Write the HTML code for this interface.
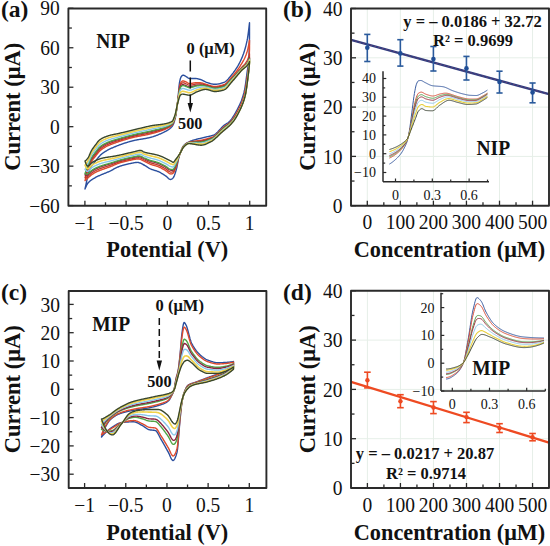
<!DOCTYPE html>
<html><head><meta charset="utf-8"><style>
html,body{margin:0;padding:0;background:#fff;width:550px;height:546px;overflow:hidden}
svg{display:block;font-family:"Liberation Serif",serif}
</style></head><body>
<svg width="550" height="546" viewBox="0 0 550 546" font-family="Liberation Serif, serif" fill="#111">
<rect width="550" height="546" fill="#fff"/>
<g>
<path d="M85,189 L85.5,186.64 L86,184.31 L86.5,182 L87,179.6 L87.5,177.15 L88,174.87 L88.5,173 L89,171.5 L89.5,170.17 L90,168.98 L90.5,167.93 L91,167 L91.5,166.17 L92,165.42 L92.5,164.73 L93,164.08 L93.5,163.47 L94,162.88 L94.5,162.28 L95,161.68 L95.5,161.06 L96,160.43 L96.5,159.8 L97,159.17 L97.5,158.54 L98,157.92 L98.5,157.32 L99,156.73 L99.5,156.16 L100,155.62 L100.5,155.1 L101,154.61 L101.5,154.16 L102,153.75 L102.5,153.38 L103,153.02 L103.5,152.67 L104,152.33 L104.5,152 L105,151.68 L105.5,151.37 L106,151.07 L106.5,150.77 L107,150.49 L107.5,150.21 L108,149.94 L108.5,149.68 L109,149.42 L109.5,149.17 L110,148.93 L110.5,148.69 L111,148.46 L111.5,148.23 L112,148 L112.5,147.78 L113,147.57 L113.5,147.35 L114,147.14 L114.5,146.93 L115,146.73 L115.5,146.52 L116,146.32 L116.5,146.12 L117,145.92 L117.5,145.72 L118,145.53 L118.5,145.33 L119,145.14 L119.5,144.95 L120,144.77 L120.5,144.58 L121,144.4 L121.5,144.22 L122,144.04 L122.5,143.87 L123,143.7 L123.5,143.53 L124,143.36 L124.5,143.19 L125,143.03 L125.5,142.87 L126,142.71 L126.5,142.55 L127,142.4 L127.5,142.25 L128,142.1 L128.5,141.95 L129,141.81 L129.5,141.67 L130,141.53 L130.5,141.39 L131,141.25 L131.5,141.12 L132,140.99 L132.5,140.87 L133,140.74 L133.5,140.62 L134,140.5 L134.5,140.38 L135,140.27 L135.5,140.17 L136,140.06 L136.5,139.97 L137,139.87 L137.5,139.78 L138,139.69 L138.5,139.6 L139,139.51 L139.5,139.43 L140,139.35 L140.5,139.27 L141,139.19 L141.5,139.11 L142,139.03 L142.5,138.95 L143,138.87 L143.5,138.79 L144,138.7 L144.5,138.62 L145,138.53 L145.5,138.44 L146,138.35 L146.5,138.26 L147,138.16 L147.5,138.06 L148,137.96 L148.5,137.85 L149,137.74 L149.5,137.62 L150,137.5 L150.5,137.37 L151,137.24 L151.5,137.1 L152,136.95 L152.5,136.8 L153,136.65 L153.5,136.48 L154,136.32 L154.5,136.15 L155,135.97 L155.5,135.79 L156,135.61 L156.5,135.42 L157,135.23 L157.5,135.03 L158,134.83 L158.5,134.63 L159,134.42 L159.5,134.21 L160,134 L160.5,133.79 L161,133.57 L161.5,133.36 L162,133.14 L162.5,132.91 L163,132.69 L163.5,132.45 L164,132.22 L164.5,131.97 L165,131.71 L165.5,131.45 L166,131.18 L166.5,130.89 L167,130.59 L167.5,130.28 L168,129.96 L168.5,129.62 L169,129.26 L169.5,128.89 L170,128.5 L170.5,128.08 L171,127.62 L171.5,127.1 L172,126.5 L172.5,125.81 L173,125 L173.5,123.97 L174,122.64 L174.5,121.01 L175,119.13 L175.5,117 L176,114.33 L176.5,110.94 L177,107.01 L177.5,102.73 L178,98.26 L178.5,92.47 L179,86.54 L179.5,82.64 L180,80.11 L180.5,78.18 L181,77 L181.5,76.3 L182,75.73 L182.5,75.34 L183,75.2 L183.5,75.26 L184,75.43 L184.5,75.67 L185,75.94 L185.5,76.23 L186,76.5 L186.5,76.79 L187,77.15 L187.5,77.53 L188,77.89 L188.5,78.2 L189,78.42 L189.5,78.5 L190,78.5 L190.5,78.5 L191,78.5 L191.5,78.5 L192,78.5 L192.5,78.5 L193,78.5 L193.5,78.5 L194,78.5 L194.5,78.5 L195,78.5 L195.5,78.5 L196,78.52 L196.5,78.57 L197,78.64 L197.5,78.73 L198,78.84 L198.5,78.96 L199,79.09 L199.5,79.22 L200,79.36 L200.5,79.5 L201,79.66 L201.5,79.85 L202,80.06 L202.5,80.31 L203,80.57 L203.5,80.83 L204,81.11 L204.5,81.38 L205,81.64 L205.5,81.89 L206,82.12 L206.5,82.33 L207,82.5 L207.5,82.65 L208,82.81 L208.5,82.97 L209,83.13 L209.5,83.28 L210,83.43 L210.5,83.57 L211,83.71 L211.5,83.83 L212,83.95 L212.5,84.05 L213,84.13 L213.5,84.2 L214,84.26 L214.5,84.29 L215,84.3 L215.5,84.29 L216,84.27 L216.5,84.23 L217,84.17 L217.5,84.11 L218,84.03 L218.5,83.94 L219,83.83 L219.5,83.72 L220,83.59 L220.5,83.46 L221,83.32 L221.5,83.17 L222,83.01 L222.5,82.85 L223,82.68 L223.5,82.51 L224,82.32 L224.5,82.1 L225,81.81 L225.5,81.48 L226,81.1 L226.5,80.68 L227,80.22 L227.5,79.72 L228,79.2 L228.5,78.65 L229,78.07 L229.5,77.48 L230,76.87 L230.5,76.25 L231,75.62 L231.5,74.99 L232,74.35 L232.5,73.72 L233,73.1 L233.5,72.45 L234,71.8 L234.5,71.12 L235,70.42 L235.5,69.71 L236,68.96 L236.5,68.2 L237,67.41 L237.5,66.58 L238,65.73 L238.5,64.85 L239,63.93 L239.5,62.98 L240,61.99 L240.5,60.96 L241,59.89 L241.5,58.77 L242,57.61 L242.5,56.4 L243,55.11 L243.5,53.75 L244,52.29 L244.5,50.73 L245,49.06 L245.5,47.25 L246,45.31 L246.5,43.21 L247,40.95 L247.5,38.4 L248,35.17 L248.5,31.37 L249,27.18 L249.5,22.78 L249.5,37.89 L249,58.15 L248.5,63.62 L248,66.9 L247.5,69.55 L247,73 L246.5,76.84 L246,80.66 L245.5,84.28 L245,87.54 L244.5,90.28 L244,92.38 L243.5,94.22 L243,95.93 L242.5,97.52 L242,99 L241.5,100.38 L241,101.66 L240.5,102.87 L240,104.01 L239.5,105.09 L239,106.12 L238.5,107.12 L238,108.09 L237.5,109.04 L237,109.99 L236.5,110.93 L236,111.85 L235.5,112.76 L235,113.64 L234.5,114.5 L234,115.34 L233.5,116.15 L233,116.93 L232.5,117.68 L232,118.39 L231.5,119.08 L231,119.72 L230.5,120.33 L230,120.9 L229.5,121.42 L229,121.9 L228.5,122.33 L228,122.71 L227.5,123.05 L227,123.37 L226.5,123.68 L226,123.99 L225.5,124.3 L225,124.63 L224.5,125 L224,125.4 L223.5,125.84 L223,126.31 L222.5,126.8 L222,127.31 L221.5,127.83 L221,128.37 L220.5,128.92 L220,129.47 L219.5,130.02 L219,130.56 L218.5,131.1 L218,131.62 L217.5,132.13 L217,132.61 L216.5,133.07 L216,133.5 L215.5,133.89 L215,134.25 L214.5,134.56 L214,134.82 L213.5,135.04 L213,135.23 L212.5,135.4 L212,135.56 L211.5,135.71 L211,135.85 L210.5,135.99 L210,136.11 L209.5,136.23 L209,136.34 L208.5,136.45 L208,136.56 L207.5,136.66 L207,136.77 L206.5,136.88 L206,136.99 L205.5,137.1 L205,137.22 L204.5,137.35 L204,137.48 L203.5,137.61 L203,137.73 L202.5,137.86 L202,137.98 L201.5,138.1 L201,138.22 L200.5,138.33 L200,138.45 L199.5,138.57 L199,138.69 L198.5,138.8 L198,138.92 L197.5,139.04 L197,139.17 L196.5,139.29 L196,139.42 L195.5,139.56 L195,139.69 L194.5,139.84 L194,139.98 L193.5,140.13 L193,140.29 L192.5,140.45 L192,140.62 L191.5,140.8 L191,140.99 L190.5,141.18 L190,141.38 L189.5,141.59 L189,141.81 L188.5,142.04 L188,142.28 L187.5,142.55 L187,142.84 L186.5,143.15 L186,143.49 L185.5,143.86 L185,144.27 L184.5,144.71 L184,145.2 L183.5,145.8 L183,146.57 L182.5,147.49 L182,148.55 L181.5,149.73 L181,151.02 L180.5,152.41 L180,153.86 L179.5,155.38 L179,157.04 L178.5,159.19 L178,161.66 L177.5,164.24 L177,166.73 L176.5,168.92 L176,170.65 L175.5,172.27 L175,173.83 L174.5,175.24 L174,176.45 L173.5,177.39 L173,178 L172.5,178.46 L172,178.87 L171.5,179.2 L171,179.42 L170.5,179.5 L170,179.42 L169.5,179.2 L169,178.87 L168.5,178.46 L168,177.99 L167.5,177.5 L167,177.01 L166.5,176.54 L166,176.14 L165.5,175.8 L165,175.48 L164.5,175.15 L164,174.83 L163.5,174.51 L163,174.2 L162.5,173.89 L162,173.59 L161.5,173.3 L161,173.01 L160.5,172.73 L160,172.47 L159.5,172.21 L159,171.97 L158.5,171.73 L158,171.51 L157.5,171.31 L157,171.12 L156.5,170.94 L156,170.77 L155.5,170.61 L155,170.46 L154.5,170.3 L154,170.15 L153.5,170 L153,169.84 L152.5,169.67 L152,169.5 L151.5,169.31 L151,169.11 L150.5,168.9 L150,168.66 L149.5,168.39 L149,168.1 L148.5,167.79 L148,167.47 L147.5,167.14 L147,166.81 L146.5,166.47 L146,166.15 L145.5,165.83 L145,165.53 L144.5,165.25 L144,165 L143.5,164.75 L143,164.5 L142.5,164.23 L142,163.97 L141.5,163.7 L141,163.45 L140.5,163.21 L140,163 L139.5,162.81 L139,162.64 L138.5,162.52 L138,162.44 L137.5,162.4 L137,162.41 L136.5,162.43 L136,162.47 L135.5,162.53 L135,162.6 L134.5,162.68 L134,162.77 L133.5,162.87 L133,162.97 L132.5,163.08 L132,163.18 L131.5,163.28 L131,163.38 L130.5,163.48 L130,163.57 L129.5,163.67 L129,163.78 L128.5,163.88 L128,163.99 L127.5,164.11 L127,164.22 L126.5,164.34 L126,164.46 L125.5,164.59 L125,164.71 L124.5,164.85 L124,164.98 L123.5,165.12 L123,165.26 L122.5,165.41 L122,165.56 L121.5,165.71 L121,165.87 L120.5,166.03 L120,166.2 L119.5,166.38 L119,166.56 L118.5,166.77 L118,166.98 L117.5,167.2 L117,167.44 L116.5,167.68 L116,167.93 L115.5,168.18 L115,168.44 L114.5,168.7 L114,168.97 L113.5,169.24 L113,169.51 L112.5,169.77 L112,170.04 L111.5,170.3 L111,170.56 L110.5,170.82 L110,171.06 L109.5,171.31 L109,171.54 L108.5,171.77 L108,171.99 L107.5,172.21 L107,172.42 L106.5,172.63 L106,172.84 L105.5,173.05 L105,173.25 L104.5,173.45 L104,173.66 L103.5,173.86 L103,174.06 L102.5,174.26 L102,174.47 L101.5,174.67 L101,174.88 L100.5,175.09 L100,175.31 L99.5,175.53 L99,175.75 L98.5,175.98 L98,176.22 L97.5,176.46 L97,176.7 L96.5,176.96 L96,177.22 L95.5,177.49 L95,177.77 L94.5,178.06 L94,178.35 L93.5,178.64 L93,178.93 L92.5,179.23 L92,179.55 L91.5,179.88 L91,180.23 L90.5,180.61 L90,181.02 L89.5,181.45 L89,181.93 L88.5,182.44 L88,183 L87.5,183.68 L87,184.54 L86.5,185.54 L86,186.64 L85.5,187.81 L85,189 Z" fill="none" stroke="#2b4f9e" stroke-width="1.4" stroke-linejoin="round"/>
<path d="M85,180.6 L85.5,178.85 L86,177.09 L86.5,175.32 L87,173.47 L87.5,171.56 L88,169.76 L88.5,168.21 L89,166.87 L89.5,165.59 L90,164.4 L90.5,163.31 L91,162.34 L91.5,161.49 L92,160.71 L92.5,160 L93,159.33 L93.5,158.69 L94,158.07 L94.5,157.46 L95,156.84 L95.5,156.21 L96,155.57 L96.5,154.92 L97,154.27 L97.5,153.63 L98,153 L98.5,152.4 L99,151.84 L99.5,151.31 L100,150.83 L100.5,150.37 L101,149.93 L101.5,149.53 L102,149.15 L102.5,148.81 L103,148.48 L103.5,148.16 L104,147.85 L104.5,147.56 L105,147.27 L105.5,146.99 L106,146.72 L106.5,146.46 L107,146.21 L107.5,145.97 L108,145.73 L108.5,145.5 L109,145.27 L109.5,145.05 L110,144.84 L110.5,144.63 L111,144.43 L111.5,144.24 L112,144.05 L112.5,143.86 L113,143.68 L113.5,143.5 L114,143.32 L114.5,143.15 L115,142.97 L115.5,142.8 L116,142.63 L116.5,142.46 L117,142.29 L117.5,142.12 L118,141.95 L118.5,141.78 L119,141.61 L119.5,141.45 L120,141.28 L120.5,141.12 L121,140.95 L121.5,140.79 L122,140.63 L122.5,140.48 L123,140.32 L123.5,140.17 L124,140.01 L124.5,139.86 L125,139.71 L125.5,139.56 L126,139.41 L126.5,139.27 L127,139.12 L127.5,138.98 L128,138.84 L128.5,138.7 L129,138.56 L129.5,138.43 L130,138.29 L130.5,138.16 L131,138.03 L131.5,137.9 L132,137.77 L132.5,137.65 L133,137.52 L133.5,137.4 L134,137.28 L134.5,137.16 L135,137.05 L135.5,136.94 L136,136.83 L136.5,136.72 L137,136.62 L137.5,136.52 L138,136.42 L138.5,136.32 L139,136.23 L139.5,136.13 L140,136.04 L140.5,135.94 L141,135.85 L141.5,135.76 L142,135.67 L142.5,135.58 L143,135.49 L143.5,135.39 L144,135.3 L144.5,135.21 L145,135.11 L145.5,135.02 L146,134.92 L146.5,134.82 L147,134.72 L147.5,134.61 L148,134.51 L148.5,134.4 L149,134.28 L149.5,134.17 L150,134.05 L150.5,133.93 L151,133.8 L151.5,133.68 L152,133.55 L152.5,133.42 L153,133.29 L153.5,133.15 L154,133.01 L154.5,132.87 L155,132.73 L155.5,132.59 L156,132.44 L156.5,132.29 L157,132.14 L157.5,131.98 L158,131.83 L158.5,131.67 L159,131.5 L159.5,131.34 L160,131.17 L160.5,131 L161,130.83 L161.5,130.66 L162,130.49 L162.5,130.31 L163,130.13 L163.5,129.94 L164,129.74 L164.5,129.54 L165,129.33 L165.5,129.12 L166,128.89 L166.5,128.66 L167,128.41 L167.5,128.15 L168,127.88 L168.5,127.59 L169,127.3 L169.5,126.98 L170,126.66 L170.5,126.31 L171,125.92 L171.5,125.49 L172,125 L172.5,124.38 L173,123.57 L173.5,122.53 L174,121.2 L174.5,119.65 L175,117.89 L175.5,115.88 L176,113.36 L176.5,110.26 L177,106.77 L177.5,103.09 L178,99.38 L178.5,94.81 L179,90.13 L179.5,86.93 L180,84.79 L180.5,83.22 L181,82.29 L181.5,81.7 L182,81.25 L182.5,80.97 L183,80.88 L183.5,80.94 L184,81.08 L184.5,81.27 L185,81.5 L185.5,81.73 L186,81.95 L186.5,82.19 L187,82.47 L187.5,82.77 L188,83.05 L188.5,83.29 L189,83.45 L189.5,83.51 L190,83.5 L190.5,83.47 L191,83.43 L191.5,83.37 L192,83.3 L192.5,83.22 L193,83.14 L193.5,83.05 L194,82.96 L194.5,82.87 L195,82.78 L195.5,82.7 L196,82.64 L196.5,82.6 L197,82.6 L197.5,82.61 L198,82.62 L198.5,82.65 L199,82.68 L199.5,82.72 L200,82.76 L200.5,82.8 L201,82.85 L201.5,82.94 L202,83.04 L202.5,83.17 L203,83.31 L203.5,83.47 L204,83.63 L204.5,83.8 L205,83.98 L205.5,84.15 L206,84.31 L206.5,84.47 L207,84.61 L207.5,84.75 L208,84.9 L208.5,85.05 L209,85.2 L209.5,85.36 L210,85.51 L210.5,85.66 L211,85.8 L211.5,85.94 L212,86.06 L212.5,86.17 L213,86.27 L213.5,86.35 L214,86.41 L214.5,86.45 L215,86.46 L215.5,86.45 L216,86.43 L216.5,86.39 L217,86.34 L217.5,86.28 L218,86.21 L218.5,86.12 L219,86.02 L219.5,85.92 L220,85.8 L220.5,85.68 L221,85.54 L221.5,85.4 L222,85.26 L222.5,85.1 L223,84.94 L223.5,84.78 L224,84.61 L224.5,84.38 L225,84.1 L225.5,83.76 L226,83.37 L226.5,82.95 L227,82.48 L227.5,81.98 L228,81.46 L228.5,80.91 L229,80.34 L229.5,79.76 L230,79.16 L230.5,78.57 L231,77.97 L231.5,77.37 L232,76.79 L232.5,76.22 L233,75.65 L233.5,75.07 L234,74.49 L234.5,73.88 L235,73.27 L235.5,72.64 L236,71.99 L236.5,71.34 L237,70.66 L237.5,69.97 L238,69.26 L238.5,68.54 L239,67.8 L239.5,67.05 L240,66.28 L240.5,65.49 L241,64.69 L241.5,63.86 L242,63.03 L242.5,62.19 L243,61.32 L243.5,60.41 L244,59.46 L244.5,58.44 L245,57.36 L245.5,56.19 L246,54.92 L246.5,53.55 L247,52.07 L247.5,50.4 L248,48.33 L248.5,45.92 L249,43.22 L249.5,40.22 L249.5,49.24 L249,62.69 L248.5,67.82 L248,71.49 L247.5,74.75 L247,78.36 L246.5,82.07 L246,85.59 L245.5,88.78 L245,91.51 L244.5,93.84 L244,95.75 L243.5,97.46 L243,99.03 L242.5,100.49 L242,101.85 L241.5,103.12 L241,104.31 L240.5,105.43 L240,106.5 L239.5,107.52 L239,108.52 L238.5,109.49 L238,110.43 L237.5,111.34 L237,112.24 L236.5,113.13 L236,113.99 L235.5,114.83 L235,115.64 L234.5,116.43 L234,117.19 L233.5,117.93 L233,118.63 L232.5,119.3 L232,119.95 L231.5,120.57 L231,121.17 L230.5,121.73 L230,122.26 L229.5,122.76 L229,123.22 L228.5,123.65 L228,124.04 L227.5,124.41 L227,124.76 L226.5,125.09 L226,125.43 L225.5,125.78 L225,126.14 L224.5,126.52 L224,126.93 L223.5,127.36 L223,127.81 L222.5,128.28 L222,128.77 L221.5,129.27 L221,129.78 L220.5,130.3 L220,130.83 L219.5,131.35 L219,131.88 L218.5,132.4 L218,132.92 L217.5,133.42 L217,133.9 L216.5,134.36 L216,134.8 L215.5,135.22 L215,135.6 L214.5,135.95 L214,136.27 L213.5,136.54 L213,136.79 L212.5,137.02 L212,137.24 L211.5,137.44 L211,137.62 L210.5,137.79 L210,137.95 L209.5,138.11 L209,138.26 L208.5,138.41 L208,138.56 L207.5,138.7 L207,138.84 L206.5,138.98 L206,139.12 L205.5,139.26 L205,139.4 L204.5,139.54 L204,139.67 L203.5,139.8 L203,139.92 L202.5,140.03 L202,140.13 L201.5,140.23 L201,140.31 L200.5,140.39 L200,140.46 L199.5,140.53 L199,140.6 L198.5,140.67 L198,140.73 L197.5,140.79 L197,140.85 L196.5,140.91 L196,140.98 L195.5,141.04 L195,141.11 L194.5,141.18 L194,141.25 L193.5,141.33 L193,141.41 L192.5,141.5 L192,141.6 L191.5,141.7 L191,141.81 L190.5,141.93 L190,142.06 L189.5,142.2 L189,142.35 L188.5,142.51 L188,142.71 L187.5,142.95 L187,143.23 L186.5,143.55 L186,143.9 L185.5,144.29 L185,144.71 L184.5,145.17 L184,145.65 L183.5,146.23 L183,146.98 L182.5,147.87 L182,148.87 L181.5,149.98 L181,151.17 L180.5,152.42 L180,153.71 L179.5,155.02 L179,156.41 L178.5,158.13 L178,160.07 L177.5,162.08 L177,164.03 L176.5,165.75 L176,167.16 L175.5,168.5 L175,169.81 L174.5,171.02 L174,172.05 L173.5,172.83 L173,173.29 L172.5,173.56 L172,173.74 L171.5,173.87 L171,173.94 L170.5,173.92 L170,173.78 L169.5,173.55 L169,173.24 L168.5,172.88 L168,172.47 L167.5,172.05 L167,171.63 L166.5,171.23 L166,170.87 L165.5,170.56 L165,170.26 L164.5,169.96 L164,169.66 L163.5,169.37 L163,169.08 L162.5,168.8 L162,168.53 L161.5,168.26 L161,168 L160.5,167.74 L160,167.5 L159.5,167.27 L159,167.04 L158.5,166.83 L158,166.63 L157.5,166.44 L157,166.27 L156.5,166.11 L156,165.95 L155.5,165.8 L155,165.66 L154.5,165.52 L154,165.38 L153.5,165.24 L153,165.1 L152.5,164.96 L152,164.81 L151.5,164.65 L151,164.49 L150.5,164.31 L150,164.11 L149.5,163.9 L149,163.66 L148.5,163.41 L148,163.16 L147.5,162.89 L147,162.62 L146.5,162.35 L146,162.08 L145.5,161.82 L145,161.57 L144.5,161.33 L144,161.1 L143.5,160.86 L143,160.59 L142.5,160.31 L142,160.03 L141.5,159.77 L141,159.55 L140.5,159.37 L140,159.23 L139.5,159.11 L139,159.02 L138.5,158.96 L138,158.93 L137.5,158.95 L137,158.99 L136.5,159.05 L136,159.12 L135.5,159.2 L135,159.29 L134.5,159.38 L134,159.48 L133.5,159.58 L133,159.69 L132.5,159.79 L132,159.9 L131.5,160 L131,160.11 L130.5,160.21 L130,160.31 L129.5,160.42 L129,160.52 L128.5,160.63 L128,160.75 L127.5,160.86 L127,160.98 L126.5,161.09 L126,161.22 L125.5,161.34 L125,161.46 L124.5,161.59 L124,161.72 L123.5,161.85 L123,161.99 L122.5,162.13 L122,162.27 L121.5,162.41 L121,162.55 L120.5,162.7 L120,162.85 L119.5,163 L119,163.17 L118.5,163.34 L118,163.52 L117.5,163.71 L117,163.9 L116.5,164.1 L116,164.31 L115.5,164.51 L115,164.72 L114.5,164.93 L114,165.14 L113.5,165.36 L113,165.57 L112.5,165.78 L112,165.99 L111.5,166.19 L111,166.4 L110.5,166.6 L110,166.79 L109.5,166.98 L109,167.17 L108.5,167.35 L108,167.53 L107.5,167.7 L107,167.88 L106.5,168.05 L106,168.22 L105.5,168.39 L105,168.56 L104.5,168.73 L104,168.9 L103.5,169.07 L103,169.25 L102.5,169.42 L102,169.6 L101.5,169.79 L101,169.97 L100.5,170.17 L100,170.36 L99.5,170.57 L99,170.77 L98.5,170.99 L98,171.21 L97.5,171.44 L97,171.67 L96.5,171.92 L96,172.17 L95.5,172.42 L95,172.69 L94.5,172.96 L94,173.24 L93.5,173.52 L93,173.81 L92.5,174.12 L92,174.47 L91.5,174.84 L91,175.24 L90.5,175.66 L90,176.1 L89.5,176.54 L89,176.99 L88.5,177.44 L88,177.89 L87.5,178.37 L87,178.87 L86.5,179.32 L86,179.76 L85.5,180.18 L85,180.6 Z" fill="none" stroke="#dd4b2e" stroke-width="1.4" stroke-linejoin="round"/>
<path d="M85,177.8 L85.5,176.26 L86,174.69 L86.5,173.1 L87,171.43 L87.5,169.7 L88,168.06 L88.5,166.62 L89,165.32 L89.5,164.06 L90,162.87 L90.5,161.77 L91,160.78 L91.5,159.93 L92,159.15 L92.5,158.42 L93,157.75 L93.5,157.1 L94,156.47 L94.5,155.85 L95,155.22 L95.5,154.59 L96,153.95 L96.5,153.3 L97,152.64 L97.5,151.99 L98,151.36 L98.5,150.76 L99,150.2 L99.5,149.7 L100,149.23 L100.5,148.79 L101,148.37 L101.5,147.98 L102,147.62 L102.5,147.29 L103,146.97 L103.5,146.66 L104,146.36 L104.5,146.07 L105,145.8 L105.5,145.53 L106,145.27 L106.5,145.03 L107,144.78 L107.5,144.55 L108,144.32 L108.5,144.1 L109,143.89 L109.5,143.68 L110,143.48 L110.5,143.28 L111,143.09 L111.5,142.91 L112,142.73 L112.5,142.55 L113,142.38 L113.5,142.21 L114,142.05 L114.5,141.88 L115,141.72 L115.5,141.56 L116,141.4 L116.5,141.24 L117,141.08 L117.5,140.92 L118,140.76 L118.5,140.59 L119,140.43 L119.5,140.28 L120,140.12 L120.5,139.96 L121,139.81 L121.5,139.65 L122,139.5 L122.5,139.35 L123,139.2 L123.5,139.05 L124,138.9 L124.5,138.75 L125,138.6 L125.5,138.46 L126,138.32 L126.5,138.17 L127,138.03 L127.5,137.89 L128,137.76 L128.5,137.62 L129,137.48 L129.5,137.35 L130,137.22 L130.5,137.09 L131,136.96 L131.5,136.83 L132,136.7 L132.5,136.58 L133,136.45 L133.5,136.33 L134,136.21 L134.5,136.09 L135,135.97 L135.5,135.86 L136,135.75 L136.5,135.64 L137,135.54 L137.5,135.43 L138,135.33 L138.5,135.23 L139,135.13 L139.5,135.03 L140,134.93 L140.5,134.84 L141,134.74 L141.5,134.65 L142,134.55 L142.5,134.45 L143,134.36 L143.5,134.26 L144,134.17 L144.5,134.07 L145,133.97 L145.5,133.87 L146,133.77 L146.5,133.67 L147,133.57 L147.5,133.46 L148,133.35 L148.5,133.24 L149,133.13 L149.5,133.02 L150,132.9 L150.5,132.78 L151,132.66 L151.5,132.54 L152,132.42 L152.5,132.29 L153,132.17 L153.5,132.04 L154,131.91 L154.5,131.78 L155,131.65 L155.5,131.52 L156,131.38 L156.5,131.25 L157,131.11 L157.5,130.97 L158,130.82 L158.5,130.68 L159,130.53 L159.5,130.38 L160,130.23 L160.5,130.08 L161,129.92 L161.5,129.77 L162,129.61 L162.5,129.44 L163,129.27 L163.5,129.1 L164,128.92 L164.5,128.74 L165,128.54 L165.5,128.34 L166,128.13 L166.5,127.91 L167,127.68 L167.5,127.44 L168,127.19 L168.5,126.92 L169,126.64 L169.5,126.35 L170,126.04 L170.5,125.71 L171,125.35 L171.5,124.95 L172,124.5 L172.5,123.91 L173,123.1 L173.5,122.05 L174,120.73 L174.5,119.19 L175,117.48 L175.5,115.51 L176,113.04 L176.5,110.03 L177,106.7 L177.5,103.21 L178,99.76 L178.5,95.59 L179,91.33 L179.5,88.36 L180,86.35 L180.5,84.91 L181,84.05 L181.5,83.5 L182,83.09 L182.5,82.85 L183,82.77 L183.5,82.83 L184,82.96 L184.5,83.14 L185,83.35 L185.5,83.56 L186,83.77 L186.5,83.99 L187,84.25 L187.5,84.51 L188,84.77 L188.5,84.98 L189,85.13 L189.5,85.18 L190,85.17 L190.5,85.13 L191,85.07 L191.5,84.99 L192,84.9 L192.5,84.8 L193,84.68 L193.5,84.57 L194,84.44 L194.5,84.32 L195,84.21 L195.5,84.1 L196,84.01 L196.5,83.95 L197,83.92 L197.5,83.9 L198,83.89 L198.5,83.88 L199,83.88 L199.5,83.88 L200,83.89 L200.5,83.9 L201,83.92 L201.5,83.97 L202,84.03 L202.5,84.12 L203,84.23 L203.5,84.34 L204,84.47 L204.5,84.61 L205,84.75 L205.5,84.9 L206,85.04 L206.5,85.18 L207,85.32 L207.5,85.45 L208,85.59 L208.5,85.74 L209,85.89 L209.5,86.05 L210,86.2 L210.5,86.36 L211,86.5 L211.5,86.64 L212,86.77 L212.5,86.88 L213,86.98 L213.5,87.07 L214,87.13 L214.5,87.17 L215,87.18 L215.5,87.17 L216,87.15 L216.5,87.12 L217,87.07 L217.5,87.01 L218,86.93 L218.5,86.85 L219,86.76 L219.5,86.65 L220,86.54 L220.5,86.42 L221,86.29 L221.5,86.15 L222,86 L222.5,85.85 L223,85.7 L223.5,85.54 L224,85.37 L224.5,85.15 L225,84.86 L225.5,84.52 L226,84.13 L226.5,83.7 L227,83.24 L227.5,82.76 L228,82.25 L228.5,81.72 L229,81.18 L229.5,80.63 L230,80.08 L230.5,79.53 L231,78.98 L231.5,78.44 L232,77.92 L232.5,77.41 L233,76.92 L233.5,76.43 L234,75.92 L234.5,75.41 L235,74.88 L235.5,74.35 L236,73.81 L236.5,73.27 L237,72.71 L237.5,72.16 L238,71.59 L238.5,71.03 L239,70.46 L239.5,69.89 L240,69.32 L240.5,68.75 L241,68.18 L241.5,67.62 L242,67.07 L242.5,66.55 L243,66.03 L243.5,65.51 L244,64.97 L244.5,64.4 L245,63.8 L245.5,63.13 L246,62.4 L246.5,61.59 L247,60.71 L247.5,59.74 L248,58.57 L248.5,57.24 L249,55.69 L249.5,53.78 L249.5,58.07 L249,66.22 L248.5,71.09 L248,75.07 L247.5,78.79 L247,82.53 L246.5,86.13 L246,89.42 L245.5,92.27 L245,94.59 L244.5,96.6 L244,98.35 L243.5,99.93 L243,101.39 L242.5,102.73 L242,103.98 L241.5,105.14 L241,106.23 L240.5,107.27 L240,108.26 L239.5,109.22 L239,110.16 L238.5,111.08 L238,111.97 L237.5,112.83 L237,113.67 L236.5,114.48 L236,115.27 L235.5,116.04 L235,116.78 L234.5,117.49 L234,118.18 L233.5,118.84 L233,119.48 L232.5,120.09 L232,120.67 L231.5,121.24 L231,121.78 L230.5,122.3 L230,122.8 L229.5,123.27 L229,123.71 L228.5,124.12 L228,124.51 L227.5,124.87 L227,125.22 L226.5,125.57 L226,125.92 L225.5,126.27 L225,126.64 L224.5,127.02 L224,127.43 L223.5,127.86 L223,128.31 L222.5,128.77 L222,129.25 L221.5,129.74 L221,130.25 L220.5,130.76 L220,131.28 L219.5,131.8 L219,132.32 L218.5,132.84 L218,133.35 L217.5,133.84 L217,134.33 L216.5,134.79 L216,135.24 L215.5,135.66 L215,136.06 L214.5,136.42 L214,136.75 L213.5,137.04 L213,137.31 L212.5,137.56 L212,137.79 L211.5,138.01 L211,138.21 L210.5,138.39 L210,138.56 L209.5,138.73 L209,138.9 L208.5,139.06 L208,139.22 L207.5,139.38 L207,139.53 L206.5,139.68 L206,139.83 L205.5,139.98 L205,140.12 L204.5,140.27 L204,140.4 L203.5,140.53 L203,140.65 L202.5,140.76 L202,140.85 L201.5,140.94 L201,141.01 L200.5,141.07 L200,141.13 L199.5,141.19 L199,141.24 L198.5,141.29 L198,141.33 L197.5,141.37 L197,141.41 L196.5,141.45 L196,141.49 L195.5,141.54 L195,141.58 L194.5,141.63 L194,141.68 L193.5,141.73 L193,141.79 L192.5,141.85 L192,141.93 L191.5,142 L191,142.09 L190.5,142.18 L190,142.29 L189.5,142.4 L189,142.53 L188.5,142.67 L188,142.85 L187.5,143.08 L187,143.36 L186.5,143.68 L186,144.04 L185.5,144.44 L185,144.86 L184.5,145.32 L184,145.8 L183.5,146.38 L183,147.12 L182.5,147.99 L182,148.98 L181.5,150.06 L181,151.22 L180.5,152.43 L180,153.66 L179.5,154.91 L179,156.2 L178.5,157.78 L178,159.54 L177.5,161.36 L177,163.13 L176.5,164.7 L176,165.99 L175.5,167.24 L175,168.47 L174.5,169.61 L174,170.58 L173.5,171.31 L173,171.72 L172.5,171.92 L172,172.03 L171.5,172.09 L171,172.11 L170.5,172.05 L170,171.9 L169.5,171.67 L169,171.37 L168.5,171.02 L168,170.63 L167.5,170.23 L167,169.84 L166.5,169.46 L166,169.11 L165.5,168.81 L165,168.52 L164.5,168.23 L164,167.94 L163.5,167.66 L163,167.38 L162.5,167.11 L162,166.84 L161.5,166.58 L161,166.33 L160.5,166.08 L160,165.85 L159.5,165.62 L159,165.4 L158.5,165.2 L158,165 L157.5,164.82 L157,164.65 L156.5,164.49 L156,164.34 L155.5,164.2 L155,164.06 L154.5,163.93 L154,163.79 L153.5,163.66 L153,163.53 L152.5,163.39 L152,163.25 L151.5,163.1 L151,162.94 L150.5,162.78 L150,162.59 L149.5,162.4 L149,162.18 L148.5,161.95 L148,161.72 L147.5,161.47 L147,161.23 L146.5,160.98 L146,160.73 L145.5,160.48 L145,160.25 L144.5,160.02 L144,159.8 L143.5,159.56 L143,159.29 L142.5,159 L142,158.72 L141.5,158.46 L141,158.24 L140.5,158.09 L140,157.97 L139.5,157.88 L139,157.81 L138.5,157.77 L138,157.77 L137.5,157.79 L137,157.85 L136.5,157.92 L136,158 L135.5,158.09 L135,158.19 L134.5,158.28 L134,158.38 L133.5,158.49 L133,158.59 L132.5,158.7 L132,158.81 L131.5,158.91 L131,159.02 L130.5,159.12 L130,159.22 L129.5,159.33 L129,159.44 L128.5,159.55 L128,159.66 L127.5,159.78 L127,159.89 L126.5,160.01 L126,160.13 L125.5,160.26 L125,160.38 L124.5,160.51 L124,160.64 L123.5,160.77 L123,160.9 L122.5,161.03 L122,161.17 L121.5,161.31 L121,161.45 L120.5,161.59 L120,161.73 L119.5,161.88 L119,162.04 L118.5,162.2 L118,162.37 L117.5,162.55 L117,162.73 L116.5,162.91 L116,163.1 L115.5,163.29 L115,163.48 L114.5,163.68 L114,163.87 L113.5,164.06 L113,164.26 L112.5,164.45 L112,164.64 L111.5,164.82 L111,165.01 L110.5,165.19 L110,165.37 L109.5,165.54 L109,165.71 L108.5,165.87 L108,166.04 L107.5,166.2 L107,166.36 L106.5,166.52 L106,166.68 L105.5,166.83 L105,166.99 L104.5,167.15 L104,167.31 L103.5,167.48 L103,167.64 L102.5,167.81 L102,167.98 L101.5,168.16 L101,168.34 L100.5,168.52 L100,168.71 L99.5,168.91 L99,169.12 L98.5,169.33 L98,169.54 L97.5,169.77 L97,170 L96.5,170.23 L96,170.48 L95.5,170.73 L95,171 L94.5,171.27 L94,171.54 L93.5,171.82 L93,172.1 L92.5,172.42 L92,172.78 L91.5,173.17 L91,173.58 L90.5,174.01 L90,174.46 L89.5,174.9 L89,175.34 L88.5,175.77 L88,176.18 L87.5,176.61 L87,176.97 L86.5,177.25 L86,177.47 L85.5,177.64 L85,177.8 Z" fill="none" stroke="#c0392b" stroke-width="1.3" stroke-linejoin="round"/>
<path d="M85,175 L85.5,173.66 L86,172.28 L86.5,170.87 L87,169.38 L87.5,167.83 L88,166.35 L88.5,165.02 L89,163.77 L89.5,162.53 L90,161.34 L90.5,160.23 L91,159.23 L91.5,158.36 L92,157.58 L92.5,156.85 L93,156.16 L93.5,155.5 L94,154.87 L94.5,154.24 L95,153.61 L95.5,152.97 L96,152.33 L96.5,151.67 L97,151.01 L97.5,150.36 L98,149.72 L98.5,149.12 L99,148.57 L99.5,148.08 L100,147.63 L100.5,147.21 L101,146.81 L101.5,146.43 L102,146.09 L102.5,145.76 L103,145.45 L103.5,145.16 L104,144.87 L104.5,144.59 L105,144.33 L105.5,144.07 L106,143.83 L106.5,143.59 L107,143.36 L107.5,143.14 L108,142.92 L108.5,142.71 L109,142.51 L109.5,142.31 L110,142.12 L110.5,141.93 L111,141.75 L111.5,141.58 L112,141.41 L112.5,141.25 L113,141.09 L113.5,140.93 L114,140.77 L114.5,140.62 L115,140.47 L115.5,140.32 L116,140.17 L116.5,140.02 L117,139.87 L117.5,139.72 L118,139.56 L118.5,139.41 L119,139.26 L119.5,139.11 L120,138.96 L120.5,138.81 L121,138.66 L121.5,138.51 L122,138.36 L122.5,138.21 L123,138.07 L123.5,137.93 L124,137.78 L124.5,137.64 L125,137.5 L125.5,137.36 L126,137.22 L126.5,137.08 L127,136.94 L127.5,136.8 L128,136.67 L128.5,136.54 L129,136.4 L129.5,136.27 L130,136.14 L130.5,136.01 L131,135.88 L131.5,135.75 L132,135.63 L132.5,135.5 L133,135.38 L133.5,135.26 L134,135.14 L134.5,135.02 L135,134.9 L135.5,134.79 L136,134.67 L136.5,134.56 L137,134.45 L137.5,134.35 L138,134.24 L138.5,134.14 L139,134.03 L139.5,133.93 L140,133.83 L140.5,133.73 L141,133.63 L141.5,133.53 L142,133.43 L142.5,133.33 L143,133.23 L143.5,133.13 L144,133.03 L144.5,132.93 L145,132.83 L145.5,132.73 L146,132.63 L146.5,132.52 L147,132.42 L147.5,132.31 L148,132.2 L148.5,132.09 L149,131.98 L149.5,131.87 L150,131.75 L150.5,131.63 L151,131.52 L151.5,131.4 L152,131.28 L152.5,131.17 L153,131.05 L153.5,130.93 L154,130.81 L154.5,130.69 L155,130.57 L155.5,130.45 L156,130.33 L156.5,130.2 L157,130.08 L157.5,129.95 L158,129.82 L158.5,129.69 L159,129.56 L159.5,129.43 L160,129.29 L160.5,129.15 L161,129.01 L161.5,128.87 L162,128.72 L162.5,128.57 L163,128.42 L163.5,128.26 L164,128.1 L164.5,127.93 L165,127.75 L165.5,127.56 L166,127.37 L166.5,127.17 L167,126.95 L167.5,126.73 L168,126.49 L168.5,126.25 L169,125.99 L169.5,125.71 L170,125.43 L170.5,125.12 L171,124.79 L171.5,124.42 L172,124 L172.5,123.43 L173,122.62 L173.5,121.56 L174,120.25 L174.5,118.73 L175,117.06 L175.5,115.13 L176,112.71 L176.5,109.81 L177,106.62 L177.5,103.33 L178,100.13 L178.5,96.37 L179,92.53 L179.5,89.79 L180,87.91 L180.5,86.59 L181,85.81 L181.5,85.31 L182,84.93 L182.5,84.72 L183,84.66 L183.5,84.72 L184,84.84 L184.5,85.01 L185,85.2 L185.5,85.4 L186,85.59 L186.5,85.79 L187,86.02 L187.5,86.26 L188,86.48 L188.5,86.67 L189,86.8 L189.5,86.85 L190,86.83 L190.5,86.79 L191,86.71 L191.5,86.62 L192,86.5 L192.5,86.37 L193,86.23 L193.5,86.08 L194,85.93 L194.5,85.78 L195,85.63 L195.5,85.49 L196,85.38 L196.5,85.29 L197,85.23 L197.5,85.19 L198,85.15 L198.5,85.11 L199,85.08 L199.5,85.05 L200,85.02 L200.5,85 L201,84.99 L201.5,85 L202,85.03 L202.5,85.08 L203,85.14 L203.5,85.22 L204,85.31 L204.5,85.42 L205,85.53 L205.5,85.65 L206,85.77 L206.5,85.9 L207,86.02 L207.5,86.15 L208,86.29 L208.5,86.43 L209,86.59 L209.5,86.74 L210,86.9 L210.5,87.05 L211,87.2 L211.5,87.34 L212,87.47 L212.5,87.59 L213,87.7 L213.5,87.78 L214,87.85 L214.5,87.89 L215,87.9 L215.5,87.89 L216,87.87 L216.5,87.84 L217,87.79 L217.5,87.73 L218,87.66 L218.5,87.58 L219,87.49 L219.5,87.38 L220,87.27 L220.5,87.16 L221,87.03 L221.5,86.89 L222,86.75 L222.5,86.61 L223,86.45 L223.5,86.3 L224,86.13 L224.5,85.91 L225,85.62 L225.5,85.28 L226,84.89 L226.5,84.46 L227,83.99 L227.5,83.5 L228,82.99 L228.5,82.46 L229,81.92 L229.5,81.36 L230,80.81 L230.5,80.25 L231,79.71 L231.5,79.17 L232,78.65 L232.5,78.15 L233,77.67 L233.5,77.18 L234,76.68 L234.5,76.18 L235,75.67 L235.5,75.15 L236,74.62 L236.5,74.09 L237,73.56 L237.5,73.02 L238,72.48 L238.5,71.94 L239,71.41 L239.5,70.87 L240,70.35 L240.5,69.82 L241,69.31 L241.5,68.8 L242,68.32 L242.5,67.87 L243,67.43 L243.5,67.01 L244,66.57 L244.5,66.13 L245,65.65 L245.5,65.12 L246,64.53 L246.5,63.89 L247,63.18 L247.5,62.4 L248,61.5 L248.5,60.47 L249,59.25 L249.5,57.65 L249.5,60.6 L249,67.23 L248.5,72.02 L248,76.09 L247.5,79.94 L247,83.72 L246.5,87.3 L246,90.52 L245.5,93.28 L245,95.48 L244.5,97.39 L244,99.1 L243.5,100.66 L243,102.09 L242.5,103.41 L242,104.63 L241.5,105.78 L241,106.85 L240.5,107.87 L240,108.85 L239.5,109.81 L239,110.75 L238.5,111.67 L238,112.56 L237.5,113.42 L237,114.25 L236.5,115.06 L236,115.84 L235.5,116.6 L235,117.33 L234.5,118.03 L234,118.71 L233.5,119.35 L233,119.97 L232.5,120.57 L232,121.14 L231.5,121.7 L231,122.23 L230.5,122.74 L230,123.23 L229.5,123.7 L229,124.14 L228.5,124.55 L228,124.95 L227.5,125.32 L227,125.68 L226.5,126.04 L226,126.4 L225.5,126.77 L225,127.14 L224.5,127.53 L224,127.94 L223.5,128.37 L223,128.81 L222.5,129.27 L222,129.74 L221.5,130.22 L221,130.72 L220.5,131.22 L220,131.73 L219.5,132.24 L219,132.76 L218.5,133.27 L218,133.78 L217.5,134.27 L217,134.76 L216.5,135.23 L216,135.68 L215.5,136.11 L215,136.51 L214.5,136.89 L214,137.23 L213.5,137.54 L213,137.83 L212.5,138.1 L212,138.35 L211.5,138.58 L211,138.8 L210.5,138.99 L210,139.18 L209.5,139.36 L209,139.54 L208.5,139.71 L208,139.89 L207.5,140.06 L207,140.22 L206.5,140.39 L206,140.55 L205.5,140.7 L205,140.85 L204.5,141 L204,141.13 L203.5,141.26 L203,141.38 L202.5,141.48 L202,141.57 L201.5,141.65 L201,141.71 L200.5,141.76 L200,141.81 L199.5,141.84 L199,141.88 L198.5,141.91 L198,141.93 L197.5,141.95 L197,141.97 L196.5,141.99 L196,142.01 L195.5,142.03 L195,142.05 L194.5,142.07 L194,142.1 L193.5,142.13 L193,142.16 L192.5,142.2 L192,142.25 L191.5,142.3 L191,142.36 L190.5,142.44 L190,142.51 L189.5,142.6 L189,142.71 L188.5,142.82 L188,142.99 L187.5,143.22 L187,143.49 L186.5,143.82 L186,144.18 L185.5,144.58 L185,145.01 L184.5,145.47 L184,145.95 L183.5,146.52 L183,147.26 L182.5,148.12 L182,149.09 L181.5,150.15 L181,151.27 L180.5,152.43 L180,153.61 L179.5,154.79 L179,155.99 L178.5,157.43 L178,159.01 L177.5,160.65 L177,162.23 L176.5,163.64 L176,164.83 L175.5,165.98 L175,167.13 L174.5,168.2 L174,169.12 L173.5,169.79 L173,170.15 L172.5,170.29 L172,170.32 L171.5,170.31 L171,170.28 L170.5,170.19 L170,170.02 L169.5,169.79 L169,169.49 L168.5,169.15 L168,168.79 L167.5,168.42 L167,168.04 L166.5,167.69 L166,167.36 L165.5,167.07 L165,166.78 L164.5,166.5 L164,166.22 L163.5,165.94 L163,165.67 L162.5,165.41 L162,165.15 L161.5,164.9 L161,164.66 L160.5,164.42 L160,164.19 L159.5,163.97 L159,163.76 L158.5,163.56 L158,163.38 L157.5,163.2 L157,163.04 L156.5,162.88 L156,162.74 L155.5,162.6 L155,162.46 L154.5,162.33 L154,162.2 L153.5,162.08 L153,161.95 L152.5,161.82 L152,161.68 L151.5,161.54 L151,161.4 L150.5,161.24 L150,161.08 L149.5,160.9 L149,160.7 L148.5,160.49 L148,160.28 L147.5,160.06 L147,159.83 L146.5,159.6 L146,159.38 L145.5,159.15 L145,158.93 L144.5,158.71 L144,158.5 L143.5,158.27 L143,157.99 L142.5,157.69 L142,157.41 L141.5,157.15 L141,156.94 L140.5,156.81 L140,156.71 L139.5,156.64 L139,156.6 L138.5,156.58 L138,156.6 L137.5,156.64 L137,156.71 L136.5,156.79 L136,156.88 L135.5,156.98 L135,157.08 L134.5,157.18 L134,157.29 L133.5,157.39 L133,157.5 L132.5,157.6 L132,157.71 L131.5,157.82 L131,157.93 L130.5,158.03 L130,158.14 L129.5,158.25 L129,158.36 L128.5,158.47 L128,158.58 L127.5,158.7 L127,158.81 L126.5,158.93 L126,159.05 L125.5,159.17 L125,159.3 L124.5,159.42 L124,159.55 L123.5,159.68 L123,159.81 L122.5,159.94 L122,160.07 L121.5,160.2 L121,160.34 L120.5,160.48 L120,160.61 L119.5,160.76 L119,160.91 L118.5,161.06 L118,161.22 L117.5,161.38 L117,161.55 L116.5,161.72 L116,161.89 L115.5,162.07 L115,162.24 L114.5,162.42 L114,162.59 L113.5,162.77 L113,162.94 L112.5,163.11 L112,163.28 L111.5,163.45 L111,163.62 L110.5,163.78 L110,163.94 L109.5,164.1 L109,164.25 L108.5,164.4 L108,164.55 L107.5,164.7 L107,164.84 L106.5,164.99 L106,165.14 L105.5,165.28 L105,165.43 L104.5,165.58 L104,165.73 L103.5,165.88 L103,166.04 L102.5,166.2 L102,166.36 L101.5,166.53 L101,166.7 L100.5,166.88 L100,167.07 L99.5,167.26 L99,167.46 L98.5,167.66 L98,167.87 L97.5,168.09 L97,168.32 L96.5,168.55 L96,168.79 L95.5,169.04 L95,169.3 L94.5,169.57 L94,169.84 L93.5,170.11 L93,170.39 L92.5,170.71 L92,171.08 L91.5,171.49 L91,171.92 L90.5,172.36 L90,172.82 L89.5,173.26 L89,173.7 L88.5,174.1 L88,174.48 L87.5,174.84 L87,175.08 L86.5,175.18 L86,175.17 L85.5,175.1 L85,175 Z" fill="none" stroke="#8b2540" stroke-width="1.3" stroke-linejoin="round"/>
<path d="M85,173.6 L85.5,172.36 L86,171.08 L86.5,169.76 L87,168.36 L87.5,166.9 L88,165.5 L88.5,164.23 L89,163 L89.5,161.77 L90,160.58 L90.5,159.46 L91,158.45 L91.5,157.58 L92,156.8 L92.5,156.06 L93,155.37 L93.5,154.71 L94,154.07 L94.5,153.43 L95,152.8 L95.5,152.16 L96,151.52 L96.5,150.86 L97,150.2 L97.5,149.54 L98,148.9 L98.5,148.31 L99,147.76 L99.5,147.27 L100,146.84 L100.5,146.42 L101,146.03 L101.5,145.66 L102,145.32 L102.5,145 L103,144.7 L103.5,144.4 L104,144.12 L104.5,143.85 L105,143.59 L105.5,143.34 L106,143.1 L106.5,142.87 L107,142.64 L107.5,142.43 L108,142.22 L108.5,142.01 L109,141.81 L109.5,141.62 L110,141.43 L110.5,141.25 L111,141.08 L111.5,140.91 L112,140.75 L112.5,140.59 L113,140.44 L113.5,140.29 L114,140.14 L114.5,139.99 L115,139.84 L115.5,139.7 L116,139.55 L116.5,139.41 L117,139.26 L117.5,139.12 L118,138.97 L118.5,138.82 L119,138.67 L119.5,138.52 L120,138.37 L120.5,138.23 L121,138.08 L121.5,137.94 L122,137.79 L122.5,137.65 L123,137.51 L123.5,137.36 L124,137.22 L124.5,137.08 L125,136.94 L125.5,136.81 L126,136.67 L126.5,136.53 L127,136.4 L127.5,136.26 L128,136.13 L128.5,135.99 L129,135.86 L129.5,135.73 L130,135.6 L130.5,135.47 L131,135.34 L131.5,135.22 L132,135.09 L132.5,134.97 L133,134.84 L133.5,134.72 L134,134.6 L134.5,134.48 L135,134.36 L135.5,134.25 L136,134.13 L136.5,134.02 L137,133.91 L137.5,133.8 L138,133.7 L138.5,133.59 L139,133.49 L139.5,133.38 L140,133.28 L140.5,133.18 L141,133.07 L141.5,132.97 L142,132.87 L142.5,132.77 L143,132.67 L143.5,132.57 L144,132.47 L144.5,132.36 L145,132.26 L145.5,132.16 L146,132.05 L146.5,131.95 L147,131.84 L147.5,131.73 L148,131.63 L148.5,131.52 L149,131.4 L149.5,131.29 L150,131.18 L150.5,131.06 L151,130.94 L151.5,130.83 L152,130.72 L152.5,130.6 L153,130.49 L153.5,130.37 L154,130.26 L154.5,130.15 L155,130.03 L155.5,129.92 L156,129.8 L156.5,129.68 L157,129.56 L157.5,129.44 L158,129.32 L158.5,129.2 L159,129.07 L159.5,128.95 L160,128.82 L160.5,128.69 L161,128.55 L161.5,128.42 L162,128.28 L162.5,128.14 L163,127.99 L163.5,127.84 L164,127.69 L164.5,127.52 L165,127.35 L165.5,127.17 L166,126.99 L166.5,126.79 L167,126.59 L167.5,126.37 L168,126.15 L168.5,125.91 L169,125.66 L169.5,125.39 L170,125.12 L170.5,124.82 L171,124.5 L171.5,124.15 L172,123.75 L172.5,123.19 L173,122.39 L173.5,121.32 L174,120.01 L174.5,118.5 L175,116.86 L175.5,114.95 L176,112.55 L176.5,109.7 L177,106.58 L177.5,103.4 L178,100.32 L178.5,96.75 L179,93.13 L179.5,90.51 L180,88.69 L180.5,87.43 L181,86.69 L181.5,86.21 L182,85.85 L182.5,85.66 L183,85.61 L183.5,85.67 L184,85.78 L184.5,85.94 L185,86.12 L185.5,86.31 L186,86.5 L186.5,86.69 L187,86.91 L187.5,87.13 L188,87.34 L188.5,87.52 L189,87.64 L189.5,87.69 L190,87.67 L190.5,87.62 L191,87.53 L191.5,87.43 L192,87.3 L192.5,87.16 L193,87 L193.5,86.84 L194,86.67 L194.5,86.51 L195,86.35 L195.5,86.19 L196,86.06 L196.5,85.96 L197,85.89 L197.5,85.83 L198,85.78 L198.5,85.73 L199,85.68 L199.5,85.63 L200,85.59 L200.5,85.55 L201,85.52 L201.5,85.51 L202,85.52 L202.5,85.55 L203,85.6 L203.5,85.66 L204,85.74 L204.5,85.82 L205,85.92 L205.5,86.02 L206,86.14 L206.5,86.25 L207,86.37 L207.5,86.5 L208,86.63 L208.5,86.78 L209,86.93 L209.5,87.09 L210,87.24 L210.5,87.4 L211,87.55 L211.5,87.69 L212,87.83 L212.5,87.95 L213,88.05 L213.5,88.14 L214,88.2 L214.5,88.25 L215,88.26 L215.5,88.25 L216,88.23 L216.5,88.2 L217,88.15 L217.5,88.09 L218,88.02 L218.5,87.94 L219,87.85 L219.5,87.75 L220,87.64 L220.5,87.52 L221,87.4 L221.5,87.27 L222,87.13 L222.5,86.98 L223,86.83 L223.5,86.68 L224,86.51 L224.5,86.29 L225,86.01 L225.5,85.66 L226,85.27 L226.5,84.83 L227,84.37 L227.5,83.87 L228,83.36 L228.5,82.82 L229,82.27 L229.5,81.71 L230,81.15 L230.5,80.59 L231,80.03 L231.5,79.49 L232,78.97 L232.5,78.46 L233,77.98 L233.5,77.49 L234,76.98 L234.5,76.47 L235,75.96 L235.5,75.43 L236,74.9 L236.5,74.37 L237,73.83 L237.5,73.29 L238,72.75 L238.5,72.21 L239,71.68 L239.5,71.14 L240,70.62 L240.5,70.1 L241,69.59 L241.5,69.08 L242,68.61 L242.5,68.17 L243,67.74 L243.5,67.33 L244,66.91 L244.5,66.48 L245,66.02 L245.5,65.52 L246,64.96 L246.5,64.35 L247,63.68 L247.5,62.94 L248,62.08 L248.5,61.12 L249,59.96 L249.5,58.43 L249.5,61.1 L249,67.43 L248.5,72.21 L248,76.3 L247.5,80.17 L247,83.96 L246.5,87.53 L246,90.74 L245.5,93.48 L245,95.66 L244.5,97.56 L244,99.26 L243.5,100.82 L243,102.24 L242.5,103.56 L242,104.78 L241.5,105.93 L241,107 L240.5,108.03 L240,109.01 L239.5,109.97 L239,110.92 L238.5,111.84 L238,112.74 L237.5,113.6 L237,114.44 L236.5,115.26 L236,116.04 L235.5,116.8 L235,117.53 L234.5,118.24 L234,118.91 L233.5,119.56 L233,120.18 L232.5,120.77 L232,121.35 L231.5,121.9 L231,122.43 L230.5,122.94 L230,123.43 L229.5,123.9 L229,124.34 L228.5,124.76 L228,125.16 L227.5,125.54 L227,125.91 L226.5,126.27 L226,126.64 L225.5,127.01 L225,127.39 L224.5,127.78 L224,128.19 L223.5,128.62 L223,129.06 L222.5,129.52 L222,129.98 L221.5,130.46 L221,130.95 L220.5,131.45 L220,131.96 L219.5,132.47 L219,132.98 L218.5,133.49 L218,133.99 L217.5,134.49 L217,134.97 L216.5,135.44 L216,135.89 L215.5,136.33 L215,136.74 L214.5,137.12 L214,137.47 L213.5,137.79 L213,138.09 L212.5,138.37 L212,138.63 L211.5,138.87 L211,139.09 L210.5,139.29 L210,139.48 L209.5,139.67 L209,139.86 L208.5,140.04 L208,140.22 L207.5,140.4 L207,140.57 L206.5,140.74 L206,140.9 L205.5,141.06 L205,141.21 L204.5,141.36 L204,141.5 L203.5,141.63 L203,141.74 L202.5,141.84 L202,141.93 L201.5,142 L201,142.06 L200.5,142.1 L200,142.14 L199.5,142.17 L199,142.2 L198.5,142.22 L198,142.23 L197.5,142.24 L197,142.25 L196.5,142.26 L196,142.27 L195.5,142.28 L195,142.29 L194.5,142.3 L194,142.31 L193.5,142.33 L193,142.35 L192.5,142.38 L192,142.41 L191.5,142.45 L191,142.5 L190.5,142.56 L190,142.63 L189.5,142.71 L189,142.79 L188.5,142.9 L188,143.06 L187.5,143.29 L187,143.56 L186.5,143.88 L186,144.25 L185.5,144.65 L185,145.09 L184.5,145.55 L184,146.02 L183.5,146.6 L183,147.32 L182.5,148.18 L182,149.14 L181.5,150.19 L181,151.29 L180.5,152.44 L180,153.59 L179.5,154.73 L179,155.89 L178.5,157.25 L178,158.75 L177.5,160.29 L177,161.77 L176.5,163.12 L176,164.24 L175.5,165.35 L175,166.46 L174.5,167.5 L174,168.38 L173.5,169.03 L173,169.36 L172.5,169.47 L172,169.47 L171.5,169.42 L171,169.37 L170.5,169.26 L170,169.08 L169.5,168.84 L169,168.55 L168.5,168.22 L168,167.87 L167.5,167.51 L167,167.15 L166.5,166.8 L166,166.48 L165.5,166.19 L165,165.91 L164.5,165.63 L164,165.36 L163.5,165.09 L163,164.82 L162.5,164.56 L162,164.31 L161.5,164.06 L161,163.82 L160.5,163.59 L160,163.36 L159.5,163.15 L159,162.94 L158.5,162.75 L158,162.56 L157.5,162.39 L157,162.23 L156.5,162.08 L156,161.93 L155.5,161.8 L155,161.66 L154.5,161.53 L154,161.41 L153.5,161.28 L153,161.16 L152.5,161.03 L152,160.9 L151.5,160.77 L151,160.63 L150.5,160.48 L150,160.32 L149.5,160.15 L149,159.96 L148.5,159.76 L148,159.56 L147.5,159.35 L147,159.13 L146.5,158.92 L146,158.7 L145.5,158.48 L145,158.26 L144.5,158.05 L144,157.85 L143.5,157.62 L143,157.34 L142.5,157.04 L142,156.75 L141.5,156.49 L141,156.29 L140.5,156.17 L140,156.08 L139.5,156.03 L139,156 L138.5,155.99 L138,156.01 L137.5,156.06 L137,156.14 L136.5,156.23 L136,156.32 L135.5,156.42 L135,156.53 L134.5,156.64 L134,156.74 L133.5,156.84 L133,156.95 L132.5,157.06 L132,157.16 L131.5,157.27 L131,157.38 L130.5,157.49 L130,157.59 L129.5,157.7 L129,157.81 L128.5,157.93 L128,158.04 L127.5,158.16 L127,158.27 L126.5,158.39 L126,158.51 L125.5,158.63 L125,158.76 L124.5,158.88 L124,159.01 L123.5,159.13 L123,159.26 L122.5,159.39 L122,159.52 L121.5,159.65 L121,159.79 L120.5,159.92 L120,160.06 L119.5,160.2 L119,160.34 L118.5,160.49 L118,160.64 L117.5,160.8 L117,160.96 L116.5,161.13 L116,161.29 L115.5,161.46 L115,161.62 L114.5,161.79 L114,161.96 L113.5,162.12 L113,162.29 L112.5,162.45 L112,162.61 L111.5,162.77 L111,162.92 L110.5,163.08 L110,163.23 L109.5,163.38 L109,163.52 L108.5,163.66 L108,163.81 L107.5,163.95 L107,164.09 L106.5,164.22 L106,164.36 L105.5,164.5 L105,164.65 L104.5,164.79 L104,164.94 L103.5,165.08 L103,165.23 L102.5,165.39 L102,165.55 L101.5,165.71 L101,165.88 L100.5,166.06 L100,166.24 L99.5,166.43 L99,166.63 L98.5,166.83 L98,167.04 L97.5,167.26 L97,167.48 L96.5,167.71 L96,167.95 L95.5,168.2 L95,168.46 L94.5,168.72 L94,168.99 L93.5,169.26 L93,169.54 L92.5,169.86 L92,170.24 L91.5,170.65 L91,171.08 L90.5,171.54 L90,172 L89.5,172.44 L89,172.87 L88.5,173.27 L88,173.62 L87.5,173.95 L87,174.14 L86.5,174.14 L86,174.03 L85.5,173.83 L85,173.6 Z" fill="none" stroke="#50a446" stroke-width="1.4" stroke-linejoin="round"/>
<path d="M85,169.4 L85.5,168.47 L86,167.47 L86.5,166.42 L87,165.29 L87.5,164.11 L88,162.95 L88.5,161.83 L89,160.68 L89.5,159.48 L90,158.29 L90.5,157.15 L91,156.12 L91.5,155.24 L92,154.45 L92.5,153.7 L93,152.99 L93.5,152.32 L94,151.66 L94.5,151.02 L95,150.38 L95.5,149.74 L96,149.09 L96.5,148.43 L97,147.75 L97.5,147.08 L98,146.44 L98.5,145.85 L99,145.31 L99.5,144.85 L100,144.44 L100.5,144.05 L101,143.69 L101.5,143.34 L102,143.02 L102.5,142.72 L103,142.43 L103.5,142.15 L104,141.89 L104.5,141.63 L105,141.39 L105.5,141.16 L106,140.93 L106.5,140.71 L107,140.51 L107.5,140.3 L108,140.11 L108.5,139.92 L109,139.74 L109.5,139.56 L110,139.39 L110.5,139.23 L111,139.07 L111.5,138.92 L112,138.77 L112.5,138.63 L113,138.49 L113.5,138.36 L114,138.23 L114.5,138.1 L115,137.97 L115.5,137.84 L116,137.71 L116.5,137.58 L117,137.45 L117.5,137.31 L118,137.18 L118.5,137.04 L119,136.9 L119.5,136.77 L120,136.63 L120.5,136.49 L121,136.36 L121.5,136.22 L122,136.09 L122.5,135.95 L123,135.82 L123.5,135.68 L124,135.55 L124.5,135.42 L125,135.28 L125.5,135.15 L126,135.02 L126.5,134.89 L127,134.76 L127.5,134.63 L128,134.5 L128.5,134.37 L129,134.24 L129.5,134.11 L130,133.98 L130.5,133.86 L131,133.73 L131.5,133.61 L132,133.48 L132.5,133.36 L133,133.23 L133.5,133.11 L134,132.99 L134.5,132.87 L135,132.75 L135.5,132.63 L136,132.52 L136.5,132.4 L137,132.29 L137.5,132.17 L138,132.06 L138.5,131.95 L139,131.84 L139.5,131.73 L140,131.62 L140.5,131.51 L141,131.41 L141.5,131.3 L142,131.19 L142.5,131.08 L143,130.98 L143.5,130.87 L144,130.76 L144.5,130.66 L145,130.55 L145.5,130.44 L146,130.33 L146.5,130.23 L147,130.12 L147.5,130.01 L148,129.9 L148.5,129.79 L149,129.68 L149.5,129.56 L150,129.45 L150.5,129.34 L151,129.23 L151.5,129.12 L152,129.01 L152.5,128.91 L153,128.81 L153.5,128.71 L154,128.61 L154.5,128.51 L155,128.41 L155.5,128.31 L156,128.22 L156.5,128.12 L157,128.02 L157.5,127.92 L158,127.82 L158.5,127.72 L159,127.62 L159.5,127.51 L160,127.4 L160.5,127.3 L161,127.19 L161.5,127.07 L162,126.96 L162.5,126.84 L163,126.71 L163.5,126.58 L164,126.45 L164.5,126.31 L165,126.16 L165.5,126.01 L166,125.85 L166.5,125.68 L167,125.5 L167.5,125.31 L168,125.11 L168.5,124.9 L169,124.68 L169.5,124.44 L170,124.2 L170.5,123.93 L171,123.65 L171.5,123.34 L172,123 L172.5,122.48 L173,121.67 L173.5,120.6 L174,119.3 L174.5,117.82 L175,116.24 L175.5,114.39 L176,112.07 L176.5,109.36 L177,106.46 L177.5,103.58 L178,100.88 L178.5,97.92 L179,94.92 L179.5,92.65 L180,91.04 L180.5,89.95 L181,89.33 L181.5,88.91 L182,88.61 L182.5,88.47 L183,88.45 L183.5,88.51 L184,88.61 L184.5,88.74 L185,88.9 L185.5,89.06 L186,89.22 L186.5,89.39 L187,89.57 L187.5,89.75 L188,89.92 L188.5,90.06 L189,90.16 L189.5,90.19 L190,90.17 L190.5,90.1 L191,90 L191.5,89.86 L192,89.7 L192.5,89.52 L193,89.32 L193.5,89.11 L194,88.9 L194.5,88.69 L195,88.49 L195.5,88.29 L196,88.12 L196.5,87.98 L197,87.87 L197.5,87.77 L198,87.67 L198.5,87.57 L199,87.47 L199.5,87.38 L200,87.29 L200.5,87.2 L201,87.12 L201.5,87.06 L202,87.01 L202.5,86.98 L203,86.97 L203.5,86.98 L204,87 L204.5,87.03 L205,87.08 L205.5,87.15 L206,87.23 L206.5,87.32 L207,87.43 L207.5,87.54 L208,87.68 L208.5,87.82 L209,87.97 L209.5,88.13 L210,88.29 L210.5,88.44 L211,88.6 L211.5,88.75 L212,88.89 L212.5,89.01 L213,89.12 L213.5,89.21 L214,89.28 L214.5,89.32 L215,89.34 L215.5,89.33 L216,89.31 L216.5,89.28 L217,89.24 L217.5,89.18 L218,89.11 L218.5,89.04 L219,88.95 L219.5,88.85 L220,88.75 L220.5,88.63 L221,88.51 L221.5,88.38 L222,88.25 L222.5,88.11 L223,87.96 L223.5,87.81 L224,87.65 L224.5,87.43 L225,87.15 L225.5,86.81 L226,86.41 L226.5,85.97 L227,85.49 L227.5,84.98 L228,84.44 L228.5,83.89 L229,83.32 L229.5,82.74 L230,82.15 L230.5,81.57 L231,80.99 L231.5,80.42 L232,79.88 L232.5,79.35 L233,78.85 L233.5,78.33 L234,77.8 L234.5,77.27 L235,76.73 L235.5,76.18 L236,75.63 L236.5,75.07 L237,74.52 L237.5,73.96 L238,73.4 L238.5,72.84 L239,72.28 L239.5,71.73 L240,71.19 L240.5,70.66 L241,70.13 L241.5,69.62 L242,69.14 L242.5,68.69 L243,68.27 L243.5,67.85 L244,67.45 L244.5,67.03 L245,66.59 L245.5,66.12 L246,65.6 L246.5,65.03 L247,64.42 L247.5,63.74 L248,62.96 L248.5,62.09 L249,61.03 L249.5,59.59 L249.5,61.86 L249,67.74 L248.5,72.49 L248,76.6 L247.5,80.52 L247,84.32 L246.5,87.88 L246,91.07 L245.5,93.78 L245,95.93 L244.5,97.81 L244,99.51 L243.5,101.07 L243,102.51 L242.5,103.83 L242,105.06 L241.5,106.22 L241,107.31 L240.5,108.34 L240,109.35 L239.5,110.33 L239,111.3 L238.5,112.24 L238,113.16 L237.5,114.05 L237,114.91 L236.5,115.75 L236,116.55 L235.5,117.33 L235,118.08 L234.5,118.79 L234,119.48 L233.5,120.14 L233,120.76 L232.5,121.35 L232,121.93 L231.5,122.48 L231,123.02 L230.5,123.53 L230,124.03 L229.5,124.5 L229,124.95 L228.5,125.39 L228,125.8 L227.5,126.2 L227,126.59 L226.5,126.98 L226,127.36 L225.5,127.75 L225,128.14 L224.5,128.54 L224,128.96 L223.5,129.38 L223,129.81 L222.5,130.26 L222,130.71 L221.5,131.18 L221,131.65 L220.5,132.14 L220,132.63 L219.5,133.13 L219,133.64 L218.5,134.14 L218,134.64 L217.5,135.13 L217,135.61 L216.5,136.09 L216,136.55 L215.5,136.99 L215,137.41 L214.5,137.82 L214,138.19 L213.5,138.54 L213,138.87 L212.5,139.18 L212,139.47 L211.5,139.73 L211,139.98 L210.5,140.2 L210,140.4 L209.5,140.61 L209,140.82 L208.5,141.02 L208,141.22 L207.5,141.42 L207,141.61 L206.5,141.79 L206,141.97 L205.5,142.14 L205,142.3 L204.5,142.45 L204,142.6 L203.5,142.72 L203,142.84 L202.5,142.93 L202,143.01 L201.5,143.07 L201,143.1 L200.5,143.13 L200,143.15 L199.5,143.15 L199,143.15 L198.5,143.15 L198,143.13 L197.5,143.12 L197,143.1 L196.5,143.07 L196,143.05 L195.5,143.02 L195,142.99 L194.5,142.97 L194,142.95 L193.5,142.93 L193,142.91 L192.5,142.9 L192,142.9 L191.5,142.9 L191,142.92 L190.5,142.94 L190,142.97 L189.5,143.01 L189,143.06 L188.5,143.14 L188,143.28 L187.5,143.49 L187,143.76 L186.5,144.08 L186,144.46 L185.5,144.87 L185,145.31 L184.5,145.77 L184,146.25 L183.5,146.82 L183,147.53 L182.5,148.37 L182,149.31 L181.5,150.31 L181,151.37 L180.5,152.44 L180,153.51 L179.5,154.55 L179,155.57 L178.5,156.72 L178,157.96 L177.5,159.21 L177,160.42 L176.5,161.53 L176,162.5 L175.5,163.46 L175,164.45 L174.5,165.39 L174,166.18 L173.5,166.75 L173,167 L172.5,167.02 L172,166.9 L171.5,166.75 L171,166.63 L170.5,166.47 L170,166.27 L169.5,166.02 L169,165.74 L168.5,165.43 L168,165.11 L167.5,164.78 L167,164.46 L166.5,164.14 L166,163.85 L165.5,163.57 L165,163.3 L164.5,163.04 L164,162.77 L163.5,162.52 L163,162.26 L162.5,162.02 L162,161.78 L161.5,161.54 L161,161.31 L160.5,161.09 L160,160.88 L159.5,160.68 L159,160.48 L158.5,160.3 L158,160.12 L157.5,159.96 L157,159.8 L156.5,159.66 L156,159.52 L155.5,159.39 L155,159.26 L154.5,159.14 L154,159.02 L153.5,158.91 L153,158.79 L152.5,158.68 L152,158.56 L151.5,158.44 L151,158.31 L150.5,158.18 L150,158.04 L149.5,157.9 L149,157.74 L148.5,157.57 L148,157.4 L147.5,157.22 L147,157.04 L146.5,156.86 L146,156.67 L145.5,156.48 L145,156.28 L144.5,156.09 L144,155.9 L143.5,155.67 L143,155.39 L142.5,155.08 L142,154.78 L141.5,154.52 L141,154.34 L140.5,154.25 L140,154.2 L139.5,154.18 L139,154.18 L138.5,154.21 L138,154.26 L137.5,154.34 L137,154.43 L136.5,154.53 L136,154.64 L135.5,154.76 L135,154.87 L134.5,154.99 L134,155.09 L133.5,155.2 L133,155.3 L132.5,155.41 L132,155.52 L131.5,155.63 L131,155.74 L130.5,155.85 L130,155.96 L129.5,156.07 L129,156.19 L128.5,156.3 L128,156.42 L127.5,156.53 L127,156.65 L126.5,156.77 L126,156.89 L125.5,157.01 L125,157.13 L124.5,157.25 L124,157.38 L123.5,157.5 L123,157.62 L122.5,157.75 L122,157.87 L121.5,158 L121,158.13 L120.5,158.25 L120,158.38 L119.5,158.51 L119,158.64 L118.5,158.78 L118,158.92 L117.5,159.05 L117,159.2 L116.5,159.34 L116,159.48 L115.5,159.62 L115,159.77 L114.5,159.91 L114,160.04 L113.5,160.18 L113,160.32 L112.5,160.45 L112,160.58 L111.5,160.71 L111,160.84 L110.5,160.97 L110,161.09 L109.5,161.22 L109,161.34 L108.5,161.45 L108,161.57 L107.5,161.69 L107,161.81 L106.5,161.93 L106,162.05 L105.5,162.17 L105,162.3 L104.5,162.43 L104,162.56 L103.5,162.69 L103,162.83 L102.5,162.97 L102,163.12 L101.5,163.27 L101,163.43 L100.5,163.59 L100,163.77 L99.5,163.95 L99,164.14 L98.5,164.33 L98,164.54 L97.5,164.75 L97,164.96 L96.5,165.19 L96,165.42 L95.5,165.67 L95,165.92 L94.5,166.17 L94,166.44 L93.5,166.7 L93,166.98 L92.5,167.31 L92,167.69 L91.5,168.13 L91,168.59 L90.5,169.06 L90,169.53 L89.5,169.99 L89,170.4 L88.5,170.77 L88,171.07 L87.5,171.3 L87,171.3 L86.5,171.04 L86,170.59 L85.5,170.02 L85,169.4 Z" fill="none" stroke="#88c8ea" stroke-width="1.4" stroke-linejoin="round"/>
<path d="M85,165.2 L85.5,164.57 L86,163.86 L86.5,163.08 L87,162.23 L87.5,161.32 L88,160.39 L88.5,159.44 L89,158.36 L89.5,157.19 L90,155.99 L90.5,154.84 L91,153.79 L91.5,152.9 L92,152.09 L92.5,151.34 L93,150.62 L93.5,149.93 L94,149.26 L94.5,148.61 L95,147.96 L95.5,147.32 L96,146.66 L96.5,145.99 L97,145.3 L97.5,144.63 L98,143.99 L98.5,143.39 L99,142.86 L99.5,142.42 L100,142.05 L100.5,141.69 L101,141.35 L101.5,141.02 L102,140.72 L102.5,140.43 L103,140.16 L103.5,139.9 L104,139.65 L104.5,139.41 L105,139.18 L105.5,138.97 L106,138.76 L106.5,138.56 L107,138.37 L107.5,138.18 L108,138 L108.5,137.83 L109,137.66 L109.5,137.5 L110,137.35 L110.5,137.2 L111,137.06 L111.5,136.92 L112,136.8 L112.5,136.67 L113,136.55 L113.5,136.43 L114,136.32 L114.5,136.2 L115,136.09 L115.5,135.98 L116,135.86 L116.5,135.75 L117,135.63 L117.5,135.51 L118,135.39 L118.5,135.26 L119,135.14 L119.5,135.01 L120,134.89 L120.5,134.76 L121,134.64 L121.5,134.51 L122,134.38 L122.5,134.26 L123,134.13 L123.5,134 L124,133.88 L124.5,133.75 L125,133.62 L125.5,133.5 L126,133.37 L126.5,133.25 L127,133.12 L127.5,132.99 L128,132.87 L128.5,132.74 L129,132.62 L129.5,132.49 L130,132.37 L130.5,132.24 L131,132.12 L131.5,132 L132,131.87 L132.5,131.75 L133,131.63 L133.5,131.5 L134,131.38 L134.5,131.26 L135,131.14 L135.5,131.02 L136,130.9 L136.5,130.78 L137,130.66 L137.5,130.55 L138,130.43 L138.5,130.31 L139,130.2 L139.5,130.08 L140,129.97 L140.5,129.85 L141,129.74 L141.5,129.63 L142,129.51 L142.5,129.4 L143,129.29 L143.5,129.17 L144,129.06 L144.5,128.95 L145,128.84 L145.5,128.73 L146,128.62 L146.5,128.5 L147,128.39 L147.5,128.28 L148,128.17 L148.5,128.06 L149,127.95 L149.5,127.84 L150,127.72 L150.5,127.62 L151,127.51 L151.5,127.41 L152,127.31 L152.5,127.22 L153,127.13 L153.5,127.04 L154,126.96 L154.5,126.87 L155,126.79 L155.5,126.71 L156,126.63 L156.5,126.55 L157,126.47 L157.5,126.4 L158,126.32 L158.5,126.24 L159,126.16 L159.5,126.07 L160,125.99 L160.5,125.91 L161,125.82 L161.5,125.73 L162,125.63 L162.5,125.54 L163,125.43 L163.5,125.33 L164,125.21 L164.5,125.1 L165,124.97 L165.5,124.84 L166,124.7 L166.5,124.56 L167,124.4 L167.5,124.24 L168,124.07 L168.5,123.89 L169,123.69 L169.5,123.49 L170,123.27 L170.5,123.04 L171,122.8 L171.5,122.54 L172,122.25 L172.5,121.77 L173,120.96 L173.5,119.88 L174,118.58 L174.5,117.14 L175,115.62 L175.5,113.83 L176,111.58 L176.5,109.02 L177,106.35 L177.5,103.76 L178,101.44 L178.5,99.09 L179,96.72 L179.5,94.8 L180,93.38 L180.5,92.48 L181,91.97 L181.5,91.61 L182,91.37 L182.5,91.29 L183,91.29 L183.5,91.34 L184,91.43 L184.5,91.54 L185,91.67 L185.5,91.81 L186,91.95 L186.5,92.09 L187,92.23 L187.5,92.37 L188,92.5 L188.5,92.6 L189,92.67 L189.5,92.7 L190,92.67 L190.5,92.59 L191,92.46 L191.5,92.3 L192,92.1 L192.5,91.88 L193,91.64 L193.5,91.39 L194,91.13 L194.5,90.87 L195,90.62 L195.5,90.39 L196,90.18 L196.5,90 L197,89.85 L197.5,89.71 L198,89.56 L198.5,89.42 L199,89.27 L199.5,89.13 L200,88.98 L200.5,88.85 L201,88.72 L201.5,88.6 L202,88.5 L202.5,88.42 L203,88.35 L203.5,88.29 L204,88.26 L204.5,88.24 L205,88.25 L205.5,88.27 L206,88.32 L206.5,88.39 L207,88.48 L207.5,88.59 L208,88.72 L208.5,88.86 L209,89.01 L209.5,89.16 L210,89.33 L210.5,89.49 L211,89.65 L211.5,89.8 L212,89.95 L212.5,90.08 L213,90.19 L213.5,90.29 L214,90.36 L214.5,90.4 L215,90.42 L215.5,90.41 L216,90.39 L216.5,90.36 L217,90.32 L217.5,90.27 L218,90.2 L218.5,90.13 L219,90.05 L219.5,89.95 L220,89.85 L220.5,89.74 L221,89.63 L221.5,89.5 L222,89.37 L222.5,89.24 L223,89.1 L223.5,88.95 L224,88.79 L224.5,88.58 L225,88.29 L225.5,87.95 L226,87.55 L226.5,87.1 L227,86.61 L227.5,86.08 L228,85.53 L228.5,84.95 L229,84.36 L229.5,83.75 L230,83.14 L230.5,82.53 L231,81.93 L231.5,81.34 L232,80.77 L232.5,80.22 L233,79.69 L233.5,79.15 L234,78.6 L234.5,78.04 L235,77.47 L235.5,76.9 L236,76.32 L236.5,75.73 L237,75.15 L237.5,74.56 L238,73.98 L238.5,73.4 L239,72.82 L239.5,72.25 L240,71.69 L240.5,71.13 L241,70.59 L241.5,70.06 L242,69.56 L242.5,69.1 L243,68.66 L243.5,68.24 L244,67.83 L244.5,67.41 L245,66.98 L245.5,66.52 L246,66.03 L246.5,65.49 L247,64.91 L247.5,64.27 L248,63.55 L248.5,62.74 L249,61.74 L249.5,60.37 L249.5,62.36 L249,67.94 L248.5,72.67 L248,76.81 L247.5,80.75 L247,84.56 L246.5,88.11 L246,91.29 L245.5,93.98 L245,96.11 L244.5,97.99 L244,99.69 L243.5,101.26 L243,102.7 L242.5,104.04 L242,105.28 L241.5,106.45 L241,107.55 L240.5,108.61 L240,109.63 L239.5,110.63 L239,111.63 L238.5,112.6 L238,113.55 L237.5,114.47 L237,115.35 L236.5,116.21 L236,117.04 L235.5,117.84 L235,118.6 L234.5,119.33 L234,120.03 L233.5,120.69 L233,121.32 L232.5,121.92 L232,122.5 L231.5,123.06 L231,123.6 L230.5,124.11 L230,124.61 L229.5,125.1 L229,125.56 L228.5,126.01 L228,126.44 L227.5,126.87 L227,127.28 L226.5,127.68 L226,128.09 L225.5,128.49 L225,128.89 L224.5,129.3 L224,129.72 L223.5,130.14 L223,130.56 L222.5,131 L222,131.44 L221.5,131.89 L221,132.36 L220.5,132.83 L220,133.31 L219.5,133.8 L219,134.29 L218.5,134.79 L218,135.28 L217.5,135.77 L217,136.26 L216.5,136.74 L216,137.2 L215.5,137.65 L215,138.09 L214.5,138.51 L214,138.91 L213.5,139.29 L213,139.65 L212.5,139.99 L212,140.3 L211.5,140.59 L211,140.86 L210.5,141.1 L210,141.32 L209.5,141.55 L209,141.78 L208.5,142 L208,142.22 L207.5,142.43 L207,142.64 L206.5,142.84 L206,143.04 L205.5,143.22 L205,143.39 L204.5,143.55 L204,143.69 L203.5,143.82 L203,143.93 L202.5,144.02 L202,144.09 L201.5,144.13 L201,144.15 L200.5,144.16 L200,144.15 L199.5,144.14 L199,144.11 L198.5,144.08 L198,144.04 L197.5,143.99 L197,143.94 L196.5,143.88 L196,143.82 L195.5,143.76 L195,143.7 L194.5,143.64 L194,143.58 L193.5,143.53 L193,143.48 L192.5,143.43 L192,143.39 L191.5,143.35 L191,143.33 L190.5,143.31 L190,143.31 L189.5,143.31 L189,143.33 L188.5,143.37 L188,143.49 L187.5,143.69 L187,143.96 L186.5,144.28 L186,144.66 L185.5,145.08 L185,145.53 L184.5,146 L184,146.47 L183.5,147.03 L183,147.74 L182.5,148.56 L182,149.47 L181.5,150.44 L181,151.44 L180.5,152.45 L180,153.44 L179.5,154.37 L179,155.26 L178.5,156.2 L178,157.16 L177.5,158.13 L177,159.07 L176.5,159.95 L176,160.75 L175.5,161.57 L175,162.45 L174.5,163.28 L174,163.98 L173.5,164.47 L173,164.65 L172.5,164.56 L172,164.34 L171.5,164.08 L171,163.89 L170.5,163.68 L170,163.45 L169.5,163.19 L169,162.92 L168.5,162.64 L168,162.35 L167.5,162.06 L167,161.77 L166.5,161.48 L166,161.21 L165.5,160.95 L165,160.69 L164.5,160.44 L164,160.19 L163.5,159.95 L163,159.71 L162.5,159.47 L162,159.24 L161.5,159.02 L161,158.81 L160.5,158.6 L160,158.4 L159.5,158.2 L159,158.02 L158.5,157.85 L158,157.68 L157.5,157.52 L157,157.38 L156.5,157.24 L156,157.11 L155.5,156.98 L155,156.87 L154.5,156.75 L154,156.64 L153.5,156.53 L153,156.43 L152.5,156.32 L152,156.21 L151.5,156.11 L151,156 L150.5,155.89 L150,155.77 L149.5,155.65 L149,155.52 L148.5,155.38 L148,155.24 L147.5,155.1 L147,154.95 L146.5,154.79 L146,154.63 L145.5,154.47 L145,154.3 L144.5,154.13 L144,153.95 L143.5,153.73 L143,153.44 L142.5,153.12 L142,152.81 L141.5,152.55 L141,152.38 L140.5,152.32 L140,152.31 L139.5,152.33 L139,152.37 L138.5,152.43 L138,152.51 L137.5,152.61 L137,152.72 L136.5,152.84 L136,152.97 L135.5,153.09 L135,153.22 L134.5,153.34 L134,153.45 L133.5,153.55 L133,153.66 L132.5,153.77 L132,153.88 L131.5,153.99 L131,154.11 L130.5,154.22 L130,154.33 L129.5,154.45 L129,154.56 L128.5,154.68 L128,154.79 L127.5,154.91 L127,155.03 L126.5,155.15 L126,155.27 L125.5,155.39 L125,155.51 L124.5,155.63 L124,155.75 L123.5,155.87 L123,155.99 L122.5,156.11 L122,156.23 L121.5,156.35 L121,156.47 L120.5,156.59 L120,156.71 L119.5,156.82 L119,156.94 L118.5,157.07 L118,157.19 L117.5,157.31 L117,157.43 L116.5,157.55 L116,157.67 L115.5,157.79 L115,157.91 L114.5,158.02 L114,158.13 L113.5,158.24 L113,158.35 L112.5,158.45 L112,158.56 L111.5,158.66 L111,158.76 L110.5,158.86 L110,158.96 L109.5,159.05 L109,159.15 L108.5,159.25 L108,159.34 L107.5,159.44 L107,159.54 L106.5,159.64 L106,159.74 L105.5,159.85 L105,159.95 L104.5,160.06 L104,160.18 L103.5,160.3 L103,160.42 L102.5,160.55 L102,160.68 L101.5,160.82 L101,160.97 L100.5,161.13 L100,161.29 L99.5,161.47 L99,161.65 L98.5,161.84 L98,162.03 L97.5,162.24 L97,162.45 L96.5,162.67 L96,162.9 L95.5,163.13 L95,163.37 L94.5,163.63 L94,163.88 L93.5,164.15 L93,164.42 L92.5,164.75 L92,165.15 L91.5,165.61 L91,166.09 L90.5,166.59 L90,167.07 L89.5,167.53 L89,167.93 L88.5,168.27 L88,168.51 L87.5,168.64 L87,168.46 L86.5,167.93 L86,167.15 L85.5,166.2 L85,165.2 Z" fill="none" stroke="#f0d24a" stroke-width="1.6" stroke-linejoin="round"/>
<path d="M85,161 L85.5,160.68 L86,160.25 L86.5,159.74 L87,159.16 L87.5,158.52 L88,157.84 L88.5,157.05 L89,156.04 L89.5,154.9 L90,153.7 L90.5,152.53 L91,151.46 L91.5,150.56 L92,149.74 L92.5,148.97 L93,148.24 L93.5,147.54 L94,146.86 L94.5,146.19 L95,145.54 L95.5,144.89 L96,144.24 L96.5,143.55 L97,142.86 L97.5,142.18 L98,141.53 L98.5,140.93 L99,140.42 L99.5,140 L100,139.65 L100.5,139.32 L101,139 L101.5,138.7 L102,138.42 L102.5,138.15 L103,137.89 L103.5,137.64 L104,137.41 L104.5,137.19 L105,136.98 L105.5,136.78 L106,136.59 L106.5,136.4 L107,136.23 L107.5,136.06 L108,135.9 L108.5,135.74 L109,135.59 L109.5,135.44 L110,135.3 L110.5,135.17 L111,135.05 L111.5,134.93 L112,134.82 L112.5,134.71 L113,134.61 L113.5,134.51 L114,134.41 L114.5,134.31 L115,134.21 L115.5,134.12 L116,134.02 L116.5,133.92 L117,133.82 L117.5,133.71 L118,133.6 L118.5,133.49 L119,133.37 L119.5,133.26 L120,133.14 L120.5,133.03 L121,132.91 L121.5,132.8 L122,132.68 L122.5,132.56 L123,132.44 L123.5,132.32 L124,132.2 L124.5,132.09 L125,131.97 L125.5,131.85 L126,131.72 L126.5,131.6 L127,131.48 L127.5,131.36 L128,131.24 L128.5,131.12 L129,131 L129.5,130.87 L130,130.75 L130.5,130.63 L131,130.51 L131.5,130.39 L132,130.26 L132.5,130.14 L133,130.02 L133.5,129.89 L134,129.77 L134.5,129.65 L135,129.53 L135.5,129.4 L136,129.28 L136.5,129.16 L137,129.04 L137.5,128.92 L138,128.8 L138.5,128.67 L139,128.55 L139.5,128.43 L140,128.31 L140.5,128.19 L141,128.07 L141.5,127.95 L142,127.83 L142.5,127.71 L143,127.6 L143.5,127.48 L144,127.36 L144.5,127.24 L145,127.13 L145.5,127.01 L146,126.9 L146.5,126.78 L147,126.67 L147.5,126.56 L148,126.44 L148.5,126.33 L149,126.22 L149.5,126.11 L150,126 L150.5,125.89 L151,125.79 L151.5,125.7 L152,125.61 L152.5,125.53 L153,125.45 L153.5,125.37 L154,125.3 L154.5,125.24 L155,125.17 L155.5,125.11 L156,125.05 L156.5,124.99 L157,124.93 L157.5,124.87 L158,124.81 L158.5,124.76 L159,124.7 L159.5,124.64 L160,124.58 L160.5,124.51 L161,124.45 L161.5,124.38 L162,124.31 L162.5,124.23 L163,124.15 L163.5,124.07 L164,123.98 L164.5,123.88 L165,123.78 L165.5,123.68 L166,123.56 L166.5,123.44 L167,123.31 L167.5,123.17 L168,123.03 L168.5,122.87 L169,122.71 L169.5,122.53 L170,122.35 L170.5,122.16 L171,121.95 L171.5,121.73 L172,121.5 L172.5,121.05 L173,120.25 L173.5,119.16 L174,117.86 L174.5,116.45 L175,115 L175.5,113.27 L176,111.1 L176.5,108.68 L177,106.23 L177.5,103.94 L178,102 L178.5,100.26 L179,98.52 L179.5,96.95 L180,95.72 L180.5,95 L181,94.62 L181.5,94.31 L182,94.13 L182.5,94.1 L183,94.13 L183.5,94.18 L184,94.26 L184.5,94.35 L185,94.45 L185.5,94.56 L186,94.67 L186.5,94.79 L187,94.89 L187.5,94.99 L188,95.08 L188.5,95.14 L189,95.18 L189.5,95.2 L190,95.17 L190.5,95.07 L191,94.93 L191.5,94.73 L192,94.5 L192.5,94.24 L193,93.96 L193.5,93.66 L194,93.36 L194.5,93.06 L195,92.76 L195.5,92.49 L196,92.23 L196.5,92.01 L197,91.83 L197.5,91.64 L198,91.46 L198.5,91.26 L199,91.07 L199.5,90.87 L200,90.68 L200.5,90.5 L201,90.32 L201.5,90.15 L202,89.99 L202.5,89.85 L203,89.72 L203.5,89.61 L204,89.52 L204.5,89.46 L205,89.41 L205.5,89.4 L206,89.42 L206.5,89.46 L207,89.54 L207.5,89.64 L208,89.76 L208.5,89.9 L209,90.05 L209.5,90.2 L210,90.37 L210.5,90.53 L211,90.7 L211.5,90.85 L212,91 L212.5,91.14 L213,91.26 L213.5,91.36 L214,91.44 L214.5,91.48 L215,91.5 L215.5,91.49 L216,91.48 L216.5,91.45 L217,91.41 L217.5,91.35 L218,91.29 L218.5,91.22 L219,91.14 L219.5,91.05 L220,90.96 L220.5,90.85 L221,90.74 L221.5,90.62 L222,90.5 L222.5,90.36 L223,90.23 L223.5,90.09 L224,89.94 L224.5,89.72 L225,89.44 L225.5,89.09 L226,88.68 L226.5,88.23 L227,87.72 L227.5,87.19 L228,86.62 L228.5,86.02 L229,85.4 L229.5,84.78 L230,84.14 L230.5,83.51 L231,82.88 L231.5,82.27 L232,81.68 L232.5,81.11 L233,80.56 L233.5,80 L234,79.42 L234.5,78.84 L235,78.25 L235.5,77.65 L236,77.05 L236.5,76.44 L237,75.83 L237.5,75.23 L238,74.62 L238.5,74.02 L239,73.43 L239.5,72.84 L240,72.26 L240.5,71.69 L241,71.14 L241.5,70.59 L242,70.09 L242.5,69.62 L243,69.18 L243.5,68.77 L244,68.36 L244.5,67.96 L245,67.55 L245.5,67.12 L246,66.67 L246.5,66.18 L247,65.65 L247.5,65.07 L248,64.42 L248.5,63.71 L249,62.81 L249.5,61.53 L249.5,63.12 L249,68.24 L248.5,72.95 L248,77.11 L247.5,81.09 L247,84.91 L246.5,88.46 L246,91.62 L245.5,94.28 L245,96.39 L244.5,98.24 L244,99.94 L243.5,101.51 L243,102.96 L242.5,104.31 L242,105.56 L241.5,106.74 L241,107.86 L240.5,108.93 L240,109.96 L239.5,110.99 L239,112 L238.5,113 L238,113.97 L237.5,114.92 L237,115.83 L236.5,116.71 L236,117.55 L235.5,118.37 L235,119.14 L234.5,119.89 L234,120.6 L233.5,121.27 L233,121.9 L232.5,122.5 L232,123.08 L231.5,123.64 L231,124.18 L230.5,124.7 L230,125.21 L229.5,125.69 L229,126.17 L228.5,126.63 L228,127.09 L227.5,127.53 L227,127.96 L226.5,128.39 L226,128.81 L225.5,129.23 L225,129.65 L224.5,130.06 L224,130.48 L223.5,130.89 L223,131.32 L222.5,131.74 L222,132.17 L221.5,132.61 L221,133.06 L220.5,133.52 L220,133.99 L219.5,134.47 L219,134.95 L218.5,135.44 L218,135.93 L217.5,136.42 L217,136.9 L216.5,137.38 L216,137.86 L215.5,138.32 L215,138.77 L214.5,139.21 L214,139.64 L213.5,140.04 L213,140.43 L212.5,140.8 L212,141.14 L211.5,141.45 L211,141.74 L210.5,142 L210,142.24 L209.5,142.49 L209,142.73 L208.5,142.98 L208,143.22 L207.5,143.45 L207,143.68 L206.5,143.9 L206,144.1 L205.5,144.3 L205,144.48 L204.5,144.64 L204,144.79 L203.5,144.92 L203,145.02 L202.5,145.11 L202,145.16 L201.5,145.19 L201,145.2 L200.5,145.19 L200,145.16 L199.5,145.12 L199,145.07 L198.5,145.01 L198,144.94 L197.5,144.86 L197,144.78 L196.5,144.69 L196,144.6 L195.5,144.51 L195,144.41 L194.5,144.31 L194,144.22 L193.5,144.13 L193,144.04 L192.5,143.95 L192,143.88 L191.5,143.8 L191,143.74 L190.5,143.69 L190,143.65 L189.5,143.62 L189,143.6 L188.5,143.61 L188,143.7 L187.5,143.89 L187,144.15 L186.5,144.48 L186,144.87 L185.5,145.3 L185,145.75 L184.5,146.23 L184,146.7 L183.5,147.25 L183,147.94 L182.5,148.75 L182,149.63 L181.5,150.56 L181,151.52 L180.5,152.46 L180,153.36 L179.5,154.19 L179,154.94 L178.5,155.67 L178,156.37 L177.5,157.06 L177,157.72 L176.5,158.37 L176,159 L175.5,159.68 L175,160.44 L174.5,161.17 L174,161.78 L173.5,162.19 L173,162.29 L172.5,162.11 L172,161.77 L171.5,161.42 L171,161.15 L170.5,160.89 L170,160.63 L169.5,160.37 L169,160.11 L168.5,159.85 L168,159.59 L167.5,159.34 L167,159.08 L166.5,158.83 L166,158.58 L165.5,158.33 L165,158.09 L164.5,157.84 L164,157.61 L163.5,157.38 L163,157.15 L162.5,156.93 L162,156.71 L161.5,156.5 L161,156.3 L160.5,156.1 L160,155.91 L159.5,155.73 L159,155.56 L158.5,155.39 L158,155.24 L157.5,155.09 L157,154.95 L156.5,154.82 L156,154.7 L155.5,154.58 L155,154.47 L154.5,154.36 L154,154.26 L153.5,154.16 L153,154.06 L152.5,153.96 L152,153.87 L151.5,153.78 L151,153.68 L150.5,153.59 L150,153.49 L149.5,153.4 L149,153.3 L148.5,153.19 L148,153.09 L147.5,152.97 L147,152.86 L146.5,152.73 L146,152.6 L145.5,152.47 L145,152.32 L144.5,152.16 L144,152 L143.5,151.78 L143,151.48 L142.5,151.16 L142,150.84 L141.5,150.59 L141,150.43 L140.5,150.4 L140,150.43 L139.5,150.48 L139,150.56 L138.5,150.65 L138,150.76 L137.5,150.88 L137,151.01 L136.5,151.15 L136,151.29 L135.5,151.43 L135,151.56 L134.5,151.69 L134,151.8 L133.5,151.91 L133,152.02 L132.5,152.13 L132,152.24 L131.5,152.36 L131,152.47 L130.5,152.58 L130,152.7 L129.5,152.82 L129,152.93 L128.5,153.05 L128,153.17 L127.5,153.29 L127,153.41 L126.5,153.53 L126,153.64 L125.5,153.76 L125,153.88 L124.5,154 L124,154.12 L123.5,154.23 L123,154.35 L122.5,154.46 L122,154.58 L121.5,154.69 L121,154.81 L120.5,154.92 L120,155.03 L119.5,155.14 L119,155.25 L118.5,155.35 L118,155.46 L117.5,155.56 L117,155.66 L116.5,155.76 L116,155.86 L115.5,155.96 L115,156.05 L114.5,156.14 L114,156.22 L113.5,156.3 L113,156.38 L112.5,156.46 L112,156.53 L111.5,156.6 L111,156.68 L110.5,156.75 L110,156.82 L109.5,156.89 L109,156.96 L108.5,157.04 L108,157.11 L107.5,157.19 L107,157.26 L106.5,157.34 L106,157.43 L105.5,157.52 L105,157.61 L104.5,157.7 L104,157.8 L103.5,157.9 L103,158.01 L102.5,158.13 L102,158.25 L101.5,158.38 L101,158.52 L100.5,158.67 L100,158.82 L99.5,158.99 L99,159.16 L98.5,159.34 L98,159.53 L97.5,159.73 L97,159.93 L96.5,160.15 L96,160.37 L95.5,160.6 L95,160.83 L94.5,161.08 L94,161.33 L93.5,161.59 L93,161.86 L92.5,162.19 L92,162.61 L91.5,163.09 L91,163.6 L90.5,164.12 L90,164.61 L89.5,165.07 L89,165.46 L88.5,165.77 L88,165.95 L87.5,165.99 L87,165.62 L86.5,164.82 L86,163.7 L85.5,162.39 L85,161 Z" fill="none" stroke="#39472c" stroke-width="1.4" stroke-linejoin="round"/>
</g>
<rect x="68.4" y="8.5" width="197.8" height="197.3" fill="none" stroke="#2a2a2a" stroke-width="1.9" stroke-linejoin="round"/>
<line x1="68.4" y1="8.3" x2="73.4" y2="8.3" stroke="#2a2a2a" stroke-width="1.3" />
<line x1="68.4" y1="47.76" x2="73.4" y2="47.76" stroke="#2a2a2a" stroke-width="1.3" />
<line x1="68.4" y1="87.22" x2="73.4" y2="87.22" stroke="#2a2a2a" stroke-width="1.3" />
<line x1="68.4" y1="126.68" x2="73.4" y2="126.68" stroke="#2a2a2a" stroke-width="1.3" />
<line x1="68.4" y1="166.14" x2="73.4" y2="166.14" stroke="#2a2a2a" stroke-width="1.3" />
<line x1="68.4" y1="205.59" x2="73.4" y2="205.59" stroke="#2a2a2a" stroke-width="1.3" />
<line x1="68.4" y1="28.03" x2="71.9" y2="28.03" stroke="#2a2a2a" stroke-width="1.3" />
<line x1="68.4" y1="67.49" x2="71.9" y2="67.49" stroke="#2a2a2a" stroke-width="1.3" />
<line x1="68.4" y1="106.95" x2="71.9" y2="106.95" stroke="#2a2a2a" stroke-width="1.3" />
<line x1="68.4" y1="146.41" x2="71.9" y2="146.41" stroke="#2a2a2a" stroke-width="1.3" />
<line x1="68.4" y1="185.87" x2="71.9" y2="185.87" stroke="#2a2a2a" stroke-width="1.3" />
<line x1="84.9" y1="205.8" x2="84.9" y2="200.8" stroke="#2a2a2a" stroke-width="1.3" />
<line x1="126.1" y1="205.8" x2="126.1" y2="200.8" stroke="#2a2a2a" stroke-width="1.3" />
<line x1="167.3" y1="205.8" x2="167.3" y2="200.8" stroke="#2a2a2a" stroke-width="1.3" />
<line x1="208.5" y1="205.8" x2="208.5" y2="200.8" stroke="#2a2a2a" stroke-width="1.3" />
<line x1="249.7" y1="205.8" x2="249.7" y2="200.8" stroke="#2a2a2a" stroke-width="1.3" />
<line x1="105.5" y1="205.8" x2="105.5" y2="202.3" stroke="#2a2a2a" stroke-width="1.3" />
<line x1="146.7" y1="205.8" x2="146.7" y2="202.3" stroke="#2a2a2a" stroke-width="1.3" />
<line x1="187.9" y1="205.8" x2="187.9" y2="202.3" stroke="#2a2a2a" stroke-width="1.3" />
<line x1="229.1" y1="205.8" x2="229.1" y2="202.3" stroke="#2a2a2a" stroke-width="1.3" />
<text transform="translate(59.8,15.4) scale(1,1.05)" font-size="19.5" font-weight="normal" text-anchor="end" >90</text>
<text transform="translate(59.8,54.86) scale(1,1.05)" font-size="19.5" font-weight="normal" text-anchor="end" >60</text>
<text transform="translate(59.8,94.32) scale(1,1.05)" font-size="19.5" font-weight="normal" text-anchor="end" >30</text>
<text transform="translate(59.8,133.78) scale(1,1.05)" font-size="19.5" font-weight="normal" text-anchor="end" >0</text>
<text transform="translate(59.8,173.24) scale(1,1.05)" font-size="19.5" font-weight="normal" text-anchor="end" >−30</text>
<text transform="translate(59.8,212.69) scale(1,1.05)" font-size="19.5" font-weight="normal" text-anchor="end" >−60</text>
<text transform="translate(84.9,229.8) scale(1,1.05)" font-size="19.5" font-weight="normal" text-anchor="middle" >−1</text>
<text transform="translate(126.1,229.8) scale(1,1.05)" font-size="19.5" font-weight="normal" text-anchor="middle" >−0.5</text>
<text transform="translate(167.3,229.8) scale(1,1.05)" font-size="19.5" font-weight="normal" text-anchor="middle" >0</text>
<text transform="translate(208.5,229.8) scale(1,1.05)" font-size="19.5" font-weight="normal" text-anchor="middle" >0.5</text>
<text transform="translate(249.7,229.8) scale(1,1.05)" font-size="19.5" font-weight="normal" text-anchor="middle" >1</text>
<text x="1" y="16.8" font-size="23.5" font-weight="bold" text-anchor="start" >(a)</text>
<text transform="translate(167.3,257) scale(1,1.07)" font-size="22.3" font-weight="bold" text-anchor="middle" >Potential (V)</text>
<text transform="translate(20.3,106.8) rotate(-90) scale(1,1.07)" font-size="22.5" font-weight="bold" text-anchor="middle">Current (μA)</text>
<text transform="translate(96.3,47.8) scale(1,1.06)" font-size="19.5" font-weight="bold" text-anchor="start" >NIP</text>
<text x="186.5" y="54.4" font-size="16.5" font-weight="bold" text-anchor="start" >0 (μM)</text>
<text x="178" y="128.8" font-size="16.3" font-weight="bold" text-anchor="start" >500</text>
<line x1="190.3" y1="60.5" x2="190.3" y2="105" stroke="#111" stroke-width="1.5" stroke-dasharray="11,6"/>
<path d="M187.6,103 L193,103 L190.3,112.5 Z" fill="#111"/>
<path d="M101.5,437 L102,435.53 L102.5,434.11 L103,432.74 L103.5,431.43 L104,430.2 L104.5,429.05 L105,428 L105.5,427.01 L106,426.04 L106.5,425.1 L107,424.2 L107.5,423.35 L108,422.55 L108.5,421.8 L109,421.13 L109.5,420.52 L110,420 L110.5,419.53 L111,419.08 L111.5,418.64 L112,418.22 L112.5,417.82 L113,417.43 L113.5,417.06 L114,416.71 L114.5,416.37 L115,416.05 L115.5,415.74 L116,415.45 L116.5,415.17 L117,414.91 L117.5,414.66 L118,414.42 L118.5,414.2 L119,413.98 L119.5,413.79 L120,413.6 L120.5,413.42 L121,413.25 L121.5,413.09 L122,412.93 L122.5,412.77 L123,412.62 L123.5,412.48 L124,412.34 L124.5,412.21 L125,412.08 L125.5,411.95 L126,411.83 L126.5,411.71 L127,411.59 L127.5,411.48 L128,411.37 L128.5,411.26 L129,411.16 L129.5,411.05 L130,410.95 L130.5,410.85 L131,410.76 L131.5,410.66 L132,410.56 L132.5,410.47 L133,410.38 L133.5,410.28 L134,410.19 L134.5,410.09 L135,410 L135.5,409.91 L136,409.82 L136.5,409.73 L137,409.65 L137.5,409.57 L138,409.49 L138.5,409.42 L139,409.34 L139.5,409.27 L140,409.2 L140.5,409.13 L141,409.06 L141.5,408.99 L142,408.92 L142.5,408.85 L143,408.78 L143.5,408.71 L144,408.64 L144.5,408.57 L145,408.49 L145.5,408.42 L146,408.34 L146.5,408.26 L147,408.18 L147.5,408.09 L148,408.01 L148.5,407.91 L149,407.82 L149.5,407.72 L150,407.62 L150.5,407.52 L151,407.41 L151.5,407.3 L152,407.19 L152.5,407.08 L153,406.97 L153.5,406.85 L154,406.73 L154.5,406.6 L155,406.47 L155.5,406.34 L156,406.21 L156.5,406.07 L157,405.93 L157.5,405.79 L158,405.64 L158.5,405.48 L159,405.33 L159.5,405.17 L160,405 L160.5,404.83 L161,404.67 L161.5,404.5 L162,404.33 L162.5,404.15 L163,403.97 L163.5,403.78 L164,403.58 L164.5,403.36 L165,403.13 L165.5,402.88 L166,402.61 L166.5,402.32 L167,402.01 L167.5,401.67 L168,401.3 L168.5,400.85 L169,400.26 L169.5,399.56 L170,398.76 L170.5,397.89 L171,396.96 L171.5,395.99 L172,395 L172.5,393.99 L173,392.87 L173.5,391.57 L174,390 L174.5,387.7 L175,384.65 L175.5,381.45 L176,378.7 L176.5,376.64 L177,374.9 L177.5,373.14 L178,371.02 L178.5,368.15 L179,364.27 L179.5,359.75 L180,355 L180.5,349.55 L181,343.37 L181.5,337.5 L182,333 L182.5,329.47 L183,326.17 L183.5,323.65 L184,322.44 L184.5,322.58 L185,323.19 L185.5,324.06 L186,325 L186.5,326.08 L187,327.48 L187.5,329.12 L188,330.94 L188.5,332.87 L189,334.85 L189.5,336.79 L190,338.65 L190.5,340.35 L191,341.82 L191.5,343 L192,343.99 L192.5,344.93 L193,345.83 L193.5,346.68 L194,347.5 L194.5,348.28 L195,349.03 L195.5,349.73 L196,350.41 L196.5,351.05 L197,351.66 L197.5,352.24 L198,352.8 L198.5,353.33 L199,353.83 L199.5,354.31 L200,354.78 L200.5,355.23 L201,355.66 L201.5,356.09 L202,356.51 L202.5,356.91 L203,357.29 L203.5,357.67 L204,358.02 L204.5,358.36 L205,358.68 L205.5,358.99 L206,359.27 L206.5,359.53 L207,359.78 L207.5,360 L208,360.2 L208.5,360.39 L209,360.58 L209.5,360.76 L210,360.95 L210.5,361.13 L211,361.3 L211.5,361.47 L212,361.64 L212.5,361.79 L213,361.94 L213.5,362.08 L214,362.2 L214.5,362.32 L215,362.42 L215.5,362.51 L216,362.58 L216.5,362.64 L217,362.68 L217.5,362.7 L218,362.7 L218.5,362.7 L219,362.69 L219.5,362.69 L220,362.68 L220.5,362.66 L221,362.65 L221.5,362.64 L222,362.62 L222.5,362.6 L223,362.58 L223.5,362.56 L224,362.54 L224.5,362.52 L225,362.5 L225.5,362.48 L226,362.44 L226.5,362.41 L227,362.37 L227.5,362.32 L228,362.27 L228.5,362.22 L229,362.16 L229.5,362.1 L230,362.03 L230.5,361.96 L231,361.89 L231.5,361.82 L232,361.74 L232.5,361.66 L233,361.58 L233.5,361.5 L233.5,364 L233,364.45 L232.5,364.9 L232,365.34 L231.5,365.78 L231,366.21 L230.5,366.64 L230,367.06 L229.5,367.47 L229,367.87 L228.5,368.27 L228,368.65 L227.5,369.02 L227,369.38 L226.5,369.72 L226,370.05 L225.5,370.36 L225,370.66 L224.5,370.95 L224,371.21 L223.5,371.47 L223,371.72 L222.5,371.97 L222,372.2 L221.5,372.43 L221,372.66 L220.5,372.88 L220,373.09 L219.5,373.3 L219,373.5 L218.5,373.7 L218,373.89 L217.5,374.08 L217,374.27 L216.5,374.45 L216,374.64 L215.5,374.81 L215,374.99 L214.5,375.17 L214,375.34 L213.5,375.52 L213,375.69 L212.5,375.87 L212,376.04 L211.5,376.22 L211,376.39 L210.5,376.57 L210,376.75 L209.5,376.93 L209,377.12 L208.5,377.31 L208,377.5 L207.5,377.69 L207,377.89 L206.5,378.08 L206,378.27 L205.5,378.46 L205,378.65 L204.5,378.84 L204,379.03 L203.5,379.22 L203,379.41 L202.5,379.59 L202,379.78 L201.5,379.97 L201,380.16 L200.5,380.35 L200,380.53 L199.5,380.72 L199,380.91 L198.5,381.1 L198,381.29 L197.5,381.48 L197,381.66 L196.5,381.85 L196,382.04 L195.5,382.23 L195,382.42 L194.5,382.61 L194,382.78 L193.5,382.94 L193,383.09 L192.5,383.23 L192,383.38 L191.5,383.53 L191,383.7 L190.5,383.88 L190,384.08 L189.5,384.31 L189,384.57 L188.5,384.87 L188,385.23 L187.5,385.74 L187,386.4 L186.5,387.2 L186,388.13 L185.5,389.18 L185,390.35 L184.5,391.63 L184,393 L183.5,394.68 L183,396.84 L182.5,399.43 L182,402.4 L181.5,405.7 L181,410.01 L180.5,415.2 L180,420.73 L179.5,426.05 L179,431.96 L178.5,438.36 L178,444.43 L177.5,449.38 L177,452.4 L176.5,454.11 L176,455.67 L175.5,457.05 L175,458.23 L174.5,459.19 L174,459.9 L173.5,460.35 L173,460.5 L172.5,460.32 L172,459.82 L171.5,459.06 L171,458.11 L170.5,457.02 L170,455.86 L169.5,454.69 L169,453.58 L168.5,452.58 L168,451.69 L167.5,450.8 L167,449.9 L166.5,449 L166,448.09 L165.5,447.18 L165,446.28 L164.5,445.38 L164,444.48 L163.5,443.59 L163,442.71 L162.5,441.84 L162,440.98 L161.5,440.13 L161,439.3 L160.5,438.43 L160,437.5 L159.5,436.52 L159,435.53 L158.5,434.55 L158,433.61 L157.5,432.75 L157,431.98 L156.5,431.35 L156,430.86 L155.5,430.56 L155,430.44 L154.5,430.35 L154,430.28 L153.5,430.22 L153,430.18 L152.5,430.14 L152,430.1 L151.5,430.06 L151,430.01 L150.5,429.96 L150,429.89 L149.5,429.8 L149,429.67 L148.5,429.49 L148,429.27 L147.5,429 L147,428.7 L146.5,428.38 L146,428.03 L145.5,427.67 L145,427.31 L144.5,426.95 L144,426.6 L143.5,426.26 L143,425.94 L142.5,425.66 L142,425.4 L141.5,425.14 L141,424.87 L140.5,424.59 L140,424.3 L139.5,424.01 L139,423.73 L138.5,423.46 L138,423.19 L137.5,422.93 L137,422.7 L136.5,422.48 L136,422.29 L135.5,422.12 L135,421.99 L134.5,421.88 L134,421.82 L133.5,421.8 L133,421.8 L132.5,421.81 L132,421.81 L131.5,421.82 L131,421.84 L130.5,421.85 L130,421.87 L129.5,421.89 L129,421.92 L128.5,421.94 L128,421.97 L127.5,422 L127,422.03 L126.5,422.07 L126,422.11 L125.5,422.15 L125,422.19 L124.5,422.23 L124,422.28 L123.5,422.32 L123,422.37 L122.5,422.43 L122,422.48 L121.5,422.54 L121,422.63 L120.5,422.74 L120,422.88 L119.5,423.05 L119,423.24 L118.5,423.45 L118,423.68 L117.5,423.93 L117,424.19 L116.5,424.47 L116,424.76 L115.5,425.07 L115,425.38 L114.5,425.7 L114,426.02 L113.5,426.35 L113,426.68 L112.5,427.01 L112,427.34 L111.5,427.67 L111,428 L110.5,428.36 L110,428.73 L109.5,429.11 L109,429.51 L108.5,429.93 L108,430.36 L107.5,430.8 L107,431.25 L106.5,431.72 L106,432.2 L105.5,432.7 L105,433.2 L104.5,433.71 L104,434.24 L103.5,434.77 L103,435.32 L102.5,435.87 L102,436.43 L101.5,437 Z" fill="none" stroke="#2b4f9e" stroke-width="1.4" stroke-linejoin="round"/>
<path d="M101.5,434.88 L102,433.56 L102.5,432.28 L103,431.04 L103.5,429.86 L104,428.74 L104.5,427.7 L105,426.74 L105.5,425.84 L106,424.95 L106.5,424.09 L107,423.27 L107.5,422.48 L108,421.73 L108.5,421.04 L109,420.41 L109.5,419.84 L110,419.34 L110.5,418.89 L111,418.44 L111.5,418.02 L112,417.6 L112.5,417.2 L113,416.81 L113.5,416.44 L114,416.08 L114.5,415.74 L115,415.41 L115.5,415.09 L116,414.79 L116.5,414.5 L117,414.23 L117.5,413.98 L118,413.73 L118.5,413.5 L119,413.28 L119.5,413.07 L120,412.87 L120.5,412.68 L121,412.49 L121.5,412.31 L122,412.14 L122.5,411.97 L123,411.81 L123.5,411.65 L124,411.5 L124.5,411.35 L125,411.2 L125.5,411.06 L126,410.92 L126.5,410.79 L127,410.66 L127.5,410.53 L128,410.41 L128.5,410.29 L129,410.17 L129.5,410.06 L130,409.95 L130.5,409.84 L131,409.73 L131.5,409.62 L132,409.52 L132.5,409.42 L133,409.32 L133.5,409.22 L134,409.12 L134.5,409.02 L135,408.92 L135.5,408.82 L136,408.72 L136.5,408.63 L137,408.54 L137.5,408.46 L138,408.38 L138.5,408.29 L139,408.22 L139.5,408.14 L140,408.06 L140.5,407.99 L141,407.91 L141.5,407.84 L142,407.76 L142.5,407.69 L143,407.62 L143.5,407.54 L144,407.47 L144.5,407.39 L145,407.31 L145.5,407.24 L146,407.16 L146.5,407.07 L147,406.99 L147.5,406.9 L148,406.81 L148.5,406.72 L149,406.62 L149.5,406.52 L150,406.42 L150.5,406.32 L151,406.21 L151.5,406.1 L152,405.99 L152.5,405.88 L153,405.76 L153.5,405.64 L154,405.52 L154.5,405.4 L155,405.28 L155.5,405.15 L156,405.02 L156.5,404.88 L157,404.75 L157.5,404.61 L158,404.47 L158.5,404.32 L159,404.17 L159.5,404.02 L160,403.87 L160.5,403.71 L161,403.55 L161.5,403.39 L162,403.23 L162.5,403.07 L163,402.89 L163.5,402.71 L164,402.52 L164.5,402.32 L165,402.1 L165.5,401.86 L166,401.61 L166.5,401.34 L167,401.05 L167.5,400.73 L168,400.39 L168.5,399.97 L169,399.43 L169.5,398.79 L170,398.07 L170.5,397.28 L171,396.43 L171.5,395.55 L172,394.65 L172.5,393.71 L173,392.67 L173.5,391.46 L174,390 L174.5,387.85 L175,384.99 L175.5,381.96 L176,379.31 L176.5,377.28 L177,375.54 L177.5,373.77 L178,371.68 L178.5,368.93 L179,365.32 L179.5,361.16 L180,356.79 L180.5,351.83 L181,346.23 L181.5,340.92 L182,336.84 L182.5,333.63 L183,330.63 L183.5,328.32 L184,327.17 L184.5,327.23 L185,327.73 L185.5,328.47 L186,329.26 L186.5,330.19 L187,331.41 L187.5,332.85 L188,334.46 L188.5,336.19 L189,337.96 L189.5,339.71 L190,341.4 L190.5,342.94 L191,344.28 L191.5,345.36 L192,346.28 L192.5,347.16 L193,348 L193.5,348.81 L194,349.59 L194.5,350.34 L195,351.06 L195.5,351.74 L196,352.4 L196.5,353.02 L197,353.62 L197.5,354.19 L198,354.73 L198.5,355.24 L199,355.73 L199.5,356.19 L200,356.63 L200.5,357.06 L201,357.48 L201.5,357.89 L202,358.29 L202.5,358.68 L203,359.05 L203.5,359.4 L204,359.75 L204.5,360.07 L205,360.38 L205.5,360.66 L206,360.93 L206.5,361.18 L207,361.4 L207.5,361.61 L208,361.78 L208.5,361.95 L209,362.12 L209.5,362.28 L210,362.44 L210.5,362.6 L211,362.76 L211.5,362.9 L212,363.05 L212.5,363.19 L213,363.32 L213.5,363.44 L214,363.55 L214.5,363.65 L215,363.74 L215.5,363.81 L216,363.88 L216.5,363.93 L217,363.96 L217.5,363.98 L218,363.98 L218.5,363.98 L219,363.97 L219.5,363.95 L220,363.93 L220.5,363.91 L221,363.88 L221.5,363.85 L222,363.81 L222.5,363.78 L223,363.74 L223.5,363.7 L224,363.66 L224.5,363.62 L225,363.58 L225.5,363.54 L226,363.49 L226.5,363.43 L227,363.37 L227.5,363.3 L228,363.23 L228.5,363.15 L229,363.07 L229.5,362.98 L230,362.89 L230.5,362.8 L231,362.7 L231.5,362.6 L232,362.49 L232.5,362.38 L233,362.27 L233.5,362.16 L233.5,364.64 L233,365.08 L232.5,365.53 L232,365.96 L231.5,366.4 L231,366.83 L230.5,367.25 L230,367.67 L229.5,368.07 L229,368.47 L228.5,368.86 L228,369.24 L227.5,369.61 L227,369.96 L226.5,370.3 L226,370.63 L225.5,370.94 L225,371.24 L224.5,371.52 L224,371.79 L223.5,372.04 L223,372.29 L222.5,372.54 L222,372.77 L221.5,373 L221,373.22 L220.5,373.44 L220,373.65 L219.5,373.86 L219,374.06 L218.5,374.26 L218,374.45 L217.5,374.64 L217,374.82 L216.5,375.01 L216,375.19 L215.5,375.37 L215,375.54 L214.5,375.72 L214,375.89 L213.5,376.06 L213,376.23 L212.5,376.41 L212,376.58 L211.5,376.75 L211,376.92 L210.5,377.1 L210,377.28 L209.5,377.45 L209,377.63 L208.5,377.82 L208,378 L207.5,378.19 L207,378.38 L206.5,378.56 L206,378.74 L205.5,378.93 L205,379.11 L204.5,379.29 L204,379.46 L203.5,379.64 L203,379.82 L202.5,380 L202,380.17 L201.5,380.35 L201,380.53 L200.5,380.7 L200,380.88 L199.5,381.06 L199,381.23 L198.5,381.41 L198,381.59 L197.5,381.77 L197,381.95 L196.5,382.13 L196,382.31 L195.5,382.49 L195,382.68 L194.5,382.86 L194,383.03 L193.5,383.19 L193,383.34 L192.5,383.49 L192,383.65 L191.5,383.81 L191,383.98 L190.5,384.17 L190,384.39 L189.5,384.64 L189,384.92 L188.5,385.23 L188,385.61 L187.5,386.12 L187,386.77 L186.5,387.55 L186,388.45 L185.5,389.46 L185,390.58 L184.5,391.8 L184,393.14 L183.5,394.77 L183,396.84 L182.5,399.31 L182,402.11 L181.5,405.24 L181,409.29 L180.5,414.14 L180,419.29 L179.5,424.26 L179,429.74 L178.5,435.67 L178,441.3 L177.5,445.86 L177,448.65 L176.5,450.29 L176,451.77 L175.5,453.06 L175,454.13 L174.5,454.96 L174,455.56 L173.5,455.9 L173,455.98 L172.5,455.75 L172,455.22 L171.5,454.47 L171,453.54 L170.5,452.48 L170,451.37 L169.5,450.24 L169,449.17 L168.5,448.21 L168,447.35 L167.5,446.5 L167,445.65 L166.5,444.81 L166,443.97 L165.5,443.12 L165,442.28 L164.5,441.44 L164,440.6 L163.5,439.77 L163,438.95 L162.5,438.15 L162,437.35 L161.5,436.57 L161,435.81 L160.5,435.02 L160,434.18 L159.5,433.3 L159,432.41 L158.5,431.54 L158,430.72 L157.5,429.96 L157,429.29 L156.5,428.72 L156,428.3 L155.5,428.03 L155,427.92 L154.5,427.85 L154,427.79 L153.5,427.74 L153,427.7 L152.5,427.66 L152,427.63 L151.5,427.59 L151,427.55 L150.5,427.5 L150,427.44 L149.5,427.36 L149,427.25 L148.5,427.1 L148,426.9 L147.5,426.66 L147,426.4 L146.5,426.12 L146,425.82 L145.5,425.51 L145,425.19 L144.5,424.88 L144,424.57 L143.5,424.28 L143,424.01 L142.5,423.76 L142,423.54 L141.5,423.32 L141,423.08 L140.5,422.84 L140,422.6 L139.5,422.35 L139,422.11 L138.5,421.88 L138,421.65 L137.5,421.44 L137,421.24 L136.5,421.07 L136,420.91 L135.5,420.78 L135,420.68 L134.5,420.61 L134,420.57 L133.5,420.57 L133,420.6 L132.5,420.63 L132,420.66 L131.5,420.69 L131,420.73 L130.5,420.77 L130,420.82 L129.5,420.88 L129,420.94 L128.5,421.02 L128,421.11 L127.5,421.21 L127,421.31 L126.5,421.43 L126,421.54 L125.5,421.66 L125,421.79 L124.5,421.92 L124,422.05 L123.5,422.18 L123,422.31 L122.5,422.44 L122,422.57 L121.5,422.7 L121,422.85 L120.5,423.04 L120,423.25 L119.5,423.49 L119,423.75 L118.5,424.03 L118,424.33 L117.5,424.65 L117,424.97 L116.5,425.31 L116,425.65 L115.5,425.99 L115,426.33 L114.5,426.67 L114,427.01 L113.5,427.34 L113,427.65 L112.5,427.96 L112,428.24 L111.5,428.52 L111,428.8 L110.5,429.08 L110,429.37 L109.5,429.67 L109,429.97 L108.5,430.28 L108,430.59 L107.5,430.91 L107,431.23 L106.5,431.55 L106,431.87 L105.5,432.2 L105,432.53 L104.5,432.86 L104,433.19 L103.5,433.52 L103,433.85 L102.5,434.18 L102,434.51 L101.5,434.84 Z" fill="none" stroke="#dd4b2e" stroke-width="1.4" stroke-linejoin="round"/>
<path d="M101.5,429.41 L102,428.47 L102.5,427.55 L103,426.66 L103.5,425.8 L104,424.99 L104.5,424.22 L105,423.5 L105.5,422.81 L106,422.14 L106.5,421.48 L107,420.84 L107.5,420.22 L108,419.63 L108.5,419.07 L109,418.55 L109.5,418.07 L110,417.63 L110.5,417.22 L111,416.81 L111.5,416.4 L112,416 L112.5,415.6 L113,415.21 L113.5,414.83 L114,414.46 L114.5,414.09 L115,413.75 L115.5,413.41 L116,413.09 L116.5,412.78 L117,412.5 L117.5,412.22 L118,411.96 L118.5,411.7 L119,411.45 L119.5,411.21 L120,410.98 L120.5,410.75 L121,410.53 L121.5,410.32 L122,410.11 L122.5,409.9 L123,409.7 L123.5,409.5 L124,409.31 L124.5,409.12 L125,408.94 L125.5,408.76 L126,408.59 L126.5,408.42 L127,408.25 L127.5,408.09 L128,407.93 L128.5,407.78 L129,407.63 L129.5,407.49 L130,407.35 L130.5,407.21 L131,407.08 L131.5,406.95 L132,406.83 L132.5,406.7 L133,406.58 L133.5,406.46 L134,406.35 L134.5,406.23 L135,406.12 L135.5,406.01 L136,405.9 L136.5,405.79 L137,405.69 L137.5,405.59 L138,405.49 L138.5,405.4 L139,405.31 L139.5,405.21 L140,405.12 L140.5,405.04 L141,404.95 L141.5,404.86 L142,404.78 L142.5,404.69 L143,404.61 L143.5,404.52 L144,404.44 L144.5,404.35 L145,404.26 L145.5,404.18 L146,404.09 L146.5,404 L147,403.91 L147.5,403.81 L148,403.72 L148.5,403.62 L149,403.52 L149.5,403.42 L150,403.32 L150.5,403.21 L151,403.11 L151.5,403 L152,402.89 L152.5,402.77 L153,402.66 L153.5,402.54 L154,402.42 L154.5,402.3 L155,402.18 L155.5,402.06 L156,401.94 L156.5,401.82 L157,401.7 L157.5,401.57 L158,401.45 L158.5,401.32 L159,401.2 L159.5,401.07 L160,400.93 L160.5,400.8 L161,400.67 L161.5,400.53 L162,400.39 L162.5,400.25 L163,400.11 L163.5,399.95 L164,399.79 L164.5,399.62 L165,399.44 L165.5,399.24 L166,399.03 L166.5,398.81 L167,398.57 L167.5,398.31 L168,398.04 L168.5,397.71 L169,397.3 L169.5,396.82 L170,396.28 L170.5,395.7 L171,395.08 L171.5,394.43 L172,393.73 L172.5,392.99 L173,392.16 L173.5,391.18 L174,390 L174.5,388.25 L175,385.87 L175.5,383.28 L176,380.89 L176.5,378.94 L177,377.19 L177.5,375.38 L178,373.36 L178.5,370.95 L179,368.03 L179.5,364.79 L180,361.43 L180.5,357.71 L181,353.61 L181.5,349.75 L182,346.76 L182.5,344.37 L183,342.13 L183.5,340.37 L184,339.4 L184.5,339.25 L185,339.45 L185.5,339.84 L186,340.27 L186.5,340.82 L187,341.56 L187.5,342.49 L188,343.56 L188.5,344.75 L189,345.99 L189.5,347.26 L190,348.48 L190.5,349.63 L191,350.64 L191.5,351.47 L192,352.2 L192.5,352.91 L193,353.62 L193.5,354.31 L194,354.99 L194.5,355.65 L195,356.3 L195.5,356.93 L196,357.53 L196.5,358.12 L197,358.68 L197.5,359.21 L198,359.72 L198.5,360.19 L199,360.64 L199.5,361.05 L200,361.44 L200.5,361.81 L201,362.18 L201.5,362.55 L202,362.9 L202.5,363.25 L203,363.58 L203.5,363.9 L204,364.2 L204.5,364.49 L205,364.75 L205.5,365 L206,365.23 L206.5,365.43 L207,365.6 L207.5,365.75 L208,365.88 L208.5,365.98 L209,366.09 L209.5,366.2 L210,366.3 L210.5,366.4 L211,366.51 L211.5,366.6 L212,366.7 L212.5,366.78 L213,366.87 L213.5,366.95 L214,367.02 L214.5,367.08 L215,367.14 L215.5,367.19 L216,367.23 L216.5,367.26 L217,367.29 L217.5,367.3 L218,367.3 L218.5,367.29 L219,367.26 L219.5,367.22 L220,367.18 L220.5,367.12 L221,367.05 L221.5,366.98 L222,366.9 L222.5,366.82 L223,366.73 L223.5,366.64 L224,366.55 L224.5,366.46 L225,366.37 L225.5,366.28 L226,366.18 L226.5,366.07 L227,365.95 L227.5,365.83 L228,365.7 L228.5,365.56 L229,365.41 L229.5,365.26 L230,365.11 L230.5,364.94 L231,364.78 L231.5,364.6 L232,364.42 L232.5,364.24 L233,364.06 L233.5,363.87 L233.5,366.28 L233,366.71 L232.5,367.15 L232,367.58 L231.5,368 L231,368.42 L230.5,368.83 L230,369.24 L229.5,369.64 L229,370.03 L228.5,370.41 L228,370.78 L227.5,371.14 L227,371.48 L226.5,371.82 L226,372.14 L225.5,372.44 L225,372.74 L224.5,373.01 L224,373.27 L223.5,373.52 L223,373.77 L222.5,374 L222,374.24 L221.5,374.46 L221,374.68 L220.5,374.89 L220,375.1 L219.5,375.3 L219,375.5 L218.5,375.7 L218,375.89 L217.5,376.07 L217,376.26 L216.5,376.44 L216,376.61 L215.5,376.79 L215,376.96 L214.5,377.13 L214,377.3 L213.5,377.47 L213,377.63 L212.5,377.8 L212,377.97 L211.5,378.13 L211,378.3 L210.5,378.46 L210,378.63 L209.5,378.79 L209,378.96 L208.5,379.13 L208,379.31 L207.5,379.48 L207,379.64 L206.5,379.81 L206,379.97 L205.5,380.13 L205,380.28 L204.5,380.44 L204,380.59 L203.5,380.74 L203,380.89 L202.5,381.04 L202,381.18 L201.5,381.33 L201,381.48 L200.5,381.62 L200,381.77 L199.5,381.92 L199,382.07 L198.5,382.22 L198,382.37 L197.5,382.53 L197,382.68 L196.5,382.84 L196,383 L195.5,383.17 L195,383.34 L194.5,383.51 L194,383.67 L193.5,383.84 L193,384 L192.5,384.16 L192,384.33 L191.5,384.51 L191,384.71 L190.5,384.93 L190,385.19 L189.5,385.48 L189,385.81 L188.5,386.17 L188,386.59 L187.5,387.11 L187,387.74 L186.5,388.46 L186,389.28 L185.5,390.18 L185,391.17 L184.5,392.26 L184,393.5 L183.5,395 L183,396.84 L182.5,398.98 L182,401.37 L181.5,404.04 L181,407.42 L180.5,411.39 L180,415.57 L179.5,419.62 L179,423.99 L178.5,428.73 L178,433.2 L177.5,436.75 L177,438.98 L176.5,440.42 L176,441.7 L175.5,442.74 L175,443.51 L174.5,444.02 L174,444.33 L173.5,444.42 L173,444.29 L172.5,443.93 L172,443.36 L171.5,442.61 L171,441.73 L170.5,440.76 L170,439.76 L169.5,438.75 L169,437.79 L168.5,436.91 L168,436.13 L167.5,435.38 L167,434.68 L166.5,433.99 L166,433.31 L165.5,432.62 L165,431.93 L164.5,431.25 L164,430.58 L163.5,429.91 L163,429.25 L162.5,428.61 L162,427.99 L161.5,427.38 L161,426.8 L160.5,426.21 L160,425.59 L159.5,424.97 L159,424.36 L158.5,423.78 L158,423.24 L157.5,422.75 L157,422.32 L156.5,421.95 L156,421.68 L155.5,421.51 L155,421.43 L154.5,421.38 L154,421.34 L153.5,421.31 L153,421.29 L152.5,421.26 L152,421.24 L151.5,421.22 L151,421.19 L150.5,421.16 L150,421.12 L149.5,421.07 L149,421 L148.5,420.9 L148,420.78 L147.5,420.63 L147,420.47 L146.5,420.29 L146,420.11 L145.5,419.91 L145,419.72 L144.5,419.53 L144,419.35 L143.5,419.17 L143,419.01 L142.5,418.87 L142,418.74 L141.5,418.61 L141,418.48 L140.5,418.34 L140,418.2 L139.5,418.06 L139,417.93 L138.5,417.8 L138,417.68 L137.5,417.58 L137,417.49 L136.5,417.41 L136,417.35 L135.5,417.32 L135,417.3 L134.5,417.31 L134,417.34 L133.5,417.41 L133,417.49 L132.5,417.58 L132,417.67 L131.5,417.77 L131,417.87 L130.5,417.98 L130,418.1 L129.5,418.25 L129,418.44 L128.5,418.65 L128,418.9 L127.5,419.17 L127,419.45 L126.5,419.76 L126,420.08 L125.5,420.42 L125,420.76 L124.5,421.11 L124,421.46 L123.5,421.8 L123,422.15 L122.5,422.48 L122,422.8 L121.5,423.11 L121,423.44 L120.5,423.8 L120,424.2 L119.5,424.62 L119,425.07 L118.5,425.54 L118,426.02 L117.5,426.5 L117,426.98 L116.5,427.46 L116,427.93 L115.5,428.38 L115,428.81 L114.5,429.21 L114,429.57 L113.5,429.89 L113,430.17 L112.5,430.4 L112,430.58 L111.5,430.73 L111,430.86 L110.5,430.96 L110,431.05 L109.5,431.12 L109,431.17 L108.5,431.19 L108,431.2 L107.5,431.18 L107,431.15 L106.5,431.09 L106,431.01 L105.5,430.91 L105,430.78 L104.5,430.64 L104,430.47 L103.5,430.28 L103,430.06 L102.5,429.82 L102,429.55 L101.5,429.26 Z" fill="none" stroke="#50a446" stroke-width="1.4" stroke-linejoin="round"/>
<path d="M101.5,427.47 L102,426.66 L102.5,425.87 L103,425.11 L103.5,424.36 L104,423.65 L104.5,422.98 L105,422.35 L105.5,421.74 L106,421.14 L106.5,420.55 L107,419.98 L107.5,419.42 L108,418.89 L108.5,418.38 L109,417.89 L109.5,417.44 L110,417.03 L110.5,416.63 L111,416.23 L111.5,415.83 L112,415.43 L112.5,415.04 L113,414.64 L113.5,414.26 L114,413.88 L114.5,413.51 L115,413.16 L115.5,412.81 L116,412.48 L116.5,412.17 L117,411.88 L117.5,411.6 L118,411.33 L118.5,411.06 L119,410.8 L119.5,410.55 L120,410.31 L120.5,410.07 L121,409.84 L121.5,409.61 L122,409.38 L122.5,409.16 L123,408.95 L123.5,408.74 L124,408.53 L124.5,408.33 L125,408.14 L125.5,407.94 L126,407.76 L126.5,407.57 L127,407.39 L127.5,407.22 L128,407.05 L128.5,406.89 L129,406.73 L129.5,406.57 L130,406.42 L130.5,406.28 L131,406.14 L131.5,406 L132,405.87 L132.5,405.74 L133,405.61 L133.5,405.49 L134,405.37 L134.5,405.24 L135,405.13 L135.5,405.01 L136,404.9 L136.5,404.79 L137,404.68 L137.5,404.57 L138,404.47 L138.5,404.37 L139,404.27 L139.5,404.18 L140,404.08 L140.5,403.99 L141,403.9 L141.5,403.81 L142,403.72 L142.5,403.63 L143,403.54 L143.5,403.45 L144,403.36 L144.5,403.27 L145,403.18 L145.5,403.09 L146,403 L146.5,402.91 L147,402.82 L147.5,402.72 L148,402.62 L148.5,402.53 L149,402.42 L149.5,402.32 L150,402.22 L150.5,402.11 L151,402 L151.5,401.89 L152,401.78 L152.5,401.67 L153,401.55 L153.5,401.43 L154,401.32 L154.5,401.2 L155,401.08 L155.5,400.96 L156,400.85 L156.5,400.73 L157,400.61 L157.5,400.5 L158,400.38 L158.5,400.26 L159,400.14 L159.5,400.02 L160,399.89 L160.5,399.77 L161,399.64 L161.5,399.52 L162,399.39 L162.5,399.25 L163,399.12 L163.5,398.97 L164,398.82 L164.5,398.66 L165,398.49 L165.5,398.31 L166,398.12 L166.5,397.91 L167,397.69 L167.5,397.46 L168,397.2 L168.5,396.91 L169,396.54 L169.5,396.12 L170,395.65 L170.5,395.14 L171,394.6 L171.5,394.03 L172,393.41 L172.5,392.74 L173,391.97 L173.5,391.08 L174,390 L174.5,388.39 L175,386.18 L175.5,383.74 L176,381.46 L176.5,379.53 L177,377.78 L177.5,375.95 L178,373.96 L178.5,371.66 L179,368.99 L179.5,366.08 L180,363.07 L180.5,359.79 L181,356.23 L181.5,352.89 L182,350.28 L182.5,348.18 L183,346.22 L183.5,344.65 L184,343.73 L184.5,343.52 L185,343.61 L185.5,343.87 L186,344.18 L186.5,344.58 L187,345.17 L187.5,345.91 L188,346.79 L188.5,347.79 L189,348.85 L189.5,349.93 L190,351 L190.5,352 L191,352.89 L191.5,353.64 L192,354.3 L192.5,354.95 L193,355.61 L193.5,356.26 L194,356.9 L194.5,357.54 L195,358.16 L195.5,358.77 L196,359.36 L196.5,359.92 L197,360.47 L197.5,360.99 L198,361.49 L198.5,361.95 L199,362.38 L199.5,362.78 L200,363.14 L200.5,363.5 L201,363.85 L201.5,364.2 L202,364.54 L202.5,364.87 L203,365.19 L203.5,365.49 L204,365.78 L204.5,366.05 L205,366.31 L205.5,366.54 L206,366.75 L206.5,366.93 L207,367.09 L207.5,367.23 L208,367.33 L208.5,367.41 L209,367.5 L209.5,367.59 L210,367.67 L210.5,367.75 L211,367.84 L211.5,367.91 L212,367.99 L212.5,368.06 L213,368.13 L213.5,368.19 L214,368.25 L214.5,368.3 L215,368.35 L215.5,368.39 L216,368.42 L216.5,368.45 L217,368.47 L217.5,368.48 L218,368.48 L218.5,368.46 L219,368.43 L219.5,368.38 L220,368.33 L220.5,368.26 L221,368.18 L221.5,368.09 L222,367.99 L222.5,367.89 L223,367.79 L223.5,367.68 L224,367.57 L224.5,367.47 L225,367.36 L225.5,367.25 L226,367.13 L226.5,367.01 L227,366.87 L227.5,366.73 L228,366.57 L228.5,366.41 L229,366.25 L229.5,366.07 L230,365.89 L230.5,365.71 L231,365.51 L231.5,365.31 L232,365.11 L232.5,364.9 L233,364.69 L233.5,364.47 L233.5,366.86 L233,367.29 L232.5,367.72 L232,368.15 L231.5,368.57 L231,368.98 L230.5,369.39 L230,369.8 L229.5,370.19 L229,370.58 L228.5,370.95 L228,371.32 L227.5,371.68 L227,372.02 L226.5,372.35 L226,372.67 L225.5,372.98 L225,373.27 L224.5,373.54 L224,373.8 L223.5,374.05 L223,374.29 L222.5,374.53 L222,374.75 L221.5,374.98 L221,375.2 L220.5,375.41 L220,375.62 L219.5,375.82 L219,376.02 L218.5,376.21 L218,376.4 L217.5,376.58 L217,376.77 L216.5,376.94 L216,377.12 L215.5,377.29 L215,377.47 L214.5,377.63 L214,377.8 L213.5,377.97 L213,378.13 L212.5,378.29 L212,378.46 L211.5,378.62 L211,378.78 L210.5,378.94 L210,379.11 L209.5,379.27 L209,379.43 L208.5,379.6 L208,379.77 L207.5,379.93 L207,380.1 L206.5,380.25 L206,380.41 L205.5,380.56 L205,380.7 L204.5,380.85 L204,380.99 L203.5,381.13 L203,381.27 L202.5,381.4 L202,381.54 L201.5,381.68 L201,381.81 L200.5,381.95 L200,382.09 L199.5,382.22 L199,382.36 L198.5,382.5 L198,382.65 L197.5,382.79 L197,382.94 L196.5,383.09 L196,383.25 L195.5,383.41 L195,383.57 L194.5,383.74 L194,383.9 L193.5,384.06 L193,384.23 L192.5,384.4 L192,384.57 L191.5,384.76 L191,384.96 L190.5,385.2 L190,385.47 L189.5,385.78 L189,386.12 L188.5,386.5 L188,386.94 L187.5,387.47 L187,388.08 L186.5,388.79 L186,389.57 L185.5,390.44 L185,391.38 L184.5,392.42 L184,393.63 L183.5,395.08 L183,396.84 L182.5,398.86 L182,401.1 L181.5,403.62 L181,406.76 L180.5,410.41 L180,414.25 L179.5,417.98 L179,421.95 L178.5,426.26 L178,430.33 L177.5,433.52 L177,435.55 L176.5,436.92 L176,438.12 L175.5,439.08 L175,439.75 L174.5,440.14 L174,440.34 L173.5,440.34 L173,440.14 L172.5,439.74 L172,439.15 L171.5,438.4 L171,437.54 L170.5,436.61 L170,435.64 L169.5,434.67 L169,433.75 L168.5,432.9 L168,432.15 L167.5,431.44 L167,430.78 L166.5,430.16 L166,429.53 L165.5,428.9 L165,428.27 L164.5,427.64 L164,427.02 L163.5,426.41 L163,425.81 L162.5,425.23 L162,424.67 L161.5,424.12 L161,423.6 L160.5,423.08 L160,422.55 L159.5,422.02 L159,421.51 L158.5,421.03 L158,420.59 L157.5,420.19 L157,419.84 L156.5,419.55 L156,419.33 L155.5,419.19 L155,419.13 L154.5,419.09 L154,419.06 L153.5,419.03 L153,419.01 L152.5,418.99 L152,418.98 L151.5,418.96 L151,418.94 L150.5,418.91 L150,418.88 L149.5,418.84 L149,418.78 L148.5,418.7 L148,418.6 L147.5,418.49 L147,418.36 L146.5,418.22 L146,418.08 L145.5,417.93 L145,417.78 L144.5,417.63 L144,417.49 L143.5,417.36 L143,417.24 L142.5,417.13 L142,417.04 L141.5,416.94 L141,416.85 L140.5,416.75 L140,416.64 L139.5,416.54 L139,416.44 L138.5,416.35 L138,416.27 L137.5,416.21 L137,416.15 L136.5,416.11 L136,416.09 L135.5,416.09 L135,416.1 L134.5,416.14 L134,416.2 L133.5,416.28 L133,416.38 L132.5,416.49 L132,416.61 L131.5,416.73 L131,416.86 L130.5,416.99 L130,417.14 L129.5,417.32 L129,417.55 L128.5,417.81 L128,418.11 L127.5,418.44 L127,418.8 L126.5,419.17 L126,419.57 L125.5,419.98 L125,420.4 L124.5,420.82 L124,421.25 L123.5,421.67 L123,422.09 L122.5,422.49 L122,422.89 L121.5,423.26 L121,423.64 L120.5,424.07 L120,424.53 L119.5,425.02 L119,425.54 L118.5,426.07 L118,426.61 L117.5,427.16 L117,427.7 L116.5,428.23 L116,428.74 L115.5,429.23 L115,429.68 L114.5,430.1 L114,430.48 L113.5,430.8 L113,431.07 L112.5,431.27 L112,431.41 L111.5,431.51 L111,431.59 L110.5,431.63 L110,431.64 L109.5,431.63 L109,431.59 L108.5,431.52 L108,431.41 L107.5,431.28 L107,431.12 L106.5,430.93 L106,430.71 L105.5,430.45 L105,430.17 L104.5,429.85 L104,429.5 L103.5,429.12 L103,428.71 L102.5,428.27 L102,427.79 L101.5,427.29 Z" fill="none" stroke="#8b2540" stroke-width="1.4" stroke-linejoin="round"/>
<path d="M101.5,424.82 L102,424.2 L102.5,423.59 L103,422.99 L103.5,422.4 L104,421.84 L104.5,421.29 L105,420.78 L105.5,420.28 L106,419.78 L106.5,419.29 L107,418.8 L107.5,418.33 L108,417.87 L108.5,417.42 L109,417 L109.5,416.59 L110,416.21 L110.5,415.83 L111,415.44 L111.5,415.05 L112,414.66 L112.5,414.26 L113,413.87 L113.5,413.48 L114,413.09 L114.5,412.72 L115,412.35 L115.5,412 L116,411.66 L116.5,411.34 L117,411.04 L117.5,410.75 L118,410.47 L118.5,410.19 L119,409.92 L119.5,409.65 L120,409.39 L120.5,409.14 L121,408.89 L121.5,408.64 L122,408.4 L122.5,408.16 L123,407.93 L123.5,407.7 L124,407.48 L124.5,407.26 L125,407.04 L125.5,406.83 L126,406.63 L126.5,406.42 L127,406.23 L127.5,406.04 L128,405.85 L128.5,405.67 L129,405.5 L129.5,405.33 L130,405.17 L130.5,405.01 L131,404.85 L131.5,404.71 L132,404.56 L132.5,404.43 L133,404.29 L133.5,404.16 L134,404.03 L134.5,403.9 L135,403.77 L135.5,403.65 L136,403.53 L136.5,403.41 L137,403.3 L137.5,403.19 L138,403.08 L138.5,402.97 L139,402.87 L139.5,402.76 L140,402.66 L140.5,402.56 L141,402.46 L141.5,402.37 L142,402.27 L142.5,402.18 L143,402.08 L143.5,401.99 L144,401.89 L144.5,401.8 L145,401.71 L145.5,401.61 L146,401.52 L146.5,401.42 L147,401.32 L147.5,401.23 L148,401.13 L148.5,401.03 L149,400.93 L149.5,400.82 L150,400.72 L150.5,400.61 L151,400.5 L151.5,400.39 L152,400.28 L152.5,400.17 L153,400.05 L153.5,399.93 L154,399.81 L154.5,399.7 L155,399.58 L155.5,399.47 L156,399.36 L156.5,399.25 L157,399.14 L157.5,399.03 L158,398.92 L158.5,398.81 L159,398.7 L159.5,398.59 L160,398.48 L160.5,398.36 L161,398.25 L161.5,398.13 L162,398.01 L162.5,397.89 L163,397.77 L163.5,397.64 L164,397.5 L164.5,397.36 L165,397.2 L165.5,397.04 L166,396.87 L166.5,396.69 L167,396.49 L167.5,396.29 L168,396.07 L168.5,395.81 L169,395.51 L169.5,395.17 L170,394.79 L170.5,394.38 L171,393.94 L171.5,393.48 L172,392.97 L172.5,392.39 L173,391.72 L173.5,390.94 L174,390 L174.5,388.59 L175,386.61 L175.5,384.38 L176,382.22 L176.5,380.34 L177,378.57 L177.5,376.74 L178,374.78 L178.5,372.64 L179,370.29 L179.5,367.83 L180,365.32 L180.5,362.63 L181,359.8 L181.5,357.16 L182,355.08 L182.5,353.38 L183,351.78 L183.5,350.48 L184,349.65 L184.5,349.33 L185,349.28 L185.5,349.37 L186,349.51 L186.5,349.72 L187,350.08 L187.5,350.57 L188,351.19 L188.5,351.93 L189,352.74 L189.5,353.58 L190,354.42 L190.5,355.23 L191,355.97 L191.5,356.59 L192,357.16 L192.5,357.74 L193,358.33 L193.5,358.92 L194,359.51 L194.5,360.11 L195,360.7 L195.5,361.27 L196,361.84 L196.5,362.39 L197,362.92 L197.5,363.42 L198,363.9 L198.5,364.35 L199,364.76 L199.5,365.13 L200,365.46 L200.5,365.8 L201,366.13 L201.5,366.45 L202,366.77 L202.5,367.08 L203,367.38 L203.5,367.67 L204,367.94 L204.5,368.19 L205,368.42 L205.5,368.64 L206,368.83 L206.5,368.99 L207,369.13 L207.5,369.23 L208,369.31 L208.5,369.37 L209,369.42 L209.5,369.48 L210,369.54 L210.5,369.6 L211,369.65 L211.5,369.7 L212,369.75 L212.5,369.8 L213,369.85 L213.5,369.89 L214,369.93 L214.5,369.96 L215,370 L215.5,370.02 L216,370.05 L216.5,370.06 L217,370.08 L217.5,370.08 L218,370.08 L218.5,370.06 L219,370.02 L219.5,369.97 L220,369.9 L220.5,369.81 L221,369.71 L221.5,369.6 L222,369.49 L222.5,369.36 L223,369.23 L223.5,369.1 L224,368.97 L224.5,368.84 L225,368.71 L225.5,368.58 L226,368.43 L226.5,368.28 L227,368.12 L227.5,367.95 L228,367.77 L228.5,367.58 L229,367.38 L229.5,367.18 L230,366.96 L230.5,366.74 L231,366.52 L231.5,366.29 L232,366.05 L232.5,365.8 L233,365.55 L233.5,365.3 L233.5,367.66 L233,368.08 L232.5,368.51 L232,368.93 L231.5,369.34 L231,369.75 L230.5,370.16 L230,370.56 L229.5,370.95 L229,371.33 L228.5,371.7 L228,372.06 L227.5,372.42 L227,372.76 L226.5,373.08 L226,373.4 L225.5,373.7 L225,373.99 L224.5,374.26 L224,374.52 L223.5,374.76 L223,375 L222.5,375.24 L222,375.46 L221.5,375.68 L221,375.9 L220.5,376.11 L220,376.32 L219.5,376.52 L219,376.71 L218.5,376.91 L218,377.09 L217.5,377.28 L217,377.46 L216.5,377.64 L216,377.81 L215.5,377.98 L215,378.15 L214.5,378.32 L214,378.48 L213.5,378.65 L213,378.81 L212.5,378.97 L212,379.13 L211.5,379.29 L211,379.45 L210.5,379.6 L210,379.76 L209.5,379.92 L209,380.08 L208.5,380.24 L208,380.4 L207.5,380.56 L207,380.71 L206.5,380.86 L206,381 L205.5,381.14 L205,381.27 L204.5,381.4 L204,381.53 L203.5,381.66 L203,381.78 L202.5,381.91 L202,382.03 L201.5,382.15 L201,382.27 L200.5,382.39 L200,382.52 L199.5,382.64 L199,382.77 L198.5,382.9 L198,383.03 L197.5,383.16 L197,383.3 L196.5,383.44 L196,383.58 L195.5,383.73 L195,383.89 L194.5,384.05 L194,384.21 L193.5,384.38 L193,384.55 L192.5,384.72 L192,384.9 L191.5,385.1 L191,385.31 L190.5,385.57 L190,385.86 L189.5,386.18 L189,386.55 L188.5,386.96 L188,387.41 L187.5,387.95 L187,388.55 L186.5,389.23 L186,389.97 L185.5,390.79 L185,391.66 L184.5,392.64 L184,393.8 L183.5,395.19 L183,396.84 L182.5,398.7 L182,400.74 L181.5,403.04 L181,405.86 L180.5,409.08 L180,412.45 L179.5,415.73 L179,419.17 L178.5,422.9 L178,426.41 L177.5,429.11 L177,430.86 L176.5,432.15 L176,433.25 L175.5,434.09 L175,434.61 L174.5,434.85 L174,434.91 L173.5,434.78 L173,434.49 L172.5,434.03 L172,433.4 L171.5,432.66 L171,431.83 L170.5,430.94 L170,430.02 L169.5,429.11 L169,428.24 L168.5,427.44 L168,426.72 L167.5,426.06 L167,425.47 L166.5,424.92 L166,424.37 L165.5,423.82 L165,423.26 L164.5,422.71 L164,422.17 L163.5,421.64 L163,421.12 L162.5,420.62 L162,420.13 L161.5,419.67 L161,419.24 L160.5,418.82 L160,418.4 L159.5,417.99 L159,417.61 L158.5,417.27 L158,416.98 L157.5,416.71 L157,416.47 L156.5,416.27 L156,416.12 L155.5,416.03 L155,415.99 L154.5,415.96 L154,415.94 L153.5,415.92 L153,415.91 L152.5,415.9 L152,415.89 L151.5,415.87 L151,415.86 L150.5,415.84 L150,415.82 L149.5,415.79 L149,415.76 L148.5,415.7 L148,415.64 L147.5,415.57 L147,415.49 L146.5,415.4 L146,415.31 L145.5,415.22 L145,415.13 L144.5,415.05 L144,414.96 L143.5,414.89 L143,414.82 L142.5,414.76 L142,414.71 L141.5,414.67 L141,414.62 L140.5,414.57 L140,414.52 L139.5,414.47 L139,414.42 L138.5,414.38 L138,414.35 L137.5,414.34 L137,414.33 L136.5,414.34 L136,414.37 L135.5,414.41 L135,414.47 L134.5,414.54 L134,414.64 L133.5,414.75 L133,414.88 L132.5,415.02 L132,415.16 L131.5,415.31 L131,415.47 L130.5,415.64 L130,415.82 L129.5,416.05 L129,416.33 L128.5,416.67 L128,417.04 L127.5,417.45 L127,417.9 L126.5,418.37 L126,418.86 L125.5,419.37 L125,419.9 L124.5,420.43 L124,420.96 L123.5,421.49 L123,422.01 L122.5,422.51 L122,423 L121.5,423.46 L121,423.93 L120.5,424.44 L120,424.99 L119.5,425.57 L119,426.18 L118.5,426.8 L118,427.43 L117.5,428.05 L117,428.67 L116.5,429.27 L116,429.84 L115.5,430.38 L115,430.88 L114.5,431.33 L114,431.72 L113.5,432.04 L113,432.29 L112.5,432.45 L112,432.54 L111.5,432.58 L111,432.58 L110.5,432.54 L110,432.46 L109.5,432.33 L109,432.16 L108.5,431.96 L108,431.71 L107.5,431.42 L107,431.08 L106.5,430.71 L106,430.29 L105.5,429.83 L105,429.32 L104.5,428.78 L104,428.19 L103.5,427.55 L103,426.88 L102.5,426.16 L102,425.39 L101.5,424.59 Z" fill="none" stroke="#88c8ea" stroke-width="1.4" stroke-linejoin="round"/>
<path d="M101.5,421.64 L102,421.24 L102.5,420.84 L103,420.44 L103.5,420.05 L104,419.66 L104.5,419.27 L105,418.89 L105.5,418.52 L106,418.14 L106.5,417.77 L107,417.39 L107.5,417.02 L108,416.65 L108.5,416.28 L109,415.92 L109.5,415.56 L110,415.22 L110.5,414.86 L111,414.49 L111.5,414.12 L112,413.73 L112.5,413.34 L113,412.94 L113.5,412.54 L114,412.15 L114.5,411.76 L115,411.39 L115.5,411.02 L116,410.67 L116.5,410.34 L117,410.03 L117.5,409.73 L118,409.44 L118.5,409.15 L119,408.86 L119.5,408.58 L120,408.3 L120.5,408.02 L121,407.75 L121.5,407.48 L122,407.22 L122.5,406.96 L123,406.7 L123.5,406.45 L124,406.21 L124.5,405.96 L125,405.73 L125.5,405.5 L126,405.27 L126.5,405.05 L127,404.83 L127.5,404.62 L128,404.41 L128.5,404.22 L129,404.02 L129.5,403.84 L130,403.66 L130.5,403.48 L131,403.31 L131.5,403.15 L132,403 L132.5,402.85 L133,402.7 L133.5,402.56 L134,402.42 L134.5,402.28 L135,402.15 L135.5,402.02 L136,401.89 L136.5,401.76 L137,401.64 L137.5,401.52 L138,401.4 L138.5,401.29 L139,401.18 L139.5,401.07 L140,400.96 L140.5,400.85 L141,400.74 L141.5,400.64 L142,400.54 L142.5,400.44 L143,400.33 L143.5,400.23 L144,400.13 L144.5,400.03 L145,399.94 L145.5,399.84 L146,399.74 L146.5,399.64 L147,399.54 L147.5,399.44 L148,399.33 L148.5,399.23 L149,399.13 L149.5,399.02 L150,398.92 L150.5,398.81 L151,398.7 L151.5,398.59 L152,398.48 L152.5,398.36 L153,398.25 L153.5,398.13 L154,398.01 L154.5,397.89 L155,397.78 L155.5,397.67 L156,397.57 L156.5,397.47 L157,397.36 L157.5,397.26 L158,397.17 L158.5,397.07 L159,396.97 L159.5,396.87 L160,396.77 L160.5,396.67 L161,396.57 L161.5,396.47 L162,396.37 L162.5,396.26 L163,396.15 L163.5,396.03 L164,395.92 L164.5,395.79 L165,395.66 L165.5,395.52 L166,395.37 L166.5,395.22 L167,395.06 L167.5,394.88 L168,394.7 L168.5,394.5 L169,394.27 L169.5,394.02 L170,393.75 L170.5,393.46 L171,393.16 L171.5,392.83 L172,392.44 L172.5,391.97 L173,391.43 L173.5,390.77 L174,390 L174.5,388.82 L175,387.12 L175.5,385.15 L176,383.14 L176.5,381.3 L177,379.53 L177.5,377.67 L178,375.76 L178.5,373.81 L179,371.87 L179.5,369.94 L180,368.01 L180.5,366.05 L181,364.08 L181.5,362.29 L182,360.84 L182.5,359.62 L183,358.46 L183.5,357.47 L184,356.75 L184.5,356.31 L185,356.08 L185.5,355.98 L186,355.9 L186.5,355.89 L187,355.97 L187.5,356.16 L188,356.48 L188.5,356.9 L189,357.4 L189.5,357.96 L190,358.54 L190.5,359.12 L191,359.66 L191.5,360.14 L192,360.6 L192.5,361.08 L193,361.59 L193.5,362.11 L194,362.65 L194.5,363.19 L195,363.74 L195.5,364.29 L196,364.82 L196.5,365.35 L197,365.85 L197.5,366.34 L198,366.8 L198.5,367.22 L199,367.6 L199.5,367.95 L200,368.25 L200.5,368.56 L201,368.86 L201.5,369.16 L202,369.45 L202.5,369.74 L203,370.01 L203.5,370.27 L204,370.52 L204.5,370.75 L205,370.97 L205.5,371.15 L206,371.32 L206.5,371.46 L207,371.57 L207.5,371.64 L208,371.68 L208.5,371.71 L209,371.73 L209.5,371.76 L210,371.78 L210.5,371.8 L211,371.83 L211.5,371.85 L212,371.87 L212.5,371.89 L213,371.91 L213.5,371.93 L214,371.94 L214.5,371.96 L215,371.97 L215.5,371.98 L216,371.99 L216.5,372 L217,372.01 L217.5,372.01 L218,372.01 L218.5,371.98 L219,371.94 L219.5,371.87 L220,371.78 L220.5,371.67 L221,371.55 L221.5,371.42 L222,371.28 L222.5,371.13 L223,370.97 L223.5,370.81 L224,370.65 L224.5,370.49 L225,370.33 L225.5,370.17 L226,370 L226.5,369.81 L227,369.62 L227.5,369.42 L228,369.2 L228.5,368.98 L229,368.74 L229.5,368.5 L230,368.25 L230.5,367.99 L231,367.72 L231.5,367.45 L232,367.17 L232.5,366.88 L233,366.59 L233.5,366.29 L233.5,368.61 L233,369.03 L232.5,369.45 L232,369.86 L231.5,370.27 L231,370.68 L230.5,371.08 L230,371.47 L229.5,371.85 L229,372.23 L228.5,372.6 L228,372.95 L227.5,373.3 L227,373.64 L226.5,373.96 L226,374.27 L225.5,374.57 L225,374.86 L224.5,375.12 L224,375.38 L223.5,375.62 L223,375.86 L222.5,376.09 L222,376.31 L221.5,376.53 L221,376.75 L220.5,376.95 L220,377.16 L219.5,377.36 L219,377.55 L218.5,377.74 L218,377.93 L217.5,378.11 L217,378.29 L216.5,378.47 L216,378.64 L215.5,378.81 L215,378.98 L214.5,379.14 L214,379.3 L213.5,379.46 L213,379.62 L212.5,379.78 L212,379.93 L211.5,380.09 L211,380.24 L210.5,380.39 L210,380.55 L209.5,380.7 L209,380.85 L208.5,381 L208,381.15 L207.5,381.3 L207,381.45 L206.5,381.58 L206,381.71 L205.5,381.84 L205,381.96 L204.5,382.07 L204,382.19 L203.5,382.3 L203,382.41 L202.5,382.51 L202,382.62 L201.5,382.72 L201,382.82 L200.5,382.93 L200,383.04 L199.5,383.14 L199,383.25 L198.5,383.36 L198,383.48 L197.5,383.6 L197,383.72 L196.5,383.85 L196,383.99 L195.5,384.13 L195,384.27 L194.5,384.43 L194,384.59 L193.5,384.75 L193,384.93 L192.5,385.11 L192,385.3 L191.5,385.51 L191,385.74 L190.5,386.01 L190,386.32 L189.5,386.67 L189,387.07 L188.5,387.5 L188,387.98 L187.5,388.52 L187,389.11 L186.5,389.76 L186,390.46 L185.5,391.2 L185,392 L184.5,392.9 L184,394.01 L183.5,395.33 L183,396.84 L182.5,398.51 L182,400.31 L181.5,402.35 L181,404.78 L180.5,407.48 L180,410.29 L179.5,413.04 L179,415.83 L178.5,418.87 L178,421.7 L177.5,423.82 L177,425.25 L176.5,426.42 L176,427.4 L175.5,428.1 L175,428.45 L174.5,428.5 L174,428.39 L173.5,428.12 L173,427.71 L172.5,427.17 L172,426.51 L171.5,425.78 L171,424.97 L170.5,424.13 L170,423.28 L169.5,422.44 L169,421.63 L168.5,420.88 L168,420.2 L167.5,419.61 L167,419.1 L166.5,418.64 L166,418.18 L165.5,417.72 L165,417.26 L164.5,416.8 L164,416.35 L163.5,415.91 L163,415.49 L162.5,415.08 L162,414.7 L161.5,414.34 L161,414.01 L160.5,413.7 L160,413.41 L159.5,413.16 L159,412.94 L158.5,412.76 L158,412.63 L157.5,412.52 L157,412.42 L156.5,412.34 L156,412.28 L155.5,412.24 L155,412.22 L154.5,412.21 L154,412.2 L153.5,412.19 L153,412.19 L152.5,412.18 L152,412.18 L151.5,412.17 L151,412.17 L150.5,412.16 L150,412.15 L149.5,412.14 L149,412.12 L148.5,412.11 L148,412.09 L147.5,412.06 L147,412.04 L146.5,412.02 L146,412 L145.5,411.98 L145,411.96 L144.5,411.94 L144,411.93 L143.5,411.92 L143,411.92 L142.5,411.92 L142,411.93 L141.5,411.94 L141,411.94 L140.5,411.95 L140,411.96 L139.5,411.98 L139,411.99 L138.5,412.01 L138,412.05 L137.5,412.1 L137,412.15 L136.5,412.22 L136,412.3 L135.5,412.4 L135,412.51 L134.5,412.63 L134,412.76 L133.5,412.91 L133,413.07 L132.5,413.25 L132,413.43 L131.5,413.62 L131,413.82 L130.5,414.02 L130,414.25 L129.5,414.53 L129,414.88 L128.5,415.29 L128,415.75 L127.5,416.26 L127,416.82 L126.5,417.4 L126,418.02 L125.5,418.65 L125,419.3 L124.5,419.96 L124,420.62 L123.5,421.27 L123,421.91 L122.5,422.53 L122,423.13 L121.5,423.7 L121,424.27 L120.5,424.88 L120,425.54 L119.5,426.23 L119,426.95 L118.5,427.67 L118,428.41 L117.5,429.13 L117,429.84 L116.5,430.52 L116,431.17 L115.5,431.77 L115,432.32 L114.5,432.8 L114,433.2 L113.5,433.52 L113,433.75 L112.5,433.87 L112,433.9 L111.5,433.87 L111,433.78 L110.5,433.63 L110,433.43 L109.5,433.17 L109,432.86 L108.5,432.49 L108,432.06 L107.5,431.58 L107,431.04 L106.5,430.44 L106,429.79 L105.5,429.08 L105,428.31 L104.5,427.49 L104,426.61 L103.5,425.67 L103,424.68 L102.5,423.62 L102,422.52 L101.5,421.35 Z" fill="none" stroke="#f0d24a" stroke-width="1.6" stroke-linejoin="round"/>
<path d="M101.5,419.35 L102,419.11 L102.5,418.86 L103,418.61 L103.5,418.35 L104,418.08 L104.5,417.81 L105,417.53 L105.5,417.25 L106,416.96 L106.5,416.67 L107,416.37 L107.5,416.07 L108,415.77 L108.5,415.46 L109,415.14 L109.5,414.82 L110,414.5 L110.5,414.16 L111,413.81 L111.5,413.44 L112,413.06 L112.5,412.67 L113,412.27 L113.5,411.87 L114,411.47 L114.5,411.08 L115,410.69 L115.5,410.32 L116,409.96 L116.5,409.62 L117,409.3 L117.5,409 L118,408.69 L118.5,408.39 L119,408.09 L119.5,407.8 L120,407.5 L120.5,407.21 L121,406.93 L121.5,406.65 L122,406.37 L122.5,406.09 L123,405.82 L123.5,405.55 L124,405.29 L124.5,405.03 L125,404.78 L125.5,404.53 L126,404.29 L126.5,404.05 L127,403.82 L127.5,403.59 L128,403.38 L128.5,403.16 L129,402.96 L129.5,402.76 L130,402.57 L130.5,402.38 L131,402.2 L131.5,402.03 L132,401.87 L132.5,401.71 L133,401.56 L133.5,401.4 L134,401.26 L134.5,401.11 L135,400.97 L135.5,400.84 L136,400.7 L136.5,400.57 L137,400.44 L137.5,400.32 L138,400.19 L138.5,400.07 L139,399.96 L139.5,399.84 L140,399.73 L140.5,399.61 L141,399.5 L141.5,399.39 L142,399.28 L142.5,399.18 L143,399.07 L143.5,398.97 L144,398.86 L144.5,398.76 L145,398.66 L145.5,398.55 L146,398.45 L146.5,398.35 L147,398.24 L147.5,398.14 L148,398.04 L148.5,397.93 L149,397.83 L149.5,397.72 L150,397.62 L150.5,397.51 L151,397.4 L151.5,397.29 L152,397.17 L152.5,397.06 L153,396.94 L153.5,396.82 L154,396.71 L154.5,396.59 L155,396.48 L155.5,396.38 L156,396.28 L156.5,396.18 L157,396.08 L157.5,395.99 L158,395.9 L158.5,395.81 L159,395.72 L159.5,395.63 L160,395.54 L160.5,395.45 L161,395.36 L161.5,395.27 L162,395.18 L162.5,395.08 L163,394.98 L163.5,394.88 L164,394.77 L164.5,394.66 L165,394.54 L165.5,394.42 L166,394.29 L166.5,394.16 L167,394.02 L167.5,393.87 L168,393.71 L168.5,393.55 L169,393.38 L169.5,393.19 L170,393 L170.5,392.8 L171,392.59 L171.5,392.35 L172,392.05 L172.5,391.67 L173,391.21 L173.5,390.65 L174,390 L174.5,388.99 L175,387.49 L175.5,385.7 L176,383.8 L176.5,382 L177,380.23 L177.5,378.35 L178,376.46 L178.5,374.65 L179,373 L179.5,371.46 L180,369.95 L180.5,368.51 L181,367.18 L181.5,366 L182,365 L182.5,364.12 L183,363.29 L183.5,362.53 L184,361.87 L184.5,361.35 L185,361 L185.5,360.75 L186,360.52 L186.5,360.34 L187,360.23 L187.5,360.2 L188,360.29 L188.5,360.49 L189,360.77 L189.5,361.12 L190,361.51 L190.5,361.92 L191,362.32 L191.5,362.7 L192,363.08 L192.5,363.49 L193,363.94 L193.5,364.42 L194,364.91 L194.5,365.42 L195,365.94 L195.5,366.46 L196,366.98 L196.5,367.48 L197,367.98 L197.5,368.44 L198,368.89 L198.5,369.29 L199,369.66 L199.5,369.99 L200,370.27 L200.5,370.55 L201,370.83 L201.5,371.11 L202,371.38 L202.5,371.65 L203,371.91 L203.5,372.16 L204,372.39 L204.5,372.61 L205,372.8 L205.5,372.97 L206,373.12 L206.5,373.24 L207,373.33 L207.5,373.38 L208,373.4 L208.5,373.4 L209,373.4 L209.5,373.4 L210,373.4 L210.5,373.4 L211,373.4 L211.5,373.4 L212,373.4 L212.5,373.4 L213,373.4 L213.5,373.4 L214,373.4 L214.5,373.4 L215,373.4 L215.5,373.4 L216,373.4 L216.5,373.4 L217,373.4 L217.5,373.4 L218,373.4 L218.5,373.37 L219,373.32 L219.5,373.24 L220,373.14 L220.5,373.02 L221,372.88 L221.5,372.73 L222,372.57 L222.5,372.4 L223,372.22 L223.5,372.04 L224,371.86 L224.5,371.68 L225,371.5 L225.5,371.32 L226,371.13 L226.5,370.92 L227,370.7 L227.5,370.48 L228,370.24 L228.5,369.99 L229,369.73 L229.5,369.46 L230,369.18 L230.5,368.89 L231,368.6 L231.5,368.29 L232,367.98 L232.5,367.66 L233,367.33 L233.5,367 L233.5,369.3 L233,369.72 L232.5,370.13 L232,370.54 L231.5,370.95 L231,371.35 L230.5,371.74 L230,372.13 L229.5,372.51 L229,372.88 L228.5,373.24 L228,373.6 L227.5,373.94 L227,374.28 L226.5,374.6 L226,374.9 L225.5,375.2 L225,375.48 L224.5,375.75 L224,376 L223.5,376.24 L223,376.47 L222.5,376.7 L222,376.93 L221.5,377.14 L221,377.36 L220.5,377.56 L220,377.77 L219.5,377.96 L219,378.16 L218.5,378.35 L218,378.53 L217.5,378.71 L217,378.89 L216.5,379.07 L216,379.24 L215.5,379.41 L215,379.57 L214.5,379.73 L214,379.89 L213.5,380.05 L213,380.21 L212.5,380.36 L212,380.52 L211.5,380.67 L211,380.82 L210.5,380.96 L210,381.11 L209.5,381.26 L209,381.41 L208.5,381.55 L208,381.7 L207.5,381.84 L207,381.98 L206.5,382.1 L206,382.23 L205.5,382.34 L205,382.45 L204.5,382.56 L204,382.66 L203.5,382.76 L203,382.85 L202.5,382.95 L202,383.04 L201.5,383.13 L201,383.22 L200.5,383.32 L200,383.41 L199.5,383.5 L199,383.6 L198.5,383.7 L198,383.81 L197.5,383.92 L197,384.03 L196.5,384.15 L196,384.28 L195.5,384.41 L195,384.55 L194.5,384.7 L194,384.86 L193.5,385.02 L193,385.2 L192.5,385.39 L192,385.59 L191.5,385.8 L191,386.04 L190.5,386.32 L190,386.65 L189.5,387.02 L189,387.44 L188.5,387.9 L188,388.4 L187.5,388.94 L187,389.52 L186.5,390.14 L186,390.8 L185.5,391.51 L185,392.25 L184.5,393.09 L184,394.16 L183.5,395.42 L183,396.84 L182.5,398.38 L182,400 L181.5,401.84 L181,403.99 L180.5,406.33 L180,408.74 L179.5,411.1 L179,413.42 L178.5,415.96 L178,418.31 L177.5,420 L177,421.19 L176.5,422.28 L176,423.17 L175.5,423.78 L175,424 L174.5,423.92 L174,423.68 L173.5,423.3 L173,422.81 L172.5,422.21 L172,421.54 L171.5,420.8 L171,420.02 L170.5,419.22 L170,418.41 L169.5,417.62 L169,416.85 L168.5,416.14 L168,415.5 L167.5,414.95 L167,414.5 L166.5,414.11 L166,413.71 L165.5,413.32 L165,412.92 L164.5,412.53 L164,412.15 L163.5,411.78 L163,411.42 L162.5,411.08 L162,410.77 L161.5,410.48 L161,410.23 L160.5,410 L160,409.82 L159.5,409.67 L159,409.57 L158.5,409.51 L158,409.5 L157.5,409.5 L157,409.5 L156.5,409.5 L156,409.5 L155.5,409.5 L155,409.5 L154.5,409.5 L154,409.5 L153.5,409.5 L153,409.5 L152.5,409.5 L152,409.5 L151.5,409.5 L151,409.5 L150.5,409.5 L150,409.5 L149.5,409.5 L149,409.5 L148.5,409.51 L148,409.52 L147.5,409.53 L147,409.55 L146.5,409.58 L146,409.6 L145.5,409.63 L145,409.66 L144.5,409.7 L144,409.74 L143.5,409.78 L143,409.82 L142.5,409.87 L142,409.91 L141.5,409.96 L141,410.01 L140.5,410.07 L140,410.12 L139.5,410.18 L139,410.24 L138.5,410.3 L138,410.38 L137.5,410.48 L137,410.58 L136.5,410.69 L136,410.81 L135.5,410.95 L135,411.09 L134.5,411.24 L134,411.41 L133.5,411.58 L133,411.77 L132.5,411.97 L132,412.17 L131.5,412.39 L131,412.62 L130.5,412.85 L130,413.11 L129.5,413.43 L129,413.83 L128.5,414.3 L128,414.82 L127.5,415.41 L127,416.04 L126.5,416.71 L126,417.4 L125.5,418.13 L125,418.87 L124.5,419.62 L124,420.37 L123.5,421.11 L123,421.84 L122.5,422.55 L122,423.23 L121.5,423.88 L121,424.51 L120.5,425.2 L120,425.94 L119.5,426.71 L119,427.5 L118.5,428.3 L118,429.11 L117.5,429.91 L117,430.68 L116.5,431.43 L116,432.13 L115.5,432.77 L115,433.35 L114.5,433.86 L114,434.28 L113.5,434.6 L113,434.81 L112.5,434.9 L112,434.88 L111.5,434.79 L111,434.64 L110.5,434.42 L110,434.13 L109.5,433.78 L109,433.36 L108.5,432.87 L108,432.31 L107.5,431.69 L107,431.01 L106.5,430.25 L106,429.43 L105.5,428.54 L105,427.58 L104.5,426.56 L104,425.47 L103.5,424.31 L103,423.09 L102.5,421.79 L102,420.44 L101.5,419.01 Z" fill="none" stroke="#39472c" stroke-width="1.4" stroke-linejoin="round"/>
<rect x="68.7" y="291" width="197.7" height="197" fill="none" stroke="#2a2a2a" stroke-width="1.9" stroke-linejoin="round"/>
<line x1="68.7" y1="304.4" x2="73.7" y2="304.4" stroke="#2a2a2a" stroke-width="1.3" />
<line x1="68.7" y1="332.7" x2="73.7" y2="332.7" stroke="#2a2a2a" stroke-width="1.3" />
<line x1="68.7" y1="361" x2="73.7" y2="361" stroke="#2a2a2a" stroke-width="1.3" />
<line x1="68.7" y1="389.3" x2="73.7" y2="389.3" stroke="#2a2a2a" stroke-width="1.3" />
<line x1="68.7" y1="417.6" x2="73.7" y2="417.6" stroke="#2a2a2a" stroke-width="1.3" />
<line x1="68.7" y1="445.9" x2="73.7" y2="445.9" stroke="#2a2a2a" stroke-width="1.3" />
<line x1="68.7" y1="474.2" x2="73.7" y2="474.2" stroke="#2a2a2a" stroke-width="1.3" />
<line x1="68.7" y1="318.55" x2="72.2" y2="318.55" stroke="#2a2a2a" stroke-width="1.3" />
<line x1="68.7" y1="346.85" x2="72.2" y2="346.85" stroke="#2a2a2a" stroke-width="1.3" />
<line x1="68.7" y1="375.15" x2="72.2" y2="375.15" stroke="#2a2a2a" stroke-width="1.3" />
<line x1="68.7" y1="403.45" x2="72.2" y2="403.45" stroke="#2a2a2a" stroke-width="1.3" />
<line x1="68.7" y1="431.75" x2="72.2" y2="431.75" stroke="#2a2a2a" stroke-width="1.3" />
<line x1="68.7" y1="460.05" x2="72.2" y2="460.05" stroke="#2a2a2a" stroke-width="1.3" />
<line x1="84.6" y1="488" x2="84.6" y2="483" stroke="#2a2a2a" stroke-width="1.3" />
<line x1="125.77" y1="488" x2="125.77" y2="483" stroke="#2a2a2a" stroke-width="1.3" />
<line x1="166.95" y1="488" x2="166.95" y2="483" stroke="#2a2a2a" stroke-width="1.3" />
<line x1="208.12" y1="488" x2="208.12" y2="483" stroke="#2a2a2a" stroke-width="1.3" />
<line x1="249.3" y1="488" x2="249.3" y2="483" stroke="#2a2a2a" stroke-width="1.3" />
<line x1="105.19" y1="488" x2="105.19" y2="484.5" stroke="#2a2a2a" stroke-width="1.3" />
<line x1="146.36" y1="488" x2="146.36" y2="484.5" stroke="#2a2a2a" stroke-width="1.3" />
<line x1="187.54" y1="488" x2="187.54" y2="484.5" stroke="#2a2a2a" stroke-width="1.3" />
<line x1="228.71" y1="488" x2="228.71" y2="484.5" stroke="#2a2a2a" stroke-width="1.3" />
<text transform="translate(60.1,311.5) scale(1,1.05)" font-size="19.5" font-weight="normal" text-anchor="end" >30</text>
<text transform="translate(60.1,339.8) scale(1,1.05)" font-size="19.5" font-weight="normal" text-anchor="end" >20</text>
<text transform="translate(60.1,368.1) scale(1,1.05)" font-size="19.5" font-weight="normal" text-anchor="end" >10</text>
<text transform="translate(60.1,396.4) scale(1,1.05)" font-size="19.5" font-weight="normal" text-anchor="end" >0</text>
<text transform="translate(60.1,424.7) scale(1,1.05)" font-size="19.5" font-weight="normal" text-anchor="end" >−10</text>
<text transform="translate(60.1,453) scale(1,1.05)" font-size="19.5" font-weight="normal" text-anchor="end" >−20</text>
<text transform="translate(60.1,481.3) scale(1,1.05)" font-size="19.5" font-weight="normal" text-anchor="end" >−30</text>
<text transform="translate(84.6,512) scale(1,1.05)" font-size="19.5" font-weight="normal" text-anchor="middle" >−1</text>
<text transform="translate(125.77,512) scale(1,1.05)" font-size="19.5" font-weight="normal" text-anchor="middle" >−0.5</text>
<text transform="translate(166.95,512) scale(1,1.05)" font-size="19.5" font-weight="normal" text-anchor="middle" >0</text>
<text transform="translate(208.12,512) scale(1,1.05)" font-size="19.5" font-weight="normal" text-anchor="middle" >0.5</text>
<text transform="translate(249.3,512) scale(1,1.05)" font-size="19.5" font-weight="normal" text-anchor="middle" >1</text>
<text x="1" y="299.8" font-size="23.5" font-weight="bold" text-anchor="start" >(c)</text>
<text transform="translate(167.3,539.5) scale(1,1.07)" font-size="22.3" font-weight="bold" text-anchor="middle" >Potential (V)</text>
<text transform="translate(20.3,389.3) rotate(-90) scale(1,1.07)" font-size="22.5" font-weight="bold" text-anchor="middle">Current (μA)</text>
<text transform="translate(92.2,330.5) scale(1,1.06)" font-size="19.5" font-weight="bold" text-anchor="start" >MIP</text>
<text x="155.6" y="311.3" font-size="16.5" font-weight="bold" text-anchor="start" >0 (μM)</text>
<text x="147.2" y="386.8" font-size="16.3" font-weight="bold" text-anchor="start" >500</text>
<line x1="159.3" y1="318" x2="159.3" y2="362" stroke="#111" stroke-width="1.5" stroke-dasharray="7,4"/>
<path d="M156.6,360.5 L162,360.5 L159.3,370.5 Z" fill="#111"/>
<line x1="367.3" y1="8.5" x2="367.3" y2="205.7" stroke="#e6efe8" stroke-width="1" />
<line x1="400.35" y1="8.5" x2="400.35" y2="205.7" stroke="#e6efe8" stroke-width="1" />
<line x1="433.4" y1="8.5" x2="433.4" y2="205.7" stroke="#e6efe8" stroke-width="1" />
<line x1="466.45" y1="8.5" x2="466.45" y2="205.7" stroke="#e6efe8" stroke-width="1" />
<line x1="499.5" y1="8.5" x2="499.5" y2="205.7" stroke="#e6efe8" stroke-width="1" />
<line x1="532.55" y1="8.5" x2="532.55" y2="205.7" stroke="#e6efe8" stroke-width="1" />
<line x1="351" y1="156.4" x2="549" y2="156.4" stroke="#e6efe8" stroke-width="1" />
<line x1="351" y1="107.1" x2="549" y2="107.1" stroke="#e6efe8" stroke-width="1" />
<line x1="351" y1="57.8" x2="549" y2="57.8" stroke="#e6efe8" stroke-width="1" />
<line x1="351" y1="8.5" x2="356" y2="8.5" stroke="#2a2a2a" stroke-width="1.3" />
<line x1="351" y1="57.8" x2="356" y2="57.8" stroke="#2a2a2a" stroke-width="1.3" />
<line x1="351" y1="107.1" x2="356" y2="107.1" stroke="#2a2a2a" stroke-width="1.3" />
<line x1="351" y1="156.4" x2="356" y2="156.4" stroke="#2a2a2a" stroke-width="1.3" />
<line x1="351" y1="205.7" x2="356" y2="205.7" stroke="#2a2a2a" stroke-width="1.3" />
<line x1="351" y1="33.15" x2="354.5" y2="33.15" stroke="#2a2a2a" stroke-width="1.3" />
<line x1="351" y1="82.45" x2="354.5" y2="82.45" stroke="#2a2a2a" stroke-width="1.3" />
<line x1="351" y1="131.75" x2="354.5" y2="131.75" stroke="#2a2a2a" stroke-width="1.3" />
<line x1="351" y1="181.05" x2="354.5" y2="181.05" stroke="#2a2a2a" stroke-width="1.3" />
<line x1="367.3" y1="205.7" x2="367.3" y2="200.7" stroke="#2a2a2a" stroke-width="1.3" />
<line x1="400.35" y1="205.7" x2="400.35" y2="200.7" stroke="#2a2a2a" stroke-width="1.3" />
<line x1="433.4" y1="205.7" x2="433.4" y2="200.7" stroke="#2a2a2a" stroke-width="1.3" />
<line x1="466.45" y1="205.7" x2="466.45" y2="200.7" stroke="#2a2a2a" stroke-width="1.3" />
<line x1="499.5" y1="205.7" x2="499.5" y2="200.7" stroke="#2a2a2a" stroke-width="1.3" />
<line x1="532.55" y1="205.7" x2="532.55" y2="200.7" stroke="#2a2a2a" stroke-width="1.3" />
<line x1="383.82" y1="205.7" x2="383.82" y2="202.2" stroke="#2a2a2a" stroke-width="1.3" />
<line x1="416.88" y1="205.7" x2="416.88" y2="202.2" stroke="#2a2a2a" stroke-width="1.3" />
<line x1="449.93" y1="205.7" x2="449.93" y2="202.2" stroke="#2a2a2a" stroke-width="1.3" />
<line x1="482.98" y1="205.7" x2="482.98" y2="202.2" stroke="#2a2a2a" stroke-width="1.3" />
<line x1="516.02" y1="205.7" x2="516.02" y2="202.2" stroke="#2a2a2a" stroke-width="1.3" />
<text transform="translate(342.4,15.6) scale(1,1.05)" font-size="19.5" font-weight="normal" text-anchor="end" >40</text>
<text transform="translate(342.4,64.9) scale(1,1.05)" font-size="19.5" font-weight="normal" text-anchor="end" >30</text>
<text transform="translate(342.4,114.2) scale(1,1.05)" font-size="19.5" font-weight="normal" text-anchor="end" >20</text>
<text transform="translate(342.4,163.5) scale(1,1.05)" font-size="19.5" font-weight="normal" text-anchor="end" >10</text>
<text transform="translate(342.4,212.8) scale(1,1.05)" font-size="19.5" font-weight="normal" text-anchor="end" >0</text>
<text transform="translate(367.3,229.3) scale(1,1.05)" font-size="19.5" font-weight="normal" text-anchor="middle" >0</text>
<text transform="translate(400.35,229.3) scale(1,1.05)" font-size="19.5" font-weight="normal" text-anchor="middle" >100</text>
<text transform="translate(433.4,229.3) scale(1,1.05)" font-size="19.5" font-weight="normal" text-anchor="middle" >200</text>
<text transform="translate(466.45,229.3) scale(1,1.05)" font-size="19.5" font-weight="normal" text-anchor="middle" >300</text>
<text transform="translate(499.5,229.3) scale(1,1.05)" font-size="19.5" font-weight="normal" text-anchor="middle" >400</text>
<text transform="translate(532.55,229.3) scale(1,1.05)" font-size="19.5" font-weight="normal" text-anchor="middle" >500</text>
<path d="M389.4,164.1 L389.9,163.81 L390.4,163.5 L390.9,163.17 L391.4,162.83 L391.9,162.48 L392.4,162.11 L392.9,161.73 L393.4,161.34 L393.9,160.93 L394.4,160.51 L394.9,160.09 L395.4,159.65 L395.9,159.2 L396.4,158.74 L396.9,158.26 L397.4,157.76 L397.9,157.25 L398.4,156.71 L398.9,156.16 L399.4,155.58 L399.9,154.98 L400.4,154.35 L400.9,153.7 L401.4,153 L401.9,152.24 L402.4,151.42 L402.9,150.55 L403.4,149.64 L403.9,148.69 L404.4,147.73 L404.9,146.75 L405.4,145.73 L405.9,144.62 L406.4,143.4 L406.9,142.02 L407.4,140.42 L407.9,138.43 L408.4,136.07 L408.9,133.43 L409.4,130.59 L409.9,127.43 L410.4,123.75 L410.9,119.84 L411.4,116 L411.9,112.17 L412.4,108.18 L412.9,104.16 L413.4,100.29 L413.9,96.71 L414.4,93.56 L414.9,90.81 L415.4,88.2 L415.9,85.94 L416.4,84.25 L416.9,83.08 L417.4,82.05 L417.9,81.27 L418.4,80.83 L418.9,80.71 L419.4,80.62 L419.9,80.55 L420.4,80.51 L420.9,80.5 L421.4,80.58 L421.9,80.74 L422.4,80.98 L422.9,81.26 L423.4,81.57 L423.9,81.89 L424.4,82.19 L424.9,82.45 L425.4,82.69 L425.9,82.94 L426.4,83.19 L426.9,83.45 L427.4,83.72 L427.9,83.98 L428.4,84.24 L428.9,84.49 L429.4,84.73 L429.9,84.96 L430.4,85.16 L430.9,85.34 L431.4,85.5 L431.9,85.62 L432.4,85.72 L432.9,85.79 L433.4,85.86 L433.9,85.92 L434.4,85.97 L434.9,86.02 L435.4,86.06 L435.9,86.1 L436.4,86.14 L436.9,86.17 L437.4,86.2 L437.9,86.23 L438.4,86.27 L438.9,86.3 L439.4,86.33 L439.9,86.37 L440.4,86.42 L440.9,86.46 L441.4,86.52 L441.9,86.57 L442.4,86.64 L442.9,86.72 L443.4,86.81 L443.9,86.93 L444.4,87.07 L444.9,87.23 L445.4,87.41 L445.9,87.61 L446.4,87.82 L446.9,88.04 L447.4,88.26 L447.9,88.5 L448.4,88.74 L448.9,88.99 L449.4,89.23 L449.9,89.48 L450.4,89.72 L450.9,89.95 L451.4,90.18 L451.9,90.4 L452.4,90.6 L452.9,90.79 L453.4,90.97 L453.9,91.14 L454.4,91.31 L454.9,91.49 L455.4,91.66 L455.9,91.83 L456.4,91.99 L456.9,92.16 L457.4,92.32 L457.9,92.48 L458.4,92.64 L458.9,92.79 L459.4,92.95 L459.9,93.1 L460.4,93.24 L460.9,93.38 L461.4,93.52 L461.9,93.65 L462.4,93.78 L462.9,93.91 L463.4,94.03 L463.9,94.15 L464.4,94.26 L464.9,94.38 L465.4,94.5 L465.9,94.62 L466.4,94.74 L466.9,94.85 L467.4,94.95 L467.9,95.04 L468.4,95.13 L468.9,95.2 L469.4,95.25 L469.9,95.29 L470.4,95.32 L470.9,95.35 L471.4,95.37 L471.9,95.4 L472.4,95.42 L472.9,95.44 L473.4,95.45 L473.9,95.47 L474.4,95.48 L474.9,95.49 L475.4,95.5 L475.9,95.5 L476.4,95.5 L476.9,95.45 L477.4,95.35 L477.9,95.21 L478.4,95.04 L478.9,94.83 L479.4,94.6 L479.9,94.36 L480.4,94.1 L480.9,93.83 L481.4,93.56 L481.9,93.3 L482.4,93.05 L482.9,92.8 L483.4,92.55 L483.9,92.28 L484.4,92 L484.9,91.7 L485.4,91.4 L485.9,91.09 L486.4,90.77 L486.9,90.44 L487.4,90.1" fill="none" stroke="#3a5ca0" stroke-width="1.0"/>
<path d="M389.4,158.11 L389.9,157.88 L390.4,157.64 L390.9,157.39 L391.4,157.12 L391.9,156.84 L392.4,156.55 L392.9,156.25 L393.4,155.93 L393.9,155.61 L394.4,155.28 L394.9,154.94 L395.4,154.6 L395.9,154.24 L396.4,153.87 L396.9,153.48 L397.4,153.08 L397.9,152.67 L398.4,152.24 L398.9,151.8 L399.4,151.34 L399.9,150.86 L400.4,150.36 L400.9,149.85 L401.4,149.3 L401.9,148.71 L402.4,148.07 L402.9,147.41 L403.4,146.71 L403.9,145.98 L404.4,145.25 L404.9,144.51 L405.4,143.74 L405.9,142.9 L406.4,141.98 L406.9,140.94 L407.4,139.72 L407.9,138.19 L408.4,136.36 L408.9,134.3 L409.4,132.09 L409.9,129.67 L410.4,126.95 L410.9,124.11 L411.4,121.33 L411.9,118.55 L412.4,115.66 L412.9,112.76 L413.4,109.93 L413.9,107.28 L414.4,104.89 L414.9,102.73 L415.4,100.67 L415.9,98.81 L416.4,97.23 L416.9,95.94 L417.4,94.78 L417.9,93.85 L418.4,93.25 L418.9,92.95 L419.4,92.69 L419.9,92.46 L420.4,92.28 L420.9,92.16 L421.4,92.13 L421.9,92.21 L422.4,92.38 L422.9,92.63 L423.4,92.92 L423.9,93.23 L424.4,93.53 L424.9,93.8 L425.4,94.03 L425.9,94.23 L426.4,94.4 L426.9,94.57 L427.4,94.75 L427.9,94.92 L428.4,95.08 L428.9,95.24 L429.4,95.39 L429.9,95.53 L430.4,95.66 L430.9,95.77 L431.4,95.87 L431.9,95.95 L432.4,96 L432.9,96.01 L433.4,95.99 L433.9,95.92 L434.4,95.82 L434.9,95.7 L435.4,95.55 L435.9,95.38 L436.4,95.2 L436.9,95.02 L437.4,94.83 L437.9,94.64 L438.4,94.47 L438.9,94.3 L439.4,94.16 L439.9,94.04 L440.4,93.93 L440.9,93.82 L441.4,93.72 L441.9,93.61 L442.4,93.5 L442.9,93.4 L443.4,93.32 L443.9,93.25 L444.4,93.2 L444.9,93.17 L445.4,93.16 L445.9,93.16 L446.4,93.19 L446.9,93.23 L447.4,93.3 L447.9,93.39 L448.4,93.5 L448.9,93.63 L449.4,93.77 L449.9,93.93 L450.4,94.1 L450.9,94.27 L451.4,94.44 L451.9,94.62 L452.4,94.79 L452.9,94.97 L453.4,95.13 L453.9,95.3 L454.4,95.47 L454.9,95.63 L455.4,95.8 L455.9,95.97 L456.4,96.13 L456.9,96.28 L457.4,96.43 L457.9,96.58 L458.4,96.72 L458.9,96.86 L459.4,97 L459.9,97.14 L460.4,97.28 L460.9,97.42 L461.4,97.56 L461.9,97.69 L462.4,97.82 L462.9,97.95 L463.4,98.07 L463.9,98.19 L464.4,98.3 L464.9,98.41 L465.4,98.52 L465.9,98.62 L466.4,98.71 L466.9,98.79 L467.4,98.86 L467.9,98.92 L468.4,98.97 L468.9,99.01 L469.4,99.04 L469.9,99.05 L470.4,99.06 L470.9,99.07 L471.4,99.07 L471.9,99.07 L472.4,99.07 L472.9,99.07 L473.4,99.06 L473.9,99.05 L474.4,99.04 L474.9,99.03 L475.4,99.01 L475.9,98.99 L476.4,98.96 L476.9,98.88 L477.4,98.75 L477.9,98.58 L478.4,98.37 L478.9,98.14 L479.4,97.88 L479.9,97.61 L480.4,97.33 L480.9,97.04 L481.4,96.76 L481.9,96.48 L482.4,96.21 L482.9,95.95 L483.4,95.67 L483.9,95.38 L484.4,95.08 L484.9,94.77 L485.4,94.46 L485.9,94.13 L486.4,93.8 L486.9,93.45 L487.4,93.11" fill="none" stroke="#d8503a" stroke-width="1.0"/>
<path d="M389.4,156.8 L389.9,156.58 L390.4,156.36 L390.9,156.12 L391.4,155.86 L391.9,155.6 L392.4,155.33 L392.9,155.04 L393.4,154.75 L393.9,154.44 L394.4,154.13 L394.9,153.81 L395.4,153.49 L395.9,153.15 L396.4,152.8 L396.9,152.43 L397.4,152.05 L397.9,151.66 L398.4,151.26 L398.9,150.84 L399.4,150.4 L399.9,149.95 L400.4,149.48 L400.9,149 L401.4,148.49 L401.9,147.93 L402.4,147.34 L402.9,146.72 L403.4,146.07 L403.9,145.39 L404.4,144.7 L404.9,144.01 L405.4,143.3 L405.9,142.53 L406.4,141.67 L406.9,140.7 L407.4,139.57 L407.9,138.13 L408.4,136.42 L408.9,134.49 L409.4,132.42 L409.9,130.16 L410.4,127.65 L410.9,125.04 L411.4,122.5 L411.9,119.95 L412.4,117.31 L412.9,114.65 L413.4,112.05 L413.9,109.6 L414.4,107.37 L414.9,105.34 L415.4,103.4 L415.9,101.63 L416.4,100.08 L416.9,98.77 L417.4,97.58 L417.9,96.61 L418.4,95.98 L418.9,95.64 L419.4,95.34 L419.9,95.07 L420.4,94.86 L420.9,94.71 L421.4,94.66 L421.9,94.72 L422.4,94.88 L422.9,95.12 L423.4,95.41 L423.9,95.72 L424.4,96.02 L424.9,96.3 L425.4,96.52 L425.9,96.71 L426.4,96.86 L426.9,97.02 L427.4,97.17 L427.9,97.32 L428.4,97.46 L428.9,97.6 L429.4,97.73 L429.9,97.86 L430.4,97.97 L430.9,98.06 L431.4,98.15 L431.9,98.21 L432.4,98.26 L432.9,98.26 L433.4,98.21 L433.9,98.12 L434.4,97.99 L434.9,97.82 L435.4,97.63 L435.9,97.42 L436.4,97.19 L436.9,96.96 L437.4,96.72 L437.9,96.49 L438.4,96.27 L438.9,96.06 L439.4,95.88 L439.9,95.72 L440.4,95.58 L440.9,95.44 L441.4,95.3 L441.9,95.15 L442.4,95.01 L442.9,94.87 L443.4,94.74 L443.9,94.64 L444.4,94.54 L444.9,94.47 L445.4,94.42 L445.9,94.38 L446.4,94.37 L446.9,94.38 L447.4,94.41 L447.9,94.46 L448.4,94.54 L448.9,94.64 L449.4,94.77 L449.9,94.91 L450.4,95.06 L450.9,95.22 L451.4,95.38 L451.9,95.55 L452.4,95.71 L452.9,95.88 L453.4,96.04 L453.9,96.21 L454.4,96.38 L454.9,96.54 L455.4,96.71 L455.9,96.87 L456.4,97.03 L456.9,97.19 L457.4,97.34 L457.9,97.48 L458.4,97.61 L458.9,97.75 L459.4,97.89 L459.9,98.03 L460.4,98.17 L460.9,98.31 L461.4,98.45 L461.9,98.58 L462.4,98.71 L462.9,98.84 L463.4,98.96 L463.9,99.07 L464.4,99.18 L464.9,99.29 L465.4,99.4 L465.9,99.49 L466.4,99.58 L466.9,99.66 L467.4,99.72 L467.9,99.77 L468.4,99.81 L468.9,99.84 L469.4,99.87 L469.9,99.88 L470.4,99.88 L470.9,99.89 L471.4,99.89 L471.9,99.88 L472.4,99.88 L472.9,99.87 L473.4,99.86 L473.9,99.84 L474.4,99.82 L474.9,99.8 L475.4,99.78 L475.9,99.76 L476.4,99.72 L476.9,99.63 L477.4,99.49 L477.9,99.32 L478.4,99.11 L478.9,98.87 L479.4,98.61 L479.9,98.33 L480.4,98.04 L480.9,97.75 L481.4,97.46 L481.9,97.18 L482.4,96.91 L482.9,96.64 L483.4,96.35 L483.9,96.06 L484.4,95.76 L484.9,95.45 L485.4,95.13 L485.9,94.8 L486.4,94.46 L486.9,94.12 L487.4,93.76" fill="none" stroke="#5aa050" stroke-width="1.0"/>
<path d="M389.4,155.63 L389.9,155.43 L390.4,155.21 L390.9,154.99 L391.4,154.75 L391.9,154.5 L392.4,154.24 L392.9,153.97 L393.4,153.69 L393.9,153.41 L394.4,153.11 L394.9,152.81 L395.4,152.5 L395.9,152.18 L396.4,151.85 L396.9,151.5 L397.4,151.14 L397.9,150.77 L398.4,150.39 L398.9,149.99 L399.4,149.57 L399.9,149.15 L400.4,148.71 L400.9,148.25 L401.4,147.76 L401.9,147.24 L402.4,146.69 L402.9,146.1 L403.4,145.49 L403.9,144.86 L404.4,144.22 L404.9,143.58 L405.4,142.91 L405.9,142.19 L406.4,141.39 L406.9,140.49 L407.4,139.43 L407.9,138.09 L408.4,136.48 L408.9,134.66 L409.4,132.71 L409.9,130.6 L410.4,128.27 L410.9,125.88 L411.4,123.54 L411.9,121.19 L412.4,118.77 L412.9,116.32 L413.4,113.93 L413.9,111.66 L414.4,109.58 L414.9,107.67 L415.4,105.83 L415.9,104.14 L416.4,102.61 L416.9,101.28 L417.4,100.06 L417.9,99.06 L418.4,98.4 L418.9,98.03 L419.4,97.69 L419.9,97.4 L420.4,97.16 L420.9,96.99 L421.4,96.92 L421.9,96.96 L422.4,97.11 L422.9,97.34 L423.4,97.62 L423.9,97.93 L424.4,98.24 L424.9,98.51 L425.4,98.74 L425.9,98.92 L426.4,99.05 L426.9,99.19 L427.4,99.32 L427.9,99.45 L428.4,99.58 L428.9,99.7 L429.4,99.81 L429.9,99.92 L430.4,100.01 L430.9,100.1 L431.4,100.17 L431.9,100.23 L432.4,100.26 L432.9,100.25 L433.4,100.19 L433.9,100.07 L434.4,99.91 L434.9,99.71 L435.4,99.48 L435.9,99.23 L436.4,98.96 L436.9,98.69 L437.4,98.41 L437.9,98.13 L438.4,97.87 L438.9,97.62 L439.4,97.4 L439.9,97.21 L440.4,97.05 L440.9,96.88 L441.4,96.7 L441.9,96.52 L442.4,96.35 L442.9,96.18 L443.4,96.01 L443.9,95.87 L444.4,95.74 L444.9,95.63 L445.4,95.54 L445.9,95.46 L446.4,95.42 L446.9,95.39 L447.4,95.39 L447.9,95.41 L448.4,95.47 L448.9,95.55 L449.4,95.66 L449.9,95.78 L450.4,95.91 L450.9,96.06 L451.4,96.21 L451.9,96.37 L452.4,96.53 L452.9,96.7 L453.4,96.86 L453.9,97.02 L454.4,97.19 L454.9,97.35 L455.4,97.52 L455.9,97.68 L456.4,97.84 L456.9,97.99 L457.4,98.14 L457.9,98.28 L458.4,98.41 L458.9,98.55 L459.4,98.68 L459.9,98.82 L460.4,98.96 L460.9,99.1 L461.4,99.23 L461.9,99.37 L462.4,99.5 L462.9,99.62 L463.4,99.74 L463.9,99.86 L464.4,99.97 L464.9,100.08 L465.4,100.18 L465.9,100.27 L466.4,100.35 L466.9,100.42 L467.4,100.48 L467.9,100.53 L468.4,100.56 L468.9,100.59 L469.4,100.61 L469.9,100.61 L470.4,100.61 L470.9,100.61 L471.4,100.61 L471.9,100.6 L472.4,100.59 L472.9,100.58 L473.4,100.56 L473.9,100.54 L474.4,100.52 L474.9,100.49 L475.4,100.47 L475.9,100.44 L476.4,100.39 L476.9,100.3 L477.4,100.16 L477.9,99.97 L478.4,99.76 L478.9,99.51 L479.4,99.25 L479.9,98.96 L480.4,98.67 L480.9,98.37 L481.4,98.08 L481.9,97.8 L482.4,97.53 L482.9,97.25 L483.4,96.96 L483.9,96.67 L484.4,96.36 L484.9,96.05 L485.4,95.72 L485.9,95.39 L486.4,95.05 L486.9,94.7 L487.4,94.35" fill="none" stroke="#9a3040" stroke-width="1.0"/>
<path d="M389.4,153.88 L389.9,153.7 L390.4,153.5 L390.9,153.29 L391.4,153.08 L391.9,152.85 L392.4,152.61 L392.9,152.37 L393.4,152.11 L393.9,151.85 L394.4,151.58 L394.9,151.31 L395.4,151.02 L395.9,150.73 L396.4,150.42 L396.9,150.1 L397.4,149.77 L397.9,149.43 L398.4,149.08 L398.9,148.71 L399.4,148.33 L399.9,147.94 L400.4,147.54 L400.9,147.12 L401.4,146.68 L401.9,146.21 L402.4,145.71 L402.9,145.18 L403.4,144.63 L403.9,144.07 L404.4,143.49 L404.9,142.92 L405.4,142.33 L405.9,141.69 L406.4,140.98 L406.9,140.17 L407.4,139.23 L407.9,138.02 L408.4,136.56 L408.9,134.92 L409.4,133.15 L409.9,131.26 L410.4,129.21 L410.9,127.13 L411.4,125.1 L411.9,123.06 L412.4,120.96 L412.9,118.84 L413.4,116.75 L413.9,114.76 L414.4,112.9 L414.9,111.16 L415.4,109.48 L415.9,107.9 L416.4,106.41 L416.9,105.04 L417.4,103.79 L417.9,102.75 L418.4,102.03 L418.9,101.61 L419.4,101.22 L419.9,100.88 L420.4,100.6 L420.9,100.4 L421.4,100.3 L421.9,100.31 L422.4,100.45 L422.9,100.67 L423.4,100.95 L423.9,101.25 L424.4,101.56 L424.9,101.83 L425.4,102.06 L425.9,102.22 L426.4,102.33 L426.9,102.44 L427.4,102.55 L427.9,102.65 L428.4,102.75 L428.9,102.84 L429.4,102.93 L429.9,103.01 L430.4,103.09 L430.9,103.15 L431.4,103.2 L431.9,103.25 L432.4,103.27 L432.9,103.25 L433.4,103.15 L433.9,103 L434.4,102.79 L434.9,102.54 L435.4,102.26 L435.9,101.95 L436.4,101.62 L436.9,101.28 L437.4,100.93 L437.9,100.59 L438.4,100.27 L438.9,99.97 L439.4,99.69 L439.9,99.46 L440.4,99.25 L440.9,99.03 L441.4,98.81 L441.9,98.58 L442.4,98.36 L442.9,98.13 L443.4,97.92 L443.9,97.72 L444.4,97.53 L444.9,97.37 L445.4,97.22 L445.9,97.09 L446.4,96.99 L446.9,96.91 L447.4,96.86 L447.9,96.84 L448.4,96.86 L448.9,96.91 L449.4,96.99 L449.9,97.08 L450.4,97.2 L450.9,97.32 L451.4,97.46 L451.9,97.61 L452.4,97.76 L452.9,97.92 L453.4,98.07 L453.9,98.24 L454.4,98.4 L454.9,98.57 L455.4,98.73 L455.9,98.89 L456.4,99.05 L456.9,99.2 L457.4,99.35 L457.9,99.48 L458.4,99.61 L458.9,99.74 L459.4,99.87 L459.9,100.01 L460.4,100.14 L460.9,100.28 L461.4,100.42 L461.9,100.55 L462.4,100.68 L462.9,100.81 L463.4,100.93 L463.9,101.04 L464.4,101.15 L464.9,101.26 L465.4,101.35 L465.9,101.44 L466.4,101.51 L466.9,101.58 L467.4,101.63 L467.9,101.66 L468.4,101.69 L468.9,101.7 L469.4,101.71 L469.9,101.71 L470.4,101.71 L470.9,101.7 L471.4,101.69 L471.9,101.68 L472.4,101.66 L472.9,101.64 L473.4,101.62 L473.9,101.59 L474.4,101.56 L474.9,101.53 L475.4,101.5 L475.9,101.46 L476.4,101.4 L476.9,101.3 L477.4,101.15 L477.9,100.96 L478.4,100.73 L478.9,100.48 L479.4,100.21 L479.9,99.92 L480.4,99.62 L480.9,99.32 L481.4,99.02 L481.9,98.73 L482.4,98.45 L482.9,98.17 L483.4,97.88 L483.9,97.58 L484.4,97.27 L484.9,96.95 L485.4,96.62 L485.9,96.28 L486.4,95.94 L486.9,95.59 L487.4,95.23" fill="none" stroke="#90c8e8" stroke-width="1.0"/>
<path d="M389.4,151.69 L389.9,151.53 L390.4,151.36 L390.9,151.18 L391.4,150.98 L391.9,150.78 L392.4,150.58 L392.9,150.36 L393.4,150.14 L393.9,149.91 L394.4,149.67 L394.9,149.42 L395.4,149.17 L395.9,148.91 L396.4,148.64 L396.9,148.35 L397.4,148.06 L397.9,147.76 L398.4,147.44 L398.9,147.11 L399.4,146.78 L399.9,146.43 L400.4,146.08 L400.9,145.71 L401.4,145.33 L401.9,144.92 L402.4,144.49 L402.9,144.03 L403.4,143.56 L403.9,143.07 L404.4,142.58 L404.9,142.1 L405.4,141.6 L405.9,141.06 L406.4,140.46 L406.9,139.78 L407.4,138.97 L407.9,137.93 L408.4,136.66 L408.9,135.24 L409.4,133.7 L409.9,132.08 L410.4,130.38 L410.9,128.69 L411.4,127.05 L411.9,125.4 L412.4,123.7 L412.9,121.98 L413.4,120.28 L413.9,118.62 L414.4,117.04 L414.9,115.52 L415.4,114.04 L415.9,112.61 L416.4,111.15 L416.9,109.75 L417.4,108.45 L417.9,107.35 L418.4,106.58 L418.9,106.09 L419.4,105.64 L419.9,105.24 L420.4,104.91 L420.9,104.66 L421.4,104.52 L421.9,104.51 L422.4,104.62 L422.9,104.83 L423.4,105.1 L423.9,105.4 L424.4,105.71 L424.9,105.99 L425.4,106.21 L425.9,106.36 L426.4,106.43 L426.9,106.51 L427.4,106.58 L427.9,106.65 L428.4,106.72 L428.9,106.78 L429.4,106.83 L429.9,106.88 L430.4,106.93 L430.9,106.97 L431.4,107 L431.9,107.02 L432.4,107.04 L432.9,106.99 L433.4,106.86 L433.9,106.66 L434.4,106.39 L434.9,106.08 L435.4,105.73 L435.9,105.34 L436.4,104.93 L436.9,104.51 L437.4,104.09 L437.9,103.67 L438.4,103.27 L438.9,102.89 L439.4,102.55 L439.9,102.26 L440.4,102 L440.9,101.72 L441.4,101.44 L441.9,101.15 L442.4,100.87 L442.9,100.58 L443.4,100.3 L443.9,100.03 L444.4,99.77 L444.9,99.54 L445.4,99.32 L445.9,99.12 L446.4,98.95 L446.9,98.81 L447.4,98.71 L447.9,98.63 L448.4,98.6 L448.9,98.6 L449.4,98.65 L449.9,98.71 L450.4,98.8 L450.9,98.9 L451.4,99.02 L451.9,99.15 L452.4,99.29 L452.9,99.44 L453.4,99.6 L453.9,99.76 L454.4,99.92 L454.9,100.08 L455.4,100.25 L455.9,100.41 L456.4,100.56 L456.9,100.71 L457.4,100.85 L457.9,100.98 L458.4,101.1 L458.9,101.22 L459.4,101.35 L459.9,101.49 L460.4,101.62 L460.9,101.76 L461.4,101.89 L461.9,102.03 L462.4,102.16 L462.9,102.28 L463.4,102.41 L463.9,102.52 L464.4,102.63 L464.9,102.73 L465.4,102.82 L465.9,102.9 L466.4,102.97 L466.9,103.02 L467.4,103.06 L467.9,103.08 L468.4,103.09 L468.9,103.1 L469.4,103.1 L469.9,103.09 L470.4,103.08 L470.9,103.06 L471.4,103.04 L471.9,103.02 L472.4,103 L472.9,102.97 L473.4,102.94 L473.9,102.9 L474.4,102.87 L474.9,102.82 L475.4,102.78 L475.9,102.73 L476.4,102.67 L476.9,102.55 L477.4,102.39 L477.9,102.19 L478.4,101.95 L478.9,101.69 L479.4,101.41 L479.9,101.11 L480.4,100.8 L480.9,100.49 L481.4,100.19 L481.9,99.89 L482.4,99.61 L482.9,99.32 L483.4,99.02 L483.9,98.71 L484.4,98.39 L484.9,98.07 L485.4,97.73 L485.9,97.39 L486.4,97.04 L486.9,96.69 L487.4,96.33" fill="none" stroke="#e8d040" stroke-width="1.1"/>
<path d="M389.4,149.5 L389.9,149.36 L390.4,149.21 L390.9,149.06 L391.4,148.89 L391.9,148.72 L392.4,148.54 L392.9,148.35 L393.4,148.16 L393.9,147.96 L394.4,147.75 L394.9,147.54 L395.4,147.32 L395.9,147.1 L396.4,146.86 L396.9,146.61 L397.4,146.35 L397.9,146.08 L398.4,145.8 L398.9,145.52 L399.4,145.22 L399.9,144.92 L400.4,144.62 L400.9,144.3 L401.4,143.97 L401.9,143.63 L402.4,143.26 L402.9,142.88 L403.4,142.49 L403.9,142.08 L404.4,141.68 L404.9,141.28 L405.4,140.87 L405.9,140.43 L406.4,139.94 L406.9,139.38 L407.4,138.71 L407.9,137.84 L408.4,136.77 L408.9,135.56 L409.4,134.25 L409.9,132.9 L410.4,131.55 L410.9,130.25 L411.4,129 L411.9,127.73 L412.4,126.44 L412.9,125.13 L413.4,123.81 L413.9,122.49 L414.4,121.18 L414.9,119.88 L415.4,118.6 L415.9,117.31 L416.4,115.9 L416.9,114.46 L417.4,113.1 L417.9,111.95 L418.4,111.12 L418.9,110.57 L419.4,110.06 L419.9,109.6 L420.4,109.22 L420.9,108.92 L421.4,108.75 L421.9,108.7 L422.4,108.79 L422.9,108.99 L423.4,109.25 L423.9,109.55 L424.4,109.86 L424.9,110.14 L425.4,110.36 L425.9,110.49 L426.4,110.54 L426.9,110.58 L427.4,110.61 L427.9,110.65 L428.4,110.68 L428.9,110.71 L429.4,110.73 L429.9,110.75 L430.4,110.77 L430.9,110.78 L431.4,110.79 L431.9,110.8 L432.4,110.8 L432.9,110.73 L433.4,110.56 L433.9,110.32 L434.4,110 L434.9,109.62 L435.4,109.2 L435.9,108.74 L436.4,108.25 L436.9,107.75 L437.4,107.24 L437.9,106.75 L438.4,106.27 L438.9,105.82 L439.4,105.42 L439.9,105.06 L440.4,104.75 L440.9,104.42 L441.4,104.08 L441.9,103.73 L442.4,103.38 L442.9,103.02 L443.4,102.68 L443.9,102.34 L444.4,102.02 L444.9,101.71 L445.4,101.42 L445.9,101.15 L446.4,100.92 L446.9,100.72 L447.4,100.55 L447.9,100.42 L448.4,100.34 L448.9,100.3 L449.4,100.31 L449.9,100.34 L450.4,100.4 L450.9,100.48 L451.4,100.58 L451.9,100.7 L452.4,100.83 L452.9,100.97 L453.4,101.12 L453.9,101.28 L454.4,101.44 L454.9,101.6 L455.4,101.76 L455.9,101.92 L456.4,102.08 L456.9,102.22 L457.4,102.36 L457.9,102.48 L458.4,102.59 L458.9,102.71 L459.4,102.84 L459.9,102.97 L460.4,103.1 L460.9,103.24 L461.4,103.37 L461.9,103.5 L462.4,103.63 L462.9,103.76 L463.4,103.88 L463.9,104 L464.4,104.1 L464.9,104.2 L465.4,104.29 L465.9,104.36 L466.4,104.42 L466.9,104.46 L467.4,104.49 L467.9,104.5 L468.4,104.5 L468.9,104.49 L469.4,104.48 L469.9,104.47 L470.4,104.45 L470.9,104.43 L471.4,104.4 L471.9,104.37 L472.4,104.34 L472.9,104.3 L473.4,104.26 L473.9,104.22 L474.4,104.17 L474.9,104.12 L475.4,104.07 L475.9,104.01 L476.4,103.94 L476.9,103.81 L477.4,103.64 L477.9,103.42 L478.4,103.17 L478.9,102.9 L479.4,102.61 L479.9,102.3 L480.4,101.98 L480.9,101.67 L481.4,101.36 L481.9,101.06 L482.4,100.77 L482.9,100.47 L483.4,100.16 L483.9,99.85 L484.4,99.52 L484.9,99.19 L485.4,98.85 L485.9,98.51 L486.4,98.15 L486.9,97.79 L487.4,97.42" fill="none" stroke="#404838" stroke-width="1.0"/>
<line x1="383" y1="71.2" x2="383" y2="181.8" stroke="#2a2a2a" stroke-width="1.5" />
<line x1="383" y1="181.8" x2="489" y2="181.8" stroke="#2a2a2a" stroke-width="1.5" />
<line x1="383" y1="78.5" x2="386.3" y2="78.5" stroke="#2a2a2a" stroke-width="1.2" />
<line x1="383" y1="97.3" x2="386.3" y2="97.3" stroke="#2a2a2a" stroke-width="1.2" />
<line x1="383" y1="116.1" x2="386.3" y2="116.1" stroke="#2a2a2a" stroke-width="1.2" />
<line x1="383" y1="134.9" x2="386.3" y2="134.9" stroke="#2a2a2a" stroke-width="1.2" />
<line x1="383" y1="153.7" x2="386.3" y2="153.7" stroke="#2a2a2a" stroke-width="1.2" />
<line x1="383" y1="172.5" x2="386.3" y2="172.5" stroke="#2a2a2a" stroke-width="1.2" />
<line x1="383" y1="87.9" x2="385.2" y2="87.9" stroke="#2a2a2a" stroke-width="1.2" />
<line x1="383" y1="106.7" x2="385.2" y2="106.7" stroke="#2a2a2a" stroke-width="1.2" />
<line x1="383" y1="125.5" x2="385.2" y2="125.5" stroke="#2a2a2a" stroke-width="1.2" />
<line x1="383" y1="144.3" x2="385.2" y2="144.3" stroke="#2a2a2a" stroke-width="1.2" />
<line x1="383" y1="163.1" x2="385.2" y2="163.1" stroke="#2a2a2a" stroke-width="1.2" />
<line x1="395.5" y1="181.8" x2="395.5" y2="178.5" stroke="#2a2a2a" stroke-width="1.2" />
<line x1="432.31" y1="181.8" x2="432.31" y2="178.5" stroke="#2a2a2a" stroke-width="1.2" />
<line x1="469.12" y1="181.8" x2="469.12" y2="178.5" stroke="#2a2a2a" stroke-width="1.2" />
<line x1="413.9" y1="181.8" x2="413.9" y2="179.6" stroke="#2a2a2a" stroke-width="1.2" />
<line x1="450.72" y1="181.8" x2="450.72" y2="179.6" stroke="#2a2a2a" stroke-width="1.2" />
<line x1="487.52" y1="181.8" x2="487.52" y2="179.6" stroke="#2a2a2a" stroke-width="1.2" />
<text x="376" y="83.4" font-size="14" font-weight="normal" text-anchor="end" >40</text>
<text x="376" y="102.2" font-size="14" font-weight="normal" text-anchor="end" >30</text>
<text x="376" y="121" font-size="14" font-weight="normal" text-anchor="end" >20</text>
<text x="376" y="139.8" font-size="14" font-weight="normal" text-anchor="end" >10</text>
<text x="376" y="158.6" font-size="14" font-weight="normal" text-anchor="end" >0</text>
<text x="376" y="177.4" font-size="14" font-weight="normal" text-anchor="end" >−10</text>
<text x="395.5" y="200.3" font-size="14" font-weight="normal" text-anchor="middle" >0</text>
<text x="432.31" y="200.3" font-size="14" font-weight="normal" text-anchor="middle" >0.3</text>
<text x="469.12" y="200.3" font-size="14" font-weight="normal" text-anchor="middle" >0.6</text>
<text transform="translate(476.5,154.8) scale(1,1.06)" font-size="19.5" font-weight="bold" text-anchor="start" >NIP</text>
<line x1="351" y1="39.8" x2="549" y2="94.2" stroke="#2e3d80" stroke-width="2.4" />
<line x1="351" y1="39.8" x2="549" y2="94.2" stroke="#b04a68" stroke-width="0.6" stroke-dasharray="2,2" opacity="0.7"/>
<line x1="367.3" y1="34.4" x2="367.3" y2="61.5" stroke="#2a5a9c" stroke-width="1.6" />
<line x1="364.2" y1="34.4" x2="370.4" y2="34.4" stroke="#2a5a9c" stroke-width="1.6" />
<line x1="364.2" y1="61.5" x2="370.4" y2="61.5" stroke="#2a5a9c" stroke-width="1.6" />
<circle cx="367.3" cy="47.8" r="2.3" fill="#1f4e96"/>
<line x1="400.35" y1="39.7" x2="400.35" y2="66.1" stroke="#2a5a9c" stroke-width="1.6" />
<line x1="397.25" y1="39.7" x2="403.45" y2="39.7" stroke="#2a5a9c" stroke-width="1.6" />
<line x1="397.25" y1="66.1" x2="403.45" y2="66.1" stroke="#2a5a9c" stroke-width="1.6" />
<circle cx="400.35" cy="53.4" r="2.3" fill="#1f4e96"/>
<line x1="433.4" y1="46.5" x2="433.4" y2="71" stroke="#2a5a9c" stroke-width="1.6" />
<line x1="430.3" y1="46.5" x2="436.5" y2="46.5" stroke="#2a5a9c" stroke-width="1.6" />
<line x1="430.3" y1="71" x2="436.5" y2="71" stroke="#2a5a9c" stroke-width="1.6" />
<circle cx="433.4" cy="59" r="2.3" fill="#1f4e96"/>
<line x1="466.45" y1="56.4" x2="466.45" y2="80" stroke="#2a5a9c" stroke-width="1.6" />
<line x1="463.35" y1="56.4" x2="469.55" y2="56.4" stroke="#2a5a9c" stroke-width="1.6" />
<line x1="463.35" y1="80" x2="469.55" y2="80" stroke="#2a5a9c" stroke-width="1.6" />
<circle cx="466.45" cy="68.4" r="2.3" fill="#1f4e96"/>
<line x1="499.5" y1="71.2" x2="499.5" y2="93" stroke="#2a5a9c" stroke-width="1.6" />
<line x1="496.4" y1="71.2" x2="502.6" y2="71.2" stroke="#2a5a9c" stroke-width="1.6" />
<line x1="496.4" y1="93" x2="502.6" y2="93" stroke="#2a5a9c" stroke-width="1.6" />
<circle cx="499.5" cy="81.9" r="2.3" fill="#1f4e96"/>
<line x1="532.55" y1="83" x2="532.55" y2="102.8" stroke="#2a5a9c" stroke-width="1.6" />
<line x1="529.45" y1="83" x2="535.65" y2="83" stroke="#2a5a9c" stroke-width="1.6" />
<line x1="529.45" y1="102.8" x2="535.65" y2="102.8" stroke="#2a5a9c" stroke-width="1.6" />
<circle cx="532.55" cy="92.4" r="2.3" fill="#1f4e96"/>
<rect x="351" y="8.5" width="198" height="197.2" fill="none" stroke="#2a2a2a" stroke-width="1.9" stroke-linejoin="round"/>
<text x="283" y="16.8" font-size="23.5" font-weight="bold" text-anchor="start" >(b)</text>
<text transform="translate(449.5,257.3) scale(1,1.08)" font-size="22.3" font-weight="bold" text-anchor="middle" >Concentration (μM)</text>
<text transform="translate(314.5,106.8) rotate(-90) scale(1,1.07)" font-size="22.5" font-weight="bold" text-anchor="middle">Current (μA)</text>
<text x="472.5" y="27.3" font-size="16.5" font-weight="bold" text-anchor="middle" >y = – 0.0186 + 32.72</text>
<text x="473" y="46.4" font-size="16.5" font-weight="bold" text-anchor="middle" >R² = 0.9699</text>
<line x1="367.4" y1="290.8" x2="367.4" y2="488" stroke="#e6efe8" stroke-width="1" />
<line x1="400.43" y1="290.8" x2="400.43" y2="488" stroke="#e6efe8" stroke-width="1" />
<line x1="433.46" y1="290.8" x2="433.46" y2="488" stroke="#e6efe8" stroke-width="1" />
<line x1="466.49" y1="290.8" x2="466.49" y2="488" stroke="#e6efe8" stroke-width="1" />
<line x1="499.52" y1="290.8" x2="499.52" y2="488" stroke="#e6efe8" stroke-width="1" />
<line x1="532.55" y1="290.8" x2="532.55" y2="488" stroke="#e6efe8" stroke-width="1" />
<line x1="351" y1="438.7" x2="549" y2="438.7" stroke="#e6efe8" stroke-width="1" />
<line x1="351" y1="389.4" x2="549" y2="389.4" stroke="#e6efe8" stroke-width="1" />
<line x1="351" y1="340.1" x2="549" y2="340.1" stroke="#e6efe8" stroke-width="1" />
<line x1="351" y1="290.8" x2="356" y2="290.8" stroke="#2a2a2a" stroke-width="1.3" />
<line x1="351" y1="340.1" x2="356" y2="340.1" stroke="#2a2a2a" stroke-width="1.3" />
<line x1="351" y1="389.4" x2="356" y2="389.4" stroke="#2a2a2a" stroke-width="1.3" />
<line x1="351" y1="438.7" x2="356" y2="438.7" stroke="#2a2a2a" stroke-width="1.3" />
<line x1="351" y1="488" x2="356" y2="488" stroke="#2a2a2a" stroke-width="1.3" />
<line x1="351" y1="315.45" x2="354.5" y2="315.45" stroke="#2a2a2a" stroke-width="1.3" />
<line x1="351" y1="364.75" x2="354.5" y2="364.75" stroke="#2a2a2a" stroke-width="1.3" />
<line x1="351" y1="414.05" x2="354.5" y2="414.05" stroke="#2a2a2a" stroke-width="1.3" />
<line x1="351" y1="463.35" x2="354.5" y2="463.35" stroke="#2a2a2a" stroke-width="1.3" />
<line x1="367.4" y1="488" x2="367.4" y2="483" stroke="#2a2a2a" stroke-width="1.3" />
<line x1="400.43" y1="488" x2="400.43" y2="483" stroke="#2a2a2a" stroke-width="1.3" />
<line x1="433.46" y1="488" x2="433.46" y2="483" stroke="#2a2a2a" stroke-width="1.3" />
<line x1="466.49" y1="488" x2="466.49" y2="483" stroke="#2a2a2a" stroke-width="1.3" />
<line x1="499.52" y1="488" x2="499.52" y2="483" stroke="#2a2a2a" stroke-width="1.3" />
<line x1="532.55" y1="488" x2="532.55" y2="483" stroke="#2a2a2a" stroke-width="1.3" />
<line x1="383.91" y1="488" x2="383.91" y2="484.5" stroke="#2a2a2a" stroke-width="1.3" />
<line x1="416.94" y1="488" x2="416.94" y2="484.5" stroke="#2a2a2a" stroke-width="1.3" />
<line x1="449.97" y1="488" x2="449.97" y2="484.5" stroke="#2a2a2a" stroke-width="1.3" />
<line x1="483" y1="488" x2="483" y2="484.5" stroke="#2a2a2a" stroke-width="1.3" />
<line x1="516.03" y1="488" x2="516.03" y2="484.5" stroke="#2a2a2a" stroke-width="1.3" />
<text transform="translate(342.4,297.9) scale(1,1.05)" font-size="19.5" font-weight="normal" text-anchor="end" >40</text>
<text transform="translate(342.4,347.2) scale(1,1.05)" font-size="19.5" font-weight="normal" text-anchor="end" >30</text>
<text transform="translate(342.4,396.5) scale(1,1.05)" font-size="19.5" font-weight="normal" text-anchor="end" >20</text>
<text transform="translate(342.4,445.8) scale(1,1.05)" font-size="19.5" font-weight="normal" text-anchor="end" >10</text>
<text transform="translate(342.4,495.1) scale(1,1.05)" font-size="19.5" font-weight="normal" text-anchor="end" >0</text>
<text transform="translate(367.4,511.6) scale(1,1.05)" font-size="19.5" font-weight="normal" text-anchor="middle" >0</text>
<text transform="translate(400.43,511.6) scale(1,1.05)" font-size="19.5" font-weight="normal" text-anchor="middle" >100</text>
<text transform="translate(433.46,511.6) scale(1,1.05)" font-size="19.5" font-weight="normal" text-anchor="middle" >200</text>
<text transform="translate(466.49,511.6) scale(1,1.05)" font-size="19.5" font-weight="normal" text-anchor="middle" >300</text>
<text transform="translate(499.52,511.6) scale(1,1.05)" font-size="19.5" font-weight="normal" text-anchor="middle" >400</text>
<text transform="translate(532.55,511.6) scale(1,1.05)" font-size="19.5" font-weight="normal" text-anchor="middle" >500</text>
<line x1="351" y1="381.8" x2="549" y2="442.6" stroke="#ee4a22" stroke-width="2.3" />
<line x1="367.4" y1="372.2" x2="367.4" y2="387.9" stroke="#ee4a22" stroke-width="1.6" />
<line x1="364.1" y1="372.2" x2="370.7" y2="372.2" stroke="#ee4a22" stroke-width="1.6" />
<line x1="364.1" y1="387.9" x2="370.7" y2="387.9" stroke="#ee4a22" stroke-width="1.6" />
<circle cx="367.4" cy="380.3" r="2.2" fill="#ee4a22"/>
<line x1="400.43" y1="394.7" x2="400.43" y2="407.7" stroke="#ee4a22" stroke-width="1.6" />
<line x1="397.13" y1="394.7" x2="403.73" y2="394.7" stroke="#ee4a22" stroke-width="1.6" />
<line x1="397.13" y1="407.7" x2="403.73" y2="407.7" stroke="#ee4a22" stroke-width="1.6" />
<circle cx="400.43" cy="401.2" r="2.2" fill="#ee4a22"/>
<line x1="433.46" y1="401.6" x2="433.46" y2="413.6" stroke="#ee4a22" stroke-width="1.6" />
<line x1="430.16" y1="401.6" x2="436.76" y2="401.6" stroke="#ee4a22" stroke-width="1.6" />
<line x1="430.16" y1="413.6" x2="436.76" y2="413.6" stroke="#ee4a22" stroke-width="1.6" />
<circle cx="433.46" cy="407.5" r="2.2" fill="#ee4a22"/>
<line x1="466.49" y1="412.3" x2="466.49" y2="422.6" stroke="#ee4a22" stroke-width="1.6" />
<line x1="463.19" y1="412.3" x2="469.79" y2="412.3" stroke="#ee4a22" stroke-width="1.6" />
<line x1="463.19" y1="422.6" x2="469.79" y2="422.6" stroke="#ee4a22" stroke-width="1.6" />
<circle cx="466.49" cy="417.1" r="2.2" fill="#ee4a22"/>
<line x1="499.52" y1="423.7" x2="499.52" y2="432.5" stroke="#ee4a22" stroke-width="1.6" />
<line x1="496.22" y1="423.7" x2="502.82" y2="423.7" stroke="#ee4a22" stroke-width="1.6" />
<line x1="496.22" y1="432.5" x2="502.82" y2="432.5" stroke="#ee4a22" stroke-width="1.6" />
<circle cx="499.52" cy="428" r="2.2" fill="#ee4a22"/>
<line x1="532.55" y1="433.5" x2="532.55" y2="440.8" stroke="#ee4a22" stroke-width="1.6" />
<line x1="529.25" y1="433.5" x2="535.85" y2="433.5" stroke="#ee4a22" stroke-width="1.6" />
<line x1="529.25" y1="440.8" x2="535.85" y2="440.8" stroke="#ee4a22" stroke-width="1.6" />
<circle cx="532.55" cy="437.3" r="2.2" fill="#ee4a22"/>
<path d="M446,379 L446.5,378.98 L447,378.93 L447.5,378.84 L448,378.72 L448.5,378.58 L449,378.4 L449.5,378.2 L450,377.97 L450.5,377.72 L451,377.45 L451.5,377.16 L452,376.86 L452.5,376.54 L453,376.2 L453.5,375.85 L454,375.5 L454.5,375.13 L455,374.76 L455.5,374.38 L456,374 L456.5,373.6 L457,373.16 L457.5,372.69 L458,372.17 L458.5,371.6 L459,370.99 L459.5,370.32 L460,369.6 L460.5,368.82 L461,367.99 L461.5,367.09 L462,366.13 L462.5,365.1 L463,364 L463.5,362.65 L464,360.9 L464.5,358.83 L465,356.48 L465.5,353.91 L466,351.2 L466.5,348.39 L467,345.55 L467.5,342.73 L468,340 L468.5,337.18 L469,334.11 L469.5,330.87 L470,327.54 L470.5,324.19 L471,320.91 L471.5,317.77 L472,314.85 L472.5,312.24 L473,310 L473.5,307.92 L474,305.79 L474.5,303.71 L475,301.78 L475.5,300.1 L476,298.78 L476.5,297.91 L477,297.6 L477.5,297.68 L478,297.91 L478.5,298.25 L479,298.7 L479.5,299.22 L480,299.79 L480.5,300.39 L481,301 L481.5,301.72 L482,302.63 L482.5,303.69 L483,304.87 L483.5,306.12 L484,307.4 L484.5,308.67 L485,309.89 L485.5,311.01 L486,312 L486.5,312.9 L487,313.8 L487.5,314.68 L488,315.56 L488.5,316.41 L489,317.25 L489.5,318.07 L490,318.86 L490.5,319.63 L491,320.37 L491.5,321.07 L492,321.74 L492.5,322.37 L493,322.96 L493.5,323.5 L494,324 L494.5,324.47 L495,324.92 L495.5,325.37 L496,325.8 L496.5,326.22 L497,326.62 L497.5,327.02 L498,327.4 L498.5,327.77 L499,328.13 L499.5,328.48 L500,328.82 L500.5,329.14 L501,329.46 L501.5,329.76 L502,330.05 L502.5,330.33 L503,330.6 L503.5,330.86 L504,331.11 L504.5,331.35 L505,331.58 L505.5,331.79 L506,332 L506.5,332.2 L507,332.4 L507.5,332.6 L508,332.79 L508.5,332.98 L509,333.17 L509.5,333.36 L510,333.55 L510.5,333.73 L511,333.91 L511.5,334.08 L512,334.26 L512.5,334.43 L513,334.59 L513.5,334.75 L514,334.91 L514.5,335.06 L515,335.21 L515.5,335.36 L516,335.5 L516.5,335.64 L517,335.77 L517.5,335.89 L518,336.01 L518.5,336.13 L519,336.24 L519.5,336.34 L520,336.44 L520.5,336.53 L521,336.62 L521.5,336.7 L522,336.77 L522.5,336.84 L523,336.9 L523.5,336.95 L524,337 L524.5,337.04 L525,337.08 L525.5,337.13 L526,337.17 L526.5,337.21 L527,337.25 L527.5,337.29 L528,337.32 L528.5,337.36 L529,337.4 L529.5,337.43 L530,337.47 L530.5,337.5 L531,337.54 L531.5,337.57 L532,337.6 L532.5,337.63 L533,337.66 L533.5,337.69 L534,337.71 L534.5,337.74 L535,337.77 L535.5,337.79 L536,337.81 L536.5,337.83 L537,337.85 L537.5,337.87 L538,337.89 L538.5,337.91 L539,337.92 L539.5,337.94 L540,337.95 L540.5,337.96 L541,337.97 L541.5,337.98 L542,337.99 L542.5,337.99 L543,338 L543.5,338 L544,338" fill="none" stroke="#3a5ca0" stroke-width="1.0"/>
<path d="M446,377.5 L446.5,377.48 L447,377.44 L447.5,377.36 L448,377.25 L448.5,377.11 L449,376.95 L449.5,376.77 L450,376.56 L450.5,376.34 L451,376.09 L451.5,375.83 L452,375.55 L452.5,375.26 L453,374.95 L453.5,374.64 L454,374.31 L454.5,373.98 L455,373.64 L455.5,373.3 L456,372.95 L456.5,372.59 L457,372.19 L457.5,371.75 L458,371.28 L458.5,370.76 L459,370.2 L459.5,369.59 L460,368.94 L460.5,368.23 L461,367.47 L461.5,366.66 L462,365.78 L462.5,364.85 L463,363.85 L463.5,362.63 L464,361.05 L464.5,359.18 L465,357.07 L465.5,354.76 L466,352.32 L466.5,349.8 L467,347.24 L467.5,344.71 L468,342.25 L468.5,339.72 L469,336.96 L469.5,334.06 L470,331.07 L470.5,328.07 L471,325.12 L471.5,322.3 L472,319.67 L472.5,317.3 L473,315.25 L473.5,313.33 L474,311.37 L474.5,309.45 L475,307.66 L475.5,306.1 L476,304.86 L476.5,304.01 L477,303.66 L477.5,303.65 L478,303.76 L478.5,303.98 L479,304.29 L479.5,304.67 L480,305.1 L480.5,305.56 L481,306.04 L481.5,306.63 L482,307.39 L482.5,308.3 L483,309.31 L483.5,310.39 L484,311.49 L484.5,312.59 L485,313.65 L485.5,314.63 L486,315.5 L486.5,316.3 L487,317.09 L487.5,317.88 L488,318.65 L488.5,319.41 L489,320.16 L489.5,320.88 L490,321.58 L490.5,322.26 L491,322.92 L491.5,323.55 L492,324.15 L492.5,324.72 L493,325.25 L493.5,325.75 L494,326.21 L494.5,326.64 L495,327.06 L495.5,327.48 L496,327.88 L496.5,328.27 L497,328.66 L497.5,329.03 L498,329.39 L498.5,329.74 L499,330.09 L499.5,330.42 L500,330.74 L500.5,331.05 L501,331.36 L501.5,331.65 L502,331.93 L502.5,332.2 L503,332.46 L503.5,332.71 L504,332.95 L504.5,333.18 L505,333.39 L505.5,333.6 L506,333.8 L506.5,333.99 L507,334.18 L507.5,334.37 L508,334.56 L508.5,334.74 L509,334.92 L509.5,335.11 L510,335.28 L510.5,335.46 L511,335.63 L511.5,335.8 L512,335.97 L512.5,336.13 L513,336.29 L513.5,336.45 L514,336.6 L514.5,336.75 L515,336.9 L515.5,337.04 L516,337.17 L516.5,337.3 L517,337.43 L517.5,337.55 L518,337.67 L518.5,337.78 L519,337.88 L519.5,337.98 L520,338.07 L520.5,338.16 L521,338.24 L521.5,338.32 L522,338.39 L522.5,338.45 L523,338.5 L523.5,338.55 L524,338.59 L524.5,338.63 L525,338.66 L525.5,338.69 L526,338.72 L526.5,338.76 L527,338.78 L527.5,338.81 L528,338.84 L528.5,338.86 L529,338.88 L529.5,338.91 L530,338.93 L530.5,338.94 L531,338.96 L531.5,338.97 L532,338.99 L532.5,339 L533,339.01 L533.5,339.02 L534,339.02 L534.5,339.03 L535,339.03 L535.5,339.03 L536,339.03 L536.5,339.03 L537,339.02 L537.5,339.02 L538,339.01 L538.5,339 L539,338.99 L539.5,338.97 L540,338.96 L540.5,338.94 L541,338.92 L541.5,338.89 L542,338.87 L542.5,338.84 L543,338.81 L543.5,338.78 L544,338.75" fill="none" stroke="#d8503a" stroke-width="1.0"/>
<path d="M446,374.5 L446.5,374.49 L447,374.45 L447.5,374.38 L448,374.3 L448.5,374.19 L449,374.06 L449.5,373.91 L450,373.75 L450.5,373.57 L451,373.37 L451.5,373.16 L452,372.94 L452.5,372.7 L453,372.46 L453.5,372.2 L454,371.94 L454.5,371.67 L455,371.4 L455.5,371.13 L456,370.85 L456.5,370.56 L457,370.24 L457.5,369.89 L458,369.5 L458.5,369.09 L459,368.63 L459.5,368.15 L460,367.62 L460.5,367.05 L461,366.44 L461.5,365.79 L462,365.09 L462.5,364.34 L463,363.55 L463.5,362.58 L464,361.35 L464.5,359.89 L465,358.25 L465.5,356.46 L466,354.57 L466.5,352.61 L467,350.63 L467.5,348.66 L468,346.75 L468.5,344.78 L469,342.66 L469.5,340.42 L470,338.12 L470.5,335.81 L471,333.54 L471.5,331.36 L472,329.32 L472.5,327.44 L473,325.76 L473.5,324.15 L474,322.52 L474.5,320.92 L475,319.43 L475.5,318.1 L476,317.01 L476.5,316.21 L477,315.78 L477.5,315.59 L478,315.48 L478.5,315.45 L479,315.48 L479.5,315.57 L480,315.71 L480.5,315.9 L481,316.12 L481.5,316.45 L482,316.92 L482.5,317.52 L483,318.19 L483.5,318.92 L484,319.67 L484.5,320.43 L485,321.17 L485.5,321.87 L486,322.5 L486.5,323.09 L487,323.68 L487.5,324.26 L488,324.84 L488.5,325.41 L489,325.96 L489.5,326.5 L490,327.02 L490.5,327.53 L491,328.02 L491.5,328.5 L492,328.97 L492.5,329.41 L493,329.84 L493.5,330.24 L494,330.62 L494.5,330.99 L495,331.34 L495.5,331.7 L496,332.05 L496.5,332.39 L497,332.72 L497.5,333.05 L498,333.38 L498.5,333.69 L499,334 L499.5,334.3 L500,334.59 L500.5,334.88 L501,335.15 L501.5,335.42 L502,335.68 L502.5,335.93 L503,336.17 L503.5,336.4 L504,336.62 L504.5,336.83 L505,337.03 L505.5,337.22 L506,337.4 L506.5,337.57 L507,337.75 L507.5,337.92 L508,338.09 L508.5,338.26 L509,338.43 L509.5,338.59 L510,338.76 L510.5,338.92 L511,339.08 L511.5,339.24 L512,339.39 L512.5,339.55 L513,339.7 L513.5,339.84 L514,339.98 L514.5,340.12 L515,340.26 L515.5,340.39 L516,340.52 L516.5,340.64 L517,340.75 L517.5,340.87 L518,340.97 L518.5,341.07 L519,341.17 L519.5,341.26 L520,341.34 L520.5,341.42 L521,341.49 L521.5,341.56 L522,341.61 L522.5,341.66 L523,341.71 L523.5,341.74 L524,341.77 L524.5,341.79 L525,341.81 L525.5,341.83 L526,341.84 L526.5,341.85 L527,341.86 L527.5,341.86 L528,341.86 L528.5,341.86 L529,341.86 L529.5,341.85 L530,341.84 L530.5,341.83 L531,341.81 L531.5,341.79 L532,341.77 L532.5,341.74 L533,341.71 L533.5,341.68 L534,341.64 L534.5,341.6 L535,341.56 L535.5,341.52 L536,341.47 L536.5,341.42 L537,341.36 L537.5,341.3 L538,341.24 L538.5,341.18 L539,341.11 L539.5,341.04 L540,340.96 L540.5,340.89 L541,340.81 L541.5,340.72 L542,340.63 L542.5,340.54 L543,340.45 L543.5,340.35 L544,340.25" fill="none" stroke="#5aa050" stroke-width="1.0"/>
<path d="M446,373.7 L446.5,373.69 L447,373.65 L447.5,373.59 L448,373.51 L448.5,373.41 L449,373.29 L449.5,373.15 L450,373 L450.5,372.83 L451,372.64 L451.5,372.45 L452,372.24 L452.5,372.02 L453,371.79 L453.5,371.55 L454,371.31 L454.5,371.06 L455,370.81 L455.5,370.55 L456,370.29 L456.5,370.02 L457,369.72 L457.5,369.39 L458,369.03 L458.5,368.64 L459,368.22 L459.5,367.76 L460,367.27 L460.5,366.74 L461,366.17 L461.5,365.56 L462,364.9 L462.5,364.21 L463,363.47 L463.5,362.57 L464,361.43 L464.5,360.08 L465,358.57 L465.5,356.91 L466,355.17 L466.5,353.36 L467,351.53 L467.5,349.71 L468,347.95 L468.5,346.14 L469,344.18 L469.5,342.12 L470,340 L470.5,337.88 L471,335.79 L471.5,333.78 L472,331.89 L472.5,330.14 L473,328.56 L473.5,327.03 L474,325.49 L474.5,323.98 L475,322.57 L475.5,321.3 L476,320.25 L476.5,319.47 L477,319.01 L477.5,318.78 L478,318.61 L478.5,318.51 L479,318.46 L479.5,318.48 L480,318.54 L480.5,318.66 L481,318.81 L481.5,319.07 L482,319.47 L482.5,319.98 L483,320.56 L483.5,321.19 L484,321.85 L484.5,322.52 L485,323.18 L485.5,323.8 L486,324.37 L486.5,324.9 L487,325.43 L487.5,325.96 L488,326.49 L488.5,327 L489,327.51 L489.5,328 L490,328.48 L490.5,328.94 L491,329.39 L491.5,329.83 L492,330.25 L492.5,330.66 L493,331.06 L493.5,331.44 L494,331.8 L494.5,332.14 L495,332.49 L495.5,332.82 L496,333.16 L496.5,333.49 L497,333.81 L497.5,334.13 L498,334.44 L498.5,334.74 L499,335.04 L499.5,335.33 L500,335.62 L500.5,335.9 L501,336.17 L501.5,336.43 L502,336.68 L502.5,336.92 L503,337.16 L503.5,337.38 L504,337.6 L504.5,337.81 L505,338 L505.5,338.19 L506,338.36 L506.5,338.53 L507,338.7 L507.5,338.86 L508,339.03 L508.5,339.19 L509,339.36 L509.5,339.52 L510,339.68 L510.5,339.84 L511,340 L511.5,340.15 L512,340.31 L512.5,340.46 L513,340.6 L513.5,340.75 L514,340.89 L514.5,341.02 L515,341.15 L515.5,341.28 L516,341.41 L516.5,341.53 L517,341.64 L517.5,341.75 L518,341.85 L518.5,341.95 L519,342.05 L519.5,342.13 L520,342.22 L520.5,342.29 L521,342.36 L521.5,342.42 L522,342.47 L522.5,342.52 L523,342.56 L523.5,342.59 L524,342.62 L524.5,342.64 L525,342.65 L525.5,342.66 L526,342.67 L526.5,342.68 L527,342.68 L527.5,342.68 L528,342.67 L528.5,342.66 L529,342.65 L529.5,342.64 L530,342.62 L530.5,342.59 L531,342.57 L531.5,342.54 L532,342.51 L532.5,342.47 L533,342.43 L533.5,342.39 L534,342.34 L534.5,342.29 L535,342.24 L535.5,342.18 L536,342.12 L536.5,342.05 L537,341.98 L537.5,341.91 L538,341.84 L538.5,341.76 L539,341.68 L539.5,341.59 L540,341.5 L540.5,341.41 L541,341.31 L541.5,341.21 L542,341.1 L542.5,341 L543,340.88 L543.5,340.77 L544,340.65" fill="none" stroke="#9a3040" stroke-width="1.0"/>
<path d="M446,372.1 L446.5,372.09 L447,372.06 L447.5,372.01 L448,371.94 L448.5,371.85 L449,371.75 L449.5,371.63 L450,371.5 L450.5,371.35 L451,371.19 L451.5,371.02 L452,370.84 L452.5,370.66 L453,370.46 L453.5,370.26 L454,370.05 L454.5,369.83 L455,369.61 L455.5,369.39 L456,369.17 L456.5,368.94 L457,368.68 L457.5,368.39 L458,368.08 L458.5,367.75 L459,367.38 L459.5,366.99 L460,366.56 L460.5,366.11 L461,365.62 L461.5,365.09 L462,364.54 L462.5,363.94 L463,363.31 L463.5,362.55 L464,361.59 L464.5,360.46 L465,359.2 L465.5,357.82 L466,356.36 L466.5,354.86 L467,353.34 L467.5,351.82 L468,350.35 L468.5,348.84 L469,347.22 L469.5,345.51 L470,343.77 L470.5,342.01 L471,340.28 L471.5,338.61 L472,337.03 L472.5,335.55 L473,334.16 L473.5,332.8 L474,331.44 L474.5,330.1 L475,328.84 L475.5,327.7 L476,326.73 L476.5,325.98 L477,325.48 L477.5,325.14 L478,324.86 L478.5,324.62 L479,324.43 L479.5,324.29 L480,324.2 L480.5,324.17 L481,324.19 L481.5,324.31 L482,324.55 L482.5,324.89 L483,325.3 L483.5,325.74 L484,326.22 L484.5,326.7 L485,327.19 L485.5,327.66 L486,328.1 L486.5,328.52 L487,328.94 L487.5,329.37 L488,329.79 L488.5,330.2 L489,330.61 L489.5,331 L490,331.38 L490.5,331.74 L491,332.11 L491.5,332.47 L492,332.82 L492.5,333.17 L493,333.51 L493.5,333.83 L494,334.15 L494.5,334.46 L495,334.77 L495.5,335.08 L496,335.38 L496.5,335.68 L497,335.98 L497.5,336.27 L498,336.56 L498.5,336.85 L499,337.13 L499.5,337.4 L500,337.67 L500.5,337.94 L501,338.19 L501.5,338.44 L502,338.68 L502.5,338.91 L503,339.14 L503.5,339.35 L504,339.56 L504.5,339.76 L505,339.94 L505.5,340.12 L506,340.28 L506.5,340.44 L507,340.6 L507.5,340.75 L508,340.91 L508.5,341.07 L509,341.23 L509.5,341.38 L510,341.53 L510.5,341.69 L511,341.84 L511.5,341.99 L512,342.13 L512.5,342.28 L513,342.42 L513.5,342.55 L514,342.69 L514.5,342.82 L515,342.95 L515.5,343.07 L516,343.19 L516.5,343.3 L517,343.41 L517.5,343.52 L518,343.62 L518.5,343.71 L519,343.8 L519.5,343.88 L520,343.96 L520.5,344.03 L521,344.09 L521.5,344.15 L522,344.2 L522.5,344.24 L523,344.27 L523.5,344.3 L524,344.31 L524.5,344.33 L525,344.33 L525.5,344.33 L526,344.33 L526.5,344.33 L527,344.32 L527.5,344.3 L528,344.29 L528.5,344.26 L529,344.24 L529.5,344.21 L530,344.17 L530.5,344.13 L531,344.09 L531.5,344.04 L532,343.99 L532.5,343.93 L533,343.87 L533.5,343.8 L534,343.74 L534.5,343.66 L535,343.58 L535.5,343.5 L536,343.42 L536.5,343.33 L537,343.23 L537.5,343.13 L538,343.03 L538.5,342.92 L539,342.81 L539.5,342.69 L540,342.57 L540.5,342.45 L541,342.32 L541.5,342.18 L542,342.05 L542.5,341.9 L543,341.76 L543.5,341.61 L544,341.45" fill="none" stroke="#90c8e8" stroke-width="1.0"/>
<path d="M446,370.2 L446.5,370.19 L447,370.17 L447.5,370.13 L448,370.07 L448.5,370 L449,369.92 L449.5,369.82 L450,369.71 L450.5,369.6 L451,369.47 L451.5,369.33 L452,369.19 L452.5,369.04 L453,368.88 L453.5,368.71 L454,368.55 L454.5,368.37 L455,368.2 L455.5,368.02 L456,367.84 L456.5,367.65 L457,367.44 L457.5,367.21 L458,366.96 L458.5,366.69 L459,366.39 L459.5,366.07 L460,365.73 L460.5,365.36 L461,364.96 L461.5,364.54 L462,364.1 L462.5,363.62 L463,363.12 L463.5,362.52 L464,361.78 L464.5,360.91 L465,359.95 L465.5,358.9 L466,357.79 L466.5,356.64 L467,355.48 L467.5,354.33 L468,353.2 L468.5,352.05 L469,350.82 L469.5,349.54 L470,348.23 L470.5,346.92 L471,345.61 L471.5,344.35 L472,343.14 L472.5,341.97 L473,340.81 L473.5,339.66 L474,338.5 L474.5,337.37 L475,336.29 L475.5,335.3 L476,334.43 L476.5,333.7 L477,333.15 L477.5,332.71 L478,332.28 L478.5,331.88 L479,331.52 L479.5,331.2 L480,330.93 L480.5,330.72 L481,330.58 L481.5,330.53 L482,330.59 L482.5,330.73 L483,330.92 L483.5,331.14 L484,331.4 L484.5,331.67 L485,331.96 L485.5,332.25 L486,332.53 L486.5,332.82 L487,333.11 L487.5,333.41 L488,333.71 L488.5,334 L489,334.28 L489.5,334.56 L490,334.82 L490.5,335.08 L491,335.34 L491.5,335.61 L492,335.87 L492.5,336.14 L493,336.41 L493.5,336.68 L494,336.95 L494.5,337.21 L495,337.48 L495.5,337.75 L496,338.02 L496.5,338.29 L497,338.56 L497.5,338.82 L498,339.09 L498.5,339.35 L499,339.61 L499.5,339.86 L500,340.11 L500.5,340.36 L501,340.6 L501.5,340.83 L502,341.06 L502.5,341.28 L503,341.49 L503.5,341.69 L504,341.89 L504.5,342.07 L505,342.24 L505.5,342.41 L506,342.56 L506.5,342.71 L507,342.85 L507.5,343 L508,343.15 L508.5,343.3 L509,343.44 L509.5,343.59 L510,343.73 L510.5,343.88 L511,344.02 L511.5,344.16 L512,344.3 L512.5,344.44 L513,344.57 L513.5,344.7 L514,344.83 L514.5,344.96 L515,345.08 L515.5,345.19 L516,345.31 L516.5,345.42 L517,345.52 L517.5,345.62 L518,345.71 L518.5,345.8 L519,345.88 L519.5,345.96 L520,346.03 L520.5,346.09 L521,346.15 L521.5,346.2 L522,346.24 L522.5,346.27 L523,346.3 L523.5,346.32 L524,346.33 L524.5,346.33 L525,346.33 L525.5,346.32 L526,346.31 L526.5,346.29 L527,346.27 L527.5,346.24 L528,346.2 L528.5,346.16 L529,346.12 L529.5,346.07 L530,346.02 L530.5,345.96 L531,345.89 L531.5,345.82 L532,345.75 L532.5,345.67 L533,345.58 L533.5,345.49 L534,345.39 L534.5,345.29 L535,345.19 L535.5,345.08 L536,344.96 L536.5,344.84 L537,344.71 L537.5,344.58 L538,344.44 L538.5,344.3 L539,344.15 L539.5,344 L540,343.84 L540.5,343.68 L541,343.51 L541.5,343.34 L542,343.16 L542.5,342.98 L543,342.79 L543.5,342.6 L544,342.4" fill="none" stroke="#e8d040" stroke-width="1.1"/>
<path d="M446,369 L446.5,368.99 L447,368.97 L447.5,368.94 L448,368.89 L448.5,368.83 L449,368.76 L449.5,368.68 L450,368.59 L450.5,368.49 L451,368.38 L451.5,368.27 L452,368.14 L452.5,368.01 L453,367.88 L453.5,367.74 L454,367.6 L454.5,367.45 L455,367.3 L455.5,367.15 L456,367 L456.5,366.84 L457,366.66 L457.5,366.46 L458,366.25 L458.5,366.02 L459,365.76 L459.5,365.49 L460,365.2 L460.5,364.88 L461,364.55 L461.5,364.2 L462,363.82 L462.5,363.42 L463,363 L463.5,362.51 L464,361.9 L464.5,361.2 L465,360.42 L465.5,359.58 L466,358.69 L466.5,357.77 L467,356.84 L467.5,355.91 L468,355 L468.5,354.08 L469,353.1 L469.5,352.09 L470,351.06 L470.5,350.02 L471,348.98 L471.5,347.97 L472,347 L472.5,346.03 L473,345.01 L473.5,343.98 L474,342.96 L474.5,341.96 L475,341 L475.5,340.1 L476,339.29 L476.5,338.58 L477,338 L477.5,337.48 L478,336.97 L478.5,336.47 L479,335.99 L479.5,335.56 L480,335.17 L480.5,334.85 L481,334.61 L481.5,334.45 L482,334.4 L482.5,334.42 L483,334.47 L483.5,334.56 L484,334.67 L484.5,334.81 L485,334.96 L485.5,335.14 L486,335.33 L486.5,335.54 L487,335.75 L487.5,335.96 L488,336.18 L488.5,336.4 L489,336.61 L489.5,336.81 L490,337 L490.5,337.19 L491,337.38 L491.5,337.59 L492,337.8 L492.5,338.02 L493,338.25 L493.5,338.48 L494,338.71 L494.5,338.95 L495,339.19 L495.5,339.44 L496,339.69 L496.5,339.93 L497,340.18 L497.5,340.43 L498,340.68 L498.5,340.93 L499,341.17 L499.5,341.41 L500,341.65 L500.5,341.89 L501,342.12 L501.5,342.34 L502,342.56 L502.5,342.77 L503,342.97 L503.5,343.17 L504,343.36 L504.5,343.53 L505,343.7 L505.5,343.86 L506,344 L506.5,344.14 L507,344.28 L507.5,344.42 L508,344.56 L508.5,344.7 L509,344.84 L509.5,344.98 L510,345.12 L510.5,345.26 L511,345.4 L511.5,345.54 L512,345.67 L512.5,345.8 L513,345.93 L513.5,346.06 L514,346.18 L514.5,346.3 L515,346.42 L515.5,346.54 L516,346.64 L516.5,346.75 L517,346.85 L517.5,346.95 L518,347.04 L518.5,347.12 L519,347.2 L519.5,347.27 L520,347.34 L520.5,347.4 L521,347.45 L521.5,347.49 L522,347.53 L522.5,347.56 L523,347.58 L523.5,347.6 L524,347.6 L524.5,347.6 L525,347.59 L525.5,347.57 L526,347.55 L526.5,347.53 L527,347.5 L527.5,347.46 L528,347.41 L528.5,347.36 L529,347.31 L529.5,347.25 L530,347.18 L530.5,347.11 L531,347.03 L531.5,346.95 L532,346.86 L532.5,346.76 L533,346.66 L533.5,346.55 L534,346.44 L534.5,346.32 L535,346.2 L535.5,346.07 L536,345.93 L536.5,345.79 L537,345.65 L537.5,345.49 L538,345.34 L538.5,345.17 L539,345 L539.5,344.83 L540,344.65 L540.5,344.46 L541,344.27 L541.5,344.07 L542,343.87 L542.5,343.66 L543,343.45 L543.5,343.23 L544,343" fill="none" stroke="#404838" stroke-width="1.0"/>
<line x1="441" y1="292.8" x2="441" y2="391" stroke="#2a2a2a" stroke-width="1.5" />
<line x1="441" y1="391" x2="545.4" y2="391" stroke="#2a2a2a" stroke-width="1.5" />
<line x1="441" y1="307.6" x2="444.3" y2="307.6" stroke="#2a2a2a" stroke-width="1.2" />
<line x1="441" y1="335.4" x2="444.3" y2="335.4" stroke="#2a2a2a" stroke-width="1.2" />
<line x1="441" y1="363.2" x2="444.3" y2="363.2" stroke="#2a2a2a" stroke-width="1.2" />
<line x1="441" y1="391" x2="444.3" y2="391" stroke="#2a2a2a" stroke-width="1.2" />
<line x1="441" y1="293.7" x2="443.2" y2="293.7" stroke="#2a2a2a" stroke-width="1.2" />
<line x1="441" y1="321.5" x2="443.2" y2="321.5" stroke="#2a2a2a" stroke-width="1.2" />
<line x1="441" y1="349.3" x2="443.2" y2="349.3" stroke="#2a2a2a" stroke-width="1.2" />
<line x1="441" y1="377.1" x2="443.2" y2="377.1" stroke="#2a2a2a" stroke-width="1.2" />
<line x1="452.3" y1="391" x2="452.3" y2="387.7" stroke="#2a2a2a" stroke-width="1.2" />
<line x1="489.5" y1="391" x2="489.5" y2="387.7" stroke="#2a2a2a" stroke-width="1.2" />
<line x1="526.7" y1="391" x2="526.7" y2="387.7" stroke="#2a2a2a" stroke-width="1.2" />
<line x1="470.9" y1="391" x2="470.9" y2="388.8" stroke="#2a2a2a" stroke-width="1.2" />
<line x1="508.1" y1="391" x2="508.1" y2="388.8" stroke="#2a2a2a" stroke-width="1.2" />
<line x1="545.3" y1="391" x2="545.3" y2="388.8" stroke="#2a2a2a" stroke-width="1.2" />
<text x="434.5" y="312.5" font-size="14" font-weight="normal" text-anchor="end" >20</text>
<text x="434.5" y="340.3" font-size="14" font-weight="normal" text-anchor="end" >10</text>
<text x="434.5" y="368.1" font-size="14" font-weight="normal" text-anchor="end" >0</text>
<text x="434.5" y="395.9" font-size="14" font-weight="normal" text-anchor="end" >−10</text>
<text x="452.3" y="408.5" font-size="14" font-weight="normal" text-anchor="middle" >0</text>
<text x="489.5" y="408.5" font-size="14" font-weight="normal" text-anchor="middle" >0.3</text>
<text x="526.7" y="408.5" font-size="14" font-weight="normal" text-anchor="middle" >0.6</text>
<text transform="translate(472.2,374.9) scale(1,1.07)" font-size="19.5" font-weight="bold" text-anchor="start" >MIP</text>
<rect x="351" y="290.8" width="198" height="197.2" fill="none" stroke="#2a2a2a" stroke-width="1.9" stroke-linejoin="round"/>
<text x="283" y="299.8" font-size="23.5" font-weight="bold" text-anchor="start" >(d)</text>
<text transform="translate(449.5,539.8) scale(1,1.08)" font-size="22.3" font-weight="bold" text-anchor="middle" >Concentration (μM)</text>
<text transform="translate(314.5,389.3) rotate(-90) scale(1,1.07)" font-size="22.5" font-weight="bold" text-anchor="middle">Current (μA)</text>
<text x="425" y="458.8" font-size="16.5" font-weight="bold" text-anchor="middle" >y = – 0.0217 + 20.87</text>
<text x="426" y="478.8" font-size="16.5" font-weight="bold" text-anchor="middle" >R² = 0.9714</text>
</svg>
</body></html>
